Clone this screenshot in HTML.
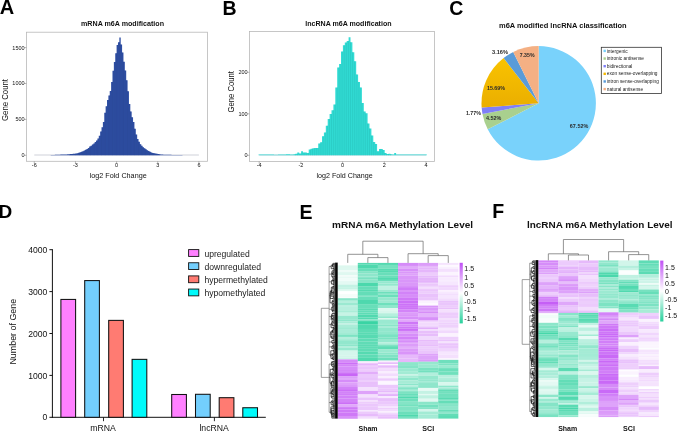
<!DOCTYPE html>
<html><head><meta charset="utf-8"><style>
html,body{margin:0;padding:0;background:#fff;width:677px;height:432px;overflow:hidden}
svg{display:block;font-family:"Liberation Sans", sans-serif;will-change:transform}
</style></head><body>
<svg width="677" height="432" viewBox="0 0 677 432">
<rect width="677" height="432" fill="#fff"/>
<text x="-0.30" y="14.00" font-size="20.00" font-weight="bold" text-anchor="start" fill="#000">A</text>
<text x="222.60" y="14.60" font-size="19.50" font-weight="bold" text-anchor="start" fill="#000">B</text>
<text x="449.20" y="14.80" font-size="19.50" font-weight="bold" text-anchor="start" fill="#000">C</text>
<text x="-1.40" y="218.30" font-size="19.00" font-weight="bold" text-anchor="start" fill="#000">D</text>
<text x="299.40" y="219.10" font-size="19.50" font-weight="bold" text-anchor="start" fill="#000">E</text>
<text x="492.20" y="217.80" font-size="19.50" font-weight="bold" text-anchor="start" fill="#000">F</text>
<line x1="34.28" y1="155.00" x2="198.92" y2="155.00" stroke="#b0b4c0" stroke-width="0.6"/>
<path d="M34.28 155.30 L34.28 155.30 L35.65 155.30 L35.65 155.30 L37.02 155.30 L37.02 155.30 L38.40 155.30 L38.40 155.30 L39.77 155.30 L39.77 155.30 L41.14 155.30 L41.14 155.30 L42.51 155.30 L42.51 155.30 L43.88 155.30 L43.88 155.30 L45.26 155.30 L45.26 155.30 L46.63 155.30 L46.63 155.30 L48.00 155.30 L48.00 155.30 L49.37 155.30 L49.37 155.30 L50.74 155.30 L50.74 154.97 L52.12 154.97 L52.12 154.94 L53.49 154.94 L53.49 154.90 L54.86 154.90 L54.86 154.85 L56.23 154.85 L56.23 154.79 L57.60 154.79 L57.60 154.73 L58.98 154.73 L58.98 154.67 L60.35 154.67 L60.35 154.62 L61.72 154.62 L61.72 154.58 L63.09 154.58 L63.09 154.55 L64.46 154.55 L64.46 154.48 L65.84 154.48 L65.84 154.43 L67.21 154.43 L67.21 154.35 L68.58 154.35 L68.58 154.25 L69.95 154.25 L69.95 154.11 L71.32 154.11 L71.32 153.99 L72.70 153.99 L72.70 153.84 L74.07 153.84 L74.07 153.67 L75.44 153.67 L75.44 153.50 L76.81 153.50 L76.81 153.17 L78.18 153.17 L78.18 152.83 L79.56 152.83 L79.56 152.34 L80.93 152.34 L80.93 151.84 L82.30 151.84 L82.30 151.17 L83.67 151.17 L83.67 150.51 L85.04 150.51 L85.04 149.87 L86.42 149.87 L86.42 148.99 L87.79 148.99 L87.79 147.95 L89.16 147.95 L89.16 146.57 L90.53 146.57 L90.53 145.68 L91.90 145.68 L91.90 144.52 L93.28 144.52 L93.28 143.41 L94.65 143.41 L94.65 141.94 L96.02 141.94 L96.02 140.38 L97.39 140.38 L97.39 138.61 L98.76 138.61 L98.76 135.71 L100.14 135.71 L100.14 131.44 L101.51 131.44 L101.51 127.34 L102.88 127.34 L102.88 121.92 L104.25 121.92 L104.25 112.84 L105.62 112.84 L105.62 106.30 L107.00 106.30 L107.00 100.07 L108.37 100.07 L108.37 95.50 L109.74 95.50 L109.74 91.03 L111.11 91.03 L111.11 81.96 L112.48 81.96 L112.48 70.76 L113.86 70.76 L113.86 61.94 L115.23 61.94 L115.23 53.30 L116.60 53.30 L116.60 44.94 L117.97 44.94 L117.97 42.28 L119.34 42.28 L119.34 37.55 L120.72 37.55 L120.72 44.55 L122.09 44.55 L122.09 52.54 L123.46 52.54 L123.46 61.83 L124.83 61.83 L124.83 70.40 L126.20 70.40 L126.20 80.29 L127.58 80.29 L127.58 91.32 L128.95 91.32 L128.95 103.99 L130.32 103.99 L130.32 111.38 L131.69 111.38 L131.69 117.33 L133.06 117.33 L133.06 122.03 L134.44 122.03 L134.44 128.70 L135.81 128.70 L135.81 134.62 L137.18 134.62 L137.18 139.04 L138.55 139.04 L138.55 141.63 L139.92 141.63 L139.92 144.15 L141.30 144.15 L141.30 145.81 L142.67 145.81 L142.67 147.24 L144.04 147.24 L144.04 148.26 L145.41 148.26 L145.41 149.24 L146.78 149.24 L146.78 150.26 L148.16 150.26 L148.16 151.06 L149.53 151.06 L149.53 151.86 L150.90 151.86 L150.90 152.47 L152.27 152.47 L152.27 152.92 L153.64 152.92 L153.64 153.32 L155.02 153.32 L155.02 153.62 L156.39 153.62 L156.39 153.87 L157.76 153.87 L157.76 154.08 L159.13 154.08 L159.13 154.28 L160.50 154.28 L160.50 154.44 L161.88 154.44 L161.88 154.55 L163.25 154.55 L163.25 154.63 L164.62 154.63 L164.62 154.67 L165.99 154.67 L165.99 154.72 L167.36 154.72 L167.36 154.77 L168.74 154.77 L168.74 154.81 L170.11 154.81 L170.11 154.84 L171.48 154.84 L171.48 154.88 L172.85 154.88 L172.85 154.91 L174.22 154.91 L174.22 154.94 L175.60 154.94 L175.60 154.95 L176.97 154.95 L176.97 154.96 L178.34 154.96 L178.34 154.98 L179.71 154.98 L179.71 154.99 L181.08 154.99 L181.08 155.00 L182.46 155.00 L182.46 155.30 L183.83 155.30 L183.83 155.30 L185.20 155.30 L185.20 155.30 L186.57 155.30 L186.57 155.30 L187.94 155.30 L187.94 155.30 L189.32 155.30 L189.32 155.30 L190.69 155.30 L190.69 155.30 L192.06 155.30 L192.06 155.30 L193.43 155.30 L193.43 155.30 L194.80 155.30 L194.80 155.30 L196.18 155.30 L196.18 155.30 L197.55 155.30 L197.55 155.30 L198.92 155.30 L198.92 155.30 L200.29 155.30 L200.29 155.30 Z" fill="#3050a6"/>
<line x1="69.95" y1="154.25" x2="69.95" y2="155.30" stroke="#26428c" stroke-width="0.45"/>
<line x1="71.32" y1="154.11" x2="71.32" y2="155.30" stroke="#26428c" stroke-width="0.45"/>
<line x1="72.70" y1="153.99" x2="72.70" y2="155.30" stroke="#26428c" stroke-width="0.45"/>
<line x1="74.07" y1="153.84" x2="74.07" y2="155.30" stroke="#26428c" stroke-width="0.45"/>
<line x1="75.44" y1="153.67" x2="75.44" y2="155.30" stroke="#26428c" stroke-width="0.45"/>
<line x1="76.81" y1="153.50" x2="76.81" y2="155.30" stroke="#26428c" stroke-width="0.45"/>
<line x1="78.18" y1="153.17" x2="78.18" y2="155.30" stroke="#26428c" stroke-width="0.45"/>
<line x1="79.56" y1="152.83" x2="79.56" y2="155.30" stroke="#26428c" stroke-width="0.45"/>
<line x1="80.93" y1="152.34" x2="80.93" y2="155.30" stroke="#26428c" stroke-width="0.45"/>
<line x1="82.30" y1="151.84" x2="82.30" y2="155.30" stroke="#26428c" stroke-width="0.45"/>
<line x1="83.67" y1="151.17" x2="83.67" y2="155.30" stroke="#26428c" stroke-width="0.45"/>
<line x1="85.04" y1="150.51" x2="85.04" y2="155.30" stroke="#26428c" stroke-width="0.45"/>
<line x1="86.42" y1="149.87" x2="86.42" y2="155.30" stroke="#26428c" stroke-width="0.45"/>
<line x1="87.79" y1="148.99" x2="87.79" y2="155.30" stroke="#26428c" stroke-width="0.45"/>
<line x1="89.16" y1="147.95" x2="89.16" y2="155.30" stroke="#26428c" stroke-width="0.45"/>
<line x1="90.53" y1="146.57" x2="90.53" y2="155.30" stroke="#26428c" stroke-width="0.45"/>
<line x1="91.90" y1="145.68" x2="91.90" y2="155.30" stroke="#26428c" stroke-width="0.45"/>
<line x1="93.28" y1="144.52" x2="93.28" y2="155.30" stroke="#26428c" stroke-width="0.45"/>
<line x1="94.65" y1="143.41" x2="94.65" y2="155.30" stroke="#26428c" stroke-width="0.45"/>
<line x1="96.02" y1="141.94" x2="96.02" y2="155.30" stroke="#26428c" stroke-width="0.45"/>
<line x1="97.39" y1="140.38" x2="97.39" y2="155.30" stroke="#26428c" stroke-width="0.45"/>
<line x1="98.76" y1="138.61" x2="98.76" y2="155.30" stroke="#26428c" stroke-width="0.45"/>
<line x1="100.14" y1="135.71" x2="100.14" y2="155.30" stroke="#26428c" stroke-width="0.45"/>
<line x1="101.51" y1="131.44" x2="101.51" y2="155.30" stroke="#26428c" stroke-width="0.45"/>
<line x1="102.88" y1="127.34" x2="102.88" y2="155.30" stroke="#26428c" stroke-width="0.45"/>
<line x1="104.25" y1="121.92" x2="104.25" y2="155.30" stroke="#26428c" stroke-width="0.45"/>
<line x1="105.62" y1="112.84" x2="105.62" y2="155.30" stroke="#26428c" stroke-width="0.45"/>
<line x1="107.00" y1="106.30" x2="107.00" y2="155.30" stroke="#26428c" stroke-width="0.45"/>
<line x1="108.37" y1="100.07" x2="108.37" y2="155.30" stroke="#26428c" stroke-width="0.45"/>
<line x1="109.74" y1="95.50" x2="109.74" y2="155.30" stroke="#26428c" stroke-width="0.45"/>
<line x1="111.11" y1="91.03" x2="111.11" y2="155.30" stroke="#26428c" stroke-width="0.45"/>
<line x1="112.48" y1="81.96" x2="112.48" y2="155.30" stroke="#26428c" stroke-width="0.45"/>
<line x1="113.86" y1="70.76" x2="113.86" y2="155.30" stroke="#26428c" stroke-width="0.45"/>
<line x1="115.23" y1="61.94" x2="115.23" y2="155.30" stroke="#26428c" stroke-width="0.45"/>
<line x1="116.60" y1="53.30" x2="116.60" y2="155.30" stroke="#26428c" stroke-width="0.45"/>
<line x1="117.97" y1="44.94" x2="117.97" y2="155.30" stroke="#26428c" stroke-width="0.45"/>
<line x1="119.34" y1="42.28" x2="119.34" y2="155.30" stroke="#26428c" stroke-width="0.45"/>
<line x1="120.72" y1="44.55" x2="120.72" y2="155.30" stroke="#26428c" stroke-width="0.45"/>
<line x1="122.09" y1="52.54" x2="122.09" y2="155.30" stroke="#26428c" stroke-width="0.45"/>
<line x1="123.46" y1="61.83" x2="123.46" y2="155.30" stroke="#26428c" stroke-width="0.45"/>
<line x1="124.83" y1="70.40" x2="124.83" y2="155.30" stroke="#26428c" stroke-width="0.45"/>
<line x1="126.20" y1="80.29" x2="126.20" y2="155.30" stroke="#26428c" stroke-width="0.45"/>
<line x1="127.58" y1="91.32" x2="127.58" y2="155.30" stroke="#26428c" stroke-width="0.45"/>
<line x1="128.95" y1="103.99" x2="128.95" y2="155.30" stroke="#26428c" stroke-width="0.45"/>
<line x1="130.32" y1="111.38" x2="130.32" y2="155.30" stroke="#26428c" stroke-width="0.45"/>
<line x1="131.69" y1="117.33" x2="131.69" y2="155.30" stroke="#26428c" stroke-width="0.45"/>
<line x1="133.06" y1="122.03" x2="133.06" y2="155.30" stroke="#26428c" stroke-width="0.45"/>
<line x1="134.44" y1="128.70" x2="134.44" y2="155.30" stroke="#26428c" stroke-width="0.45"/>
<line x1="135.81" y1="134.62" x2="135.81" y2="155.30" stroke="#26428c" stroke-width="0.45"/>
<line x1="137.18" y1="139.04" x2="137.18" y2="155.30" stroke="#26428c" stroke-width="0.45"/>
<line x1="138.55" y1="141.63" x2="138.55" y2="155.30" stroke="#26428c" stroke-width="0.45"/>
<line x1="139.92" y1="144.15" x2="139.92" y2="155.30" stroke="#26428c" stroke-width="0.45"/>
<line x1="141.30" y1="145.81" x2="141.30" y2="155.30" stroke="#26428c" stroke-width="0.45"/>
<line x1="142.67" y1="147.24" x2="142.67" y2="155.30" stroke="#26428c" stroke-width="0.45"/>
<line x1="144.04" y1="148.26" x2="144.04" y2="155.30" stroke="#26428c" stroke-width="0.45"/>
<line x1="145.41" y1="149.24" x2="145.41" y2="155.30" stroke="#26428c" stroke-width="0.45"/>
<line x1="146.78" y1="150.26" x2="146.78" y2="155.30" stroke="#26428c" stroke-width="0.45"/>
<line x1="148.16" y1="151.06" x2="148.16" y2="155.30" stroke="#26428c" stroke-width="0.45"/>
<line x1="149.53" y1="151.86" x2="149.53" y2="155.30" stroke="#26428c" stroke-width="0.45"/>
<line x1="150.90" y1="152.47" x2="150.90" y2="155.30" stroke="#26428c" stroke-width="0.45"/>
<line x1="152.27" y1="152.92" x2="152.27" y2="155.30" stroke="#26428c" stroke-width="0.45"/>
<line x1="153.64" y1="153.32" x2="153.64" y2="155.30" stroke="#26428c" stroke-width="0.45"/>
<line x1="155.02" y1="153.62" x2="155.02" y2="155.30" stroke="#26428c" stroke-width="0.45"/>
<line x1="156.39" y1="153.87" x2="156.39" y2="155.30" stroke="#26428c" stroke-width="0.45"/>
<line x1="157.76" y1="154.08" x2="157.76" y2="155.30" stroke="#26428c" stroke-width="0.45"/>
<line x1="159.13" y1="154.28" x2="159.13" y2="155.30" stroke="#26428c" stroke-width="0.45"/>
<rect x="26.40" y="32.20" width="181.10" height="129.10" fill="none" stroke="#b8b8b8" stroke-width="0.8"/>
<line x1="24.20" y1="155.30" x2="26.40" y2="155.30" stroke="#8a8a8a" stroke-width="0.6"/>
<text x="24.60" y="157.28" font-size="5.50" font-weight="normal" text-anchor="end" fill="#111">0</text>
<line x1="24.20" y1="119.40" x2="26.40" y2="119.40" stroke="#8a8a8a" stroke-width="0.6"/>
<text x="24.60" y="121.38" font-size="5.50" font-weight="normal" text-anchor="end" fill="#111">500</text>
<line x1="24.20" y1="83.50" x2="26.40" y2="83.50" stroke="#8a8a8a" stroke-width="0.6"/>
<text x="24.60" y="85.48" font-size="5.50" font-weight="normal" text-anchor="end" fill="#111">1000</text>
<line x1="24.20" y1="47.60" x2="26.40" y2="47.60" stroke="#8a8a8a" stroke-width="0.6"/>
<text x="24.60" y="49.58" font-size="5.50" font-weight="normal" text-anchor="end" fill="#111">1500</text>
<line x1="34.28" y1="161.30" x2="34.28" y2="163.50" stroke="#8a8a8a" stroke-width="0.6"/>
<text x="34.28" y="167.10" font-size="5.50" font-weight="normal" text-anchor="middle" fill="#111">-6</text>
<line x1="75.44" y1="161.30" x2="75.44" y2="163.50" stroke="#8a8a8a" stroke-width="0.6"/>
<text x="75.44" y="167.10" font-size="5.50" font-weight="normal" text-anchor="middle" fill="#111">-3</text>
<line x1="116.60" y1="161.30" x2="116.60" y2="163.50" stroke="#8a8a8a" stroke-width="0.6"/>
<text x="116.60" y="167.10" font-size="5.50" font-weight="normal" text-anchor="middle" fill="#111">0</text>
<line x1="157.76" y1="161.30" x2="157.76" y2="163.50" stroke="#8a8a8a" stroke-width="0.6"/>
<text x="157.76" y="167.10" font-size="5.50" font-weight="normal" text-anchor="middle" fill="#111">3</text>
<line x1="198.92" y1="161.30" x2="198.92" y2="163.50" stroke="#8a8a8a" stroke-width="0.6"/>
<text x="198.92" y="167.10" font-size="5.50" font-weight="normal" text-anchor="middle" fill="#111">6</text>
<text x="81.00" y="26.30" font-size="7.00" font-weight="bold" text-anchor="start" fill="#111" textLength="83.00" lengthAdjust="spacingAndGlyphs">mRNA m6A modification</text>
<text transform="translate(7.60 100.00) rotate(-90)" x="0" y="0" font-size="8.70" font-weight="normal" text-anchor="middle" fill="#111" textLength="42.00" lengthAdjust="spacingAndGlyphs">Gene Count</text>
<text x="118.20" y="177.80" font-size="7.20" font-weight="normal" text-anchor="middle" fill="#111" textLength="57.00" lengthAdjust="spacingAndGlyphs">log2 Fold Change</text>
<line x1="259.20" y1="155.00" x2="426.00" y2="155.00" stroke="#b0b4c0" stroke-width="0.6"/>
<path d="M258.50 155.30 L258.50 154.60 L262.00 154.60 L262.00 154.60 L266.00 154.60 L266.00 154.60 L270.00 154.60 L270.00 154.60 L274.00 154.60 L274.00 154.70 L278.00 154.70 L278.00 154.60 L282.00 154.60 L282.00 154.50 L286.00 154.50 L286.00 154.30 L290.00 154.30 L290.00 154.60 L291.60 154.60 L291.60 154.50 L293.50 154.50 L293.50 154.20 L295.40 154.20 L295.40 153.80 L297.30 153.80 L297.30 152.40 L299.20 152.40 L299.20 153.60 L301.10 153.60 L301.10 151.30 L303.00 151.30 L303.00 152.60 L304.90 152.60 L304.90 152.40 L306.80 152.40 L306.80 152.90 L308.70 152.90 L308.70 149.50 L310.60 149.50 L310.60 148.70 L312.50 148.70 L312.50 148.30 L314.40 148.30 L314.40 148.00 L316.30 148.00 L316.30 148.00 L318.20 148.00 L318.20 143.50 L320.10 143.50 L320.10 142.20 L322.00 142.20 L322.00 136.20 L323.90 136.20 L323.90 132.50 L325.80 132.50 L325.80 125.70 L327.70 125.70 L327.70 119.00 L329.60 119.00 L329.60 114.00 L331.50 114.00 L331.50 110.30 L333.40 110.30 L333.40 104.60 L335.30 104.60 L335.30 87.50 L337.20 87.50 L337.20 67.50 L339.10 67.50 L339.10 64.00 L341.00 64.00 L341.00 51.50 L342.90 51.50 L342.90 45.30 L344.80 45.30 L344.80 42.50 L346.70 42.50 L346.70 41.10 L348.60 41.10 L348.60 37.20 L350.50 37.20 L350.50 42.20 L352.40 42.20 L352.40 52.20 L354.30 52.20 L354.30 61.20 L356.20 61.20 L356.20 74.40 L358.10 74.40 L358.10 81.90 L360.00 81.90 L360.00 87.40 L361.90 87.40 L361.90 103.10 L363.80 103.10 L363.80 111.50 L365.70 111.50 L365.70 113.30 L367.60 113.30 L367.60 123.50 L369.50 123.50 L369.50 128.50 L371.40 128.50 L371.40 135.60 L373.30 135.60 L373.30 142.00 L375.20 142.00 L375.20 143.90 L377.10 143.90 L377.10 151.30 L379.00 151.30 L379.00 148.90 L380.90 148.90 L380.90 148.90 L382.80 148.90 L382.80 150.00 L384.70 150.00 L384.70 153.00 L386.60 153.00 L386.60 154.00 L388.50 154.00 L388.50 153.70 L390.40 153.70 L390.40 154.20 L392.30 154.20 L392.30 154.50 L394.20 154.50 L394.20 153.10 L396.10 153.10 L396.10 154.60 L398.00 154.60 L398.00 154.60 L400.00 154.60 L400.00 154.60 L402.40 154.60 L402.40 154.60 L405.00 154.60 L405.00 154.60 L409.00 154.60 L410.00 154.60 L414.00 154.60 L414.00 154.60 L418.00 154.60 L418.00 154.60 L422.00 154.60 L422.00 154.60 L425.00 154.60 L425.00 154.60 L426.90 154.60 L426.90 155.30 Z" fill="#32dcd5"/>
<line x1="295.40" y1="154.20" x2="295.40" y2="155.30" stroke="#24bdb5" stroke-width="0.45"/>
<line x1="297.30" y1="153.80" x2="297.30" y2="155.30" stroke="#24bdb5" stroke-width="0.45"/>
<line x1="299.20" y1="153.60" x2="299.20" y2="155.30" stroke="#24bdb5" stroke-width="0.45"/>
<line x1="301.10" y1="153.60" x2="301.10" y2="155.30" stroke="#24bdb5" stroke-width="0.45"/>
<line x1="303.00" y1="152.60" x2="303.00" y2="155.30" stroke="#24bdb5" stroke-width="0.45"/>
<line x1="304.90" y1="152.60" x2="304.90" y2="155.30" stroke="#24bdb5" stroke-width="0.45"/>
<line x1="306.80" y1="152.90" x2="306.80" y2="155.30" stroke="#24bdb5" stroke-width="0.45"/>
<line x1="308.70" y1="152.90" x2="308.70" y2="155.30" stroke="#24bdb5" stroke-width="0.45"/>
<line x1="310.60" y1="149.50" x2="310.60" y2="155.30" stroke="#24bdb5" stroke-width="0.45"/>
<line x1="312.50" y1="148.70" x2="312.50" y2="155.30" stroke="#24bdb5" stroke-width="0.45"/>
<line x1="314.40" y1="148.30" x2="314.40" y2="155.30" stroke="#24bdb5" stroke-width="0.45"/>
<line x1="316.30" y1="148.00" x2="316.30" y2="155.30" stroke="#24bdb5" stroke-width="0.45"/>
<line x1="318.20" y1="148.00" x2="318.20" y2="155.30" stroke="#24bdb5" stroke-width="0.45"/>
<line x1="320.10" y1="143.50" x2="320.10" y2="155.30" stroke="#24bdb5" stroke-width="0.45"/>
<line x1="322.00" y1="142.20" x2="322.00" y2="155.30" stroke="#24bdb5" stroke-width="0.45"/>
<line x1="323.90" y1="136.20" x2="323.90" y2="155.30" stroke="#24bdb5" stroke-width="0.45"/>
<line x1="325.80" y1="132.50" x2="325.80" y2="155.30" stroke="#24bdb5" stroke-width="0.45"/>
<line x1="327.70" y1="125.70" x2="327.70" y2="155.30" stroke="#24bdb5" stroke-width="0.45"/>
<line x1="329.60" y1="119.00" x2="329.60" y2="155.30" stroke="#24bdb5" stroke-width="0.45"/>
<line x1="331.50" y1="114.00" x2="331.50" y2="155.30" stroke="#24bdb5" stroke-width="0.45"/>
<line x1="333.40" y1="110.30" x2="333.40" y2="155.30" stroke="#24bdb5" stroke-width="0.45"/>
<line x1="335.30" y1="104.60" x2="335.30" y2="155.30" stroke="#24bdb5" stroke-width="0.45"/>
<line x1="337.20" y1="87.50" x2="337.20" y2="155.30" stroke="#24bdb5" stroke-width="0.45"/>
<line x1="339.10" y1="67.50" x2="339.10" y2="155.30" stroke="#24bdb5" stroke-width="0.45"/>
<line x1="341.00" y1="64.00" x2="341.00" y2="155.30" stroke="#24bdb5" stroke-width="0.45"/>
<line x1="342.90" y1="51.50" x2="342.90" y2="155.30" stroke="#24bdb5" stroke-width="0.45"/>
<line x1="344.80" y1="45.30" x2="344.80" y2="155.30" stroke="#24bdb5" stroke-width="0.45"/>
<line x1="346.70" y1="42.50" x2="346.70" y2="155.30" stroke="#24bdb5" stroke-width="0.45"/>
<line x1="348.60" y1="41.10" x2="348.60" y2="155.30" stroke="#24bdb5" stroke-width="0.45"/>
<line x1="350.50" y1="42.20" x2="350.50" y2="155.30" stroke="#24bdb5" stroke-width="0.45"/>
<line x1="352.40" y1="52.20" x2="352.40" y2="155.30" stroke="#24bdb5" stroke-width="0.45"/>
<line x1="354.30" y1="61.20" x2="354.30" y2="155.30" stroke="#24bdb5" stroke-width="0.45"/>
<line x1="356.20" y1="74.40" x2="356.20" y2="155.30" stroke="#24bdb5" stroke-width="0.45"/>
<line x1="358.10" y1="81.90" x2="358.10" y2="155.30" stroke="#24bdb5" stroke-width="0.45"/>
<line x1="360.00" y1="87.40" x2="360.00" y2="155.30" stroke="#24bdb5" stroke-width="0.45"/>
<line x1="361.90" y1="103.10" x2="361.90" y2="155.30" stroke="#24bdb5" stroke-width="0.45"/>
<line x1="363.80" y1="111.50" x2="363.80" y2="155.30" stroke="#24bdb5" stroke-width="0.45"/>
<line x1="365.70" y1="113.30" x2="365.70" y2="155.30" stroke="#24bdb5" stroke-width="0.45"/>
<line x1="367.60" y1="123.50" x2="367.60" y2="155.30" stroke="#24bdb5" stroke-width="0.45"/>
<line x1="369.50" y1="128.50" x2="369.50" y2="155.30" stroke="#24bdb5" stroke-width="0.45"/>
<line x1="371.40" y1="135.60" x2="371.40" y2="155.30" stroke="#24bdb5" stroke-width="0.45"/>
<line x1="373.30" y1="142.00" x2="373.30" y2="155.30" stroke="#24bdb5" stroke-width="0.45"/>
<line x1="375.20" y1="143.90" x2="375.20" y2="155.30" stroke="#24bdb5" stroke-width="0.45"/>
<line x1="377.10" y1="151.30" x2="377.10" y2="155.30" stroke="#24bdb5" stroke-width="0.45"/>
<line x1="379.00" y1="151.30" x2="379.00" y2="155.30" stroke="#24bdb5" stroke-width="0.45"/>
<line x1="380.90" y1="148.90" x2="380.90" y2="155.30" stroke="#24bdb5" stroke-width="0.45"/>
<line x1="382.80" y1="150.00" x2="382.80" y2="155.30" stroke="#24bdb5" stroke-width="0.45"/>
<line x1="384.70" y1="153.00" x2="384.70" y2="155.30" stroke="#24bdb5" stroke-width="0.45"/>
<line x1="386.60" y1="154.00" x2="386.60" y2="155.30" stroke="#24bdb5" stroke-width="0.45"/>
<line x1="388.50" y1="154.00" x2="388.50" y2="155.30" stroke="#24bdb5" stroke-width="0.45"/>
<line x1="390.40" y1="154.20" x2="390.40" y2="155.30" stroke="#24bdb5" stroke-width="0.45"/>
<rect x="249.40" y="31.50" width="185.20" height="130.00" fill="none" stroke="#b8b8b8" stroke-width="0.8"/>
<line x1="247.20" y1="155.30" x2="249.40" y2="155.30" stroke="#8a8a8a" stroke-width="0.6"/>
<text x="247.60" y="157.28" font-size="5.50" font-weight="normal" text-anchor="end" fill="#111">0</text>
<line x1="247.20" y1="113.80" x2="249.40" y2="113.80" stroke="#8a8a8a" stroke-width="0.6"/>
<text x="247.60" y="115.78" font-size="5.50" font-weight="normal" text-anchor="end" fill="#111">100</text>
<line x1="247.20" y1="72.30" x2="249.40" y2="72.30" stroke="#8a8a8a" stroke-width="0.6"/>
<text x="247.60" y="74.28" font-size="5.50" font-weight="normal" text-anchor="end" fill="#111">200</text>
<line x1="259.20" y1="161.50" x2="259.20" y2="163.70" stroke="#8a8a8a" stroke-width="0.6"/>
<text x="259.20" y="167.30" font-size="5.50" font-weight="normal" text-anchor="middle" fill="#111">-4</text>
<line x1="300.90" y1="161.50" x2="300.90" y2="163.70" stroke="#8a8a8a" stroke-width="0.6"/>
<text x="300.90" y="167.30" font-size="5.50" font-weight="normal" text-anchor="middle" fill="#111">-2</text>
<line x1="342.60" y1="161.50" x2="342.60" y2="163.70" stroke="#8a8a8a" stroke-width="0.6"/>
<text x="342.60" y="167.30" font-size="5.50" font-weight="normal" text-anchor="middle" fill="#111">0</text>
<line x1="384.30" y1="161.50" x2="384.30" y2="163.70" stroke="#8a8a8a" stroke-width="0.6"/>
<text x="384.30" y="167.30" font-size="5.50" font-weight="normal" text-anchor="middle" fill="#111">2</text>
<line x1="426.00" y1="161.50" x2="426.00" y2="163.70" stroke="#8a8a8a" stroke-width="0.6"/>
<text x="426.00" y="167.30" font-size="5.50" font-weight="normal" text-anchor="middle" fill="#111">4</text>
<text x="305.20" y="26.00" font-size="7.00" font-weight="bold" text-anchor="start" fill="#111" textLength="86.40" lengthAdjust="spacingAndGlyphs">lncRNA m6A modification</text>
<text transform="translate(233.80 91.80) rotate(-90)" x="0" y="0" font-size="8.70" font-weight="normal" text-anchor="middle" fill="#111" textLength="41.60" lengthAdjust="spacingAndGlyphs">Gene Count</text>
<text x="344.60" y="177.80" font-size="7.20" font-weight="normal" text-anchor="middle" fill="#111" textLength="56.20" lengthAdjust="spacingAndGlyphs">log2 Fold Change</text>
<defs><linearGradient id="gold" x1="0" y1="0" x2="0" y2="1"><stop offset="0" stop-color="#f9c300"/><stop offset="1" stop-color="#eaae00"/></linearGradient></defs>
<text x="499.00" y="27.80" font-size="7.50" font-weight="bold" text-anchor="start" fill="#111" textLength="127.70" lengthAdjust="spacingAndGlyphs">m6A modified lncRNA classification</text>
<path d="M538.70 103.30 L538.70 46.10 A57.20 57.20 0 1 1 487.71 129.23 Z" fill="#79d2fb"/>
<path d="M538.70 103.30 L487.71 129.23 A57.20 57.20 0 0 1 482.49 113.90 Z" fill="#a9d08e"/>
<path d="M538.70 103.30 L482.49 113.90 A57.20 57.20 0 0 1 481.66 107.60 Z" fill="#7f7ff7"/>
<path d="M538.70 103.30 L481.66 107.60 A57.20 57.20 0 0 1 503.62 58.12 Z" fill="url(#gold)"/>
<path d="M538.70 103.30 L503.62 58.12 A57.20 57.20 0 0 1 513.22 52.09 Z" fill="#5a9bd8"/>
<path d="M538.70 103.30 L513.22 52.09 A57.20 57.20 0 0 1 538.70 46.10 Z" fill="#f4b084"/>
<text x="569.80" y="128.00" font-size="6.00" font-weight="bold" text-anchor="start" fill="#2a2a2a" textLength="18.50" lengthAdjust="spacingAndGlyphs">67.52%</text>
<text x="486.00" y="120.00" font-size="6.00" font-weight="bold" text-anchor="start" fill="#2a2a2a" textLength="15.30" lengthAdjust="spacingAndGlyphs">4.52%</text>
<text x="465.90" y="114.90" font-size="6.00" font-weight="bold" text-anchor="start" fill="#2a2a2a" textLength="15.00" lengthAdjust="spacingAndGlyphs">1.77%</text>
<text x="487.00" y="89.90" font-size="6.00" font-weight="bold" text-anchor="start" fill="#2a2a2a" textLength="18.00" lengthAdjust="spacingAndGlyphs">15.69%</text>
<text x="492.00" y="53.60" font-size="6.00" font-weight="bold" text-anchor="start" fill="#2a2a2a" textLength="16.00" lengthAdjust="spacingAndGlyphs">3.16%</text>
<text x="519.80" y="57.00" font-size="6.00" font-weight="bold" text-anchor="start" fill="#2a2a2a" textLength="14.70" lengthAdjust="spacingAndGlyphs">7.35%</text>
<rect x="601.3" y="47.3" width="60.1" height="46.2" fill="#fff" stroke="#333" stroke-width="0.8"/>
<rect x="603.5" y="49.70" width="2.4" height="2.4" fill="#79d2fb"/>
<text x="606.80" y="52.50" font-size="4.80" font-weight="normal" text-anchor="start" fill="#222" textLength="20.80" lengthAdjust="spacingAndGlyphs">intergenic</text>
<rect x="603.5" y="57.34" width="2.4" height="2.4" fill="#a9d08e"/>
<text x="606.80" y="60.14" font-size="4.80" font-weight="normal" text-anchor="start" fill="#222" textLength="37.20" lengthAdjust="spacingAndGlyphs">intronic antisense</text>
<rect x="603.5" y="64.98" width="2.4" height="2.4" fill="#7f7ff7"/>
<text x="606.80" y="67.78" font-size="4.80" font-weight="normal" text-anchor="start" fill="#222" textLength="25.60" lengthAdjust="spacingAndGlyphs">bidirectional</text>
<rect x="603.5" y="72.62" width="2.4" height="2.4" fill="#f5b800"/>
<text x="606.80" y="75.42" font-size="4.80" font-weight="normal" text-anchor="start" fill="#222" textLength="50.70" lengthAdjust="spacingAndGlyphs">exon sense-overlapping</text>
<rect x="603.5" y="80.26" width="2.4" height="2.4" fill="#5a9bd8"/>
<text x="606.80" y="83.06" font-size="4.80" font-weight="normal" text-anchor="start" fill="#222" textLength="52.00" lengthAdjust="spacingAndGlyphs">intron sense-overlapping</text>
<rect x="603.5" y="87.90" width="2.4" height="2.4" fill="#f4b084"/>
<text x="606.80" y="90.70" font-size="4.80" font-weight="normal" text-anchor="start" fill="#222" textLength="36.30" lengthAdjust="spacingAndGlyphs">natural antisense</text>
<line x1="52.4" y1="249.2" x2="52.4" y2="417.8" stroke="#111" stroke-width="1"/>
<line x1="51.9" y1="417.3" x2="265.8" y2="417.3" stroke="#111" stroke-width="1"/>
<line x1="49.4" y1="417.30" x2="52.4" y2="417.30" stroke="#111" stroke-width="1"/>
<text x="47.30" y="420.40" font-size="8.60" font-weight="normal" text-anchor="end" fill="#111">0</text>
<line x1="49.4" y1="375.40" x2="52.4" y2="375.40" stroke="#111" stroke-width="1"/>
<text x="47.30" y="378.50" font-size="8.60" font-weight="normal" text-anchor="end" fill="#111">1000</text>
<line x1="49.4" y1="333.50" x2="52.4" y2="333.50" stroke="#111" stroke-width="1"/>
<text x="47.30" y="336.60" font-size="8.60" font-weight="normal" text-anchor="end" fill="#111">2000</text>
<line x1="49.4" y1="291.60" x2="52.4" y2="291.60" stroke="#111" stroke-width="1"/>
<text x="47.30" y="294.70" font-size="8.60" font-weight="normal" text-anchor="end" fill="#111">3000</text>
<line x1="49.4" y1="249.70" x2="52.4" y2="249.70" stroke="#111" stroke-width="1"/>
<text x="47.30" y="252.80" font-size="8.60" font-weight="normal" text-anchor="end" fill="#111">4000</text>
<line x1="103.50" y1="417.3" x2="103.50" y2="421.2" stroke="#111" stroke-width="0.9"/>
<line x1="214.40" y1="417.3" x2="214.40" y2="421.2" stroke="#111" stroke-width="0.9"/>
<text x="103.00" y="430.80" font-size="8.60" font-weight="normal" text-anchor="middle" fill="#111" textLength="25.60" lengthAdjust="spacingAndGlyphs">mRNA</text>
<text x="214.10" y="430.80" font-size="8.60" font-weight="normal" text-anchor="middle" fill="#111" textLength="29.40" lengthAdjust="spacingAndGlyphs">lncRNA</text>
<text transform="translate(15.60 331.70) rotate(-90)" x="0" y="0" font-size="8.90" font-weight="normal" text-anchor="middle" fill="#111" textLength="65.80" lengthAdjust="spacingAndGlyphs">Number of Gene</text>
<rect x="60.90" y="299.43" width="14.7" height="117.87" fill="#ff80ff" stroke="#111" stroke-width="1.05"/>
<rect x="84.70" y="280.58" width="14.7" height="136.72" fill="#73cffd" stroke="#111" stroke-width="1.05"/>
<rect x="108.70" y="320.38" width="14.7" height="96.92" fill="#ff7b72" stroke="#111" stroke-width="1.05"/>
<rect x="132.10" y="359.35" width="14.7" height="57.95" fill="#00fbfb" stroke="#111" stroke-width="1.05"/>
<rect x="171.70" y="394.50" width="14.7" height="22.80" fill="#ff80ff" stroke="#111" stroke-width="1.05"/>
<rect x="195.50" y="394.29" width="14.7" height="23.01" fill="#73cffd" stroke="#111" stroke-width="1.05"/>
<rect x="219.20" y="397.69" width="14.7" height="19.61" fill="#ff7b72" stroke="#111" stroke-width="1.05"/>
<rect x="242.80" y="407.74" width="14.7" height="9.56" fill="#00fbfb" stroke="#111" stroke-width="1.05"/>
<rect x="188.6" y="249.60" width="10.2" height="6.8" fill="#ff80ff" stroke="#111" stroke-width="0.9"/>
<text x="204.40" y="256.60" font-size="8.50" font-weight="normal" text-anchor="start" fill="#1a1a1a" textLength="45.30" lengthAdjust="spacingAndGlyphs">upregulated</text>
<rect x="188.6" y="262.75" width="10.2" height="6.8" fill="#73cffd" stroke="#111" stroke-width="0.9"/>
<text x="204.40" y="269.75" font-size="8.50" font-weight="normal" text-anchor="start" fill="#1a1a1a" textLength="56.60" lengthAdjust="spacingAndGlyphs">downregulated</text>
<rect x="188.6" y="275.90" width="10.2" height="6.8" fill="#ff7b72" stroke="#111" stroke-width="0.9"/>
<text x="204.40" y="282.90" font-size="8.50" font-weight="normal" text-anchor="start" fill="#1a1a1a" textLength="63.50" lengthAdjust="spacingAndGlyphs">hypermethylated</text>
<rect x="188.6" y="289.05" width="10.2" height="6.8" fill="#00fbfb" stroke="#111" stroke-width="0.9"/>
<text x="204.40" y="296.05" font-size="8.50" font-weight="normal" text-anchor="start" fill="#1a1a1a" textLength="61.00" lengthAdjust="spacingAndGlyphs">hypomethylated</text>
<text x="332.10" y="228.40" font-size="9.80" font-weight="bold" text-anchor="start" fill="#111" textLength="141.00" lengthAdjust="spacingAndGlyphs">mRNA m6A Methylation Level</text>
<rect x="337.70" y="262.90" width="20.15" height="2.56" fill="#ffffff"/>
<rect x="337.70" y="265.40" width="20.15" height="2.56" fill="#ddf8ef"/>
<rect x="337.70" y="267.90" width="20.15" height="2.56" fill="#dff8f0"/>
<rect x="337.70" y="270.40" width="20.15" height="1.76" fill="#eefbf7"/>
<rect x="337.70" y="272.10" width="20.15" height="3.06" fill="#dff8f0"/>
<rect x="337.70" y="275.10" width="20.15" height="1.76" fill="#f2fcf9"/>
<rect x="337.70" y="276.80" width="20.15" height="1.36" fill="#e9faf5"/>
<rect x="337.70" y="278.10" width="20.15" height="3.06" fill="#f1fcf9"/>
<rect x="337.70" y="281.10" width="20.15" height="3.56" fill="#e4f9f3"/>
<rect x="337.70" y="284.60" width="20.15" height="2.56" fill="#c3f2e4"/>
<rect x="337.70" y="287.10" width="20.15" height="2.56" fill="#c6f3e5"/>
<rect x="337.70" y="289.60" width="20.15" height="1.76" fill="#e1f9f1"/>
<rect x="337.70" y="291.30" width="20.15" height="3.06" fill="#feffff"/>
<rect x="337.70" y="294.30" width="20.15" height="1.36" fill="#f1fcf8"/>
<rect x="337.70" y="295.60" width="20.15" height="1.36" fill="#f3fcf9"/>
<rect x="337.70" y="296.90" width="20.15" height="1.36" fill="#f8fdfc"/>
<rect x="337.70" y="298.20" width="20.15" height="2.56" fill="#89e5c9"/>
<rect x="337.70" y="300.70" width="20.15" height="1.76" fill="#b5efdd"/>
<rect x="337.70" y="302.40" width="20.15" height="3.06" fill="#9be9d1"/>
<rect x="337.70" y="305.40" width="20.15" height="1.36" fill="#adedd9"/>
<rect x="337.70" y="306.70" width="20.15" height="3.56" fill="#b7efde"/>
<rect x="337.70" y="310.20" width="20.15" height="2.56" fill="#abedd8"/>
<rect x="337.70" y="312.70" width="20.15" height="3.06" fill="#c7f3e5"/>
<rect x="337.70" y="315.70" width="20.15" height="3.56" fill="#97e8cf"/>
<rect x="337.70" y="319.20" width="20.15" height="2.06" fill="#91e7cd"/>
<rect x="337.70" y="321.20" width="20.15" height="2.06" fill="#a9ecd7"/>
<rect x="337.70" y="323.20" width="20.15" height="1.36" fill="#bef1e1"/>
<rect x="337.70" y="324.50" width="20.15" height="2.56" fill="#aaecd8"/>
<rect x="337.70" y="327.00" width="20.15" height="1.36" fill="#a6ecd6"/>
<rect x="337.70" y="328.30" width="20.15" height="1.36" fill="#85e4c7"/>
<rect x="337.70" y="329.60" width="20.15" height="3.56" fill="#a9ecd8"/>
<rect x="337.70" y="333.10" width="20.15" height="1.36" fill="#99e9d0"/>
<rect x="337.70" y="334.40" width="20.15" height="2.56" fill="#7de3c3"/>
<rect x="337.70" y="336.90" width="20.15" height="2.56" fill="#b4eedc"/>
<rect x="337.70" y="339.40" width="20.15" height="1.36" fill="#8ae5c9"/>
<rect x="337.70" y="340.70" width="20.15" height="3.56" fill="#92e7cd"/>
<rect x="337.70" y="344.20" width="20.15" height="2.06" fill="#8ee6cb"/>
<rect x="337.70" y="346.20" width="20.15" height="1.36" fill="#aaedd8"/>
<rect x="337.70" y="347.50" width="20.15" height="2.56" fill="#99e9d0"/>
<rect x="337.70" y="350.00" width="20.15" height="1.76" fill="#c7f3e5"/>
<rect x="337.70" y="351.70" width="20.15" height="3.56" fill="#d5f6ec"/>
<rect x="337.70" y="355.20" width="20.15" height="2.56" fill="#d4f5eb"/>
<rect x="337.70" y="357.70" width="20.15" height="1.76" fill="#cbf4e7"/>
<rect x="337.70" y="359.40" width="20.15" height="3.06" fill="#d58bf8"/>
<rect x="337.70" y="362.40" width="20.15" height="1.76" fill="#cc70f7"/>
<rect x="337.70" y="364.10" width="20.15" height="2.56" fill="#d486f8"/>
<rect x="337.70" y="366.60" width="20.15" height="3.56" fill="#d68df9"/>
<rect x="337.70" y="370.10" width="20.15" height="1.76" fill="#d07df8"/>
<rect x="337.70" y="371.80" width="20.15" height="1.36" fill="#d488f8"/>
<rect x="337.70" y="373.10" width="20.15" height="3.06" fill="#c865f6"/>
<rect x="337.70" y="376.10" width="20.15" height="2.06" fill="#dc9ff9"/>
<rect x="337.70" y="378.10" width="20.15" height="1.76" fill="#dda2fa"/>
<rect x="337.70" y="379.80" width="20.15" height="2.56" fill="#d68df9"/>
<rect x="337.70" y="382.30" width="20.15" height="3.06" fill="#dea2fa"/>
<rect x="337.70" y="385.30" width="20.15" height="1.36" fill="#d07cf8"/>
<rect x="337.70" y="386.60" width="20.15" height="2.56" fill="#d282f8"/>
<rect x="337.70" y="389.10" width="20.15" height="2.06" fill="#cc70f7"/>
<rect x="337.70" y="391.10" width="20.15" height="2.06" fill="#d283f8"/>
<rect x="337.70" y="393.10" width="20.15" height="2.56" fill="#d17ff8"/>
<rect x="337.70" y="395.60" width="20.15" height="3.06" fill="#d282f8"/>
<rect x="337.70" y="398.60" width="20.15" height="3.56" fill="#d384f8"/>
<rect x="337.70" y="402.10" width="20.15" height="2.06" fill="#cc70f7"/>
<rect x="337.70" y="404.10" width="20.15" height="3.06" fill="#e0a9fa"/>
<rect x="337.70" y="407.10" width="20.15" height="2.56" fill="#cf7af7"/>
<rect x="337.70" y="409.60" width="20.15" height="3.06" fill="#cf7bf7"/>
<rect x="337.70" y="412.60" width="20.15" height="3.56" fill="#cf79f7"/>
<rect x="337.70" y="416.10" width="20.15" height="1.76" fill="#d488f8"/>
<rect x="337.70" y="417.80" width="20.15" height="0.86" fill="#cf7bf7"/>
<rect x="357.80" y="262.90" width="20.15" height="1.76" fill="#58dab2"/>
<rect x="357.80" y="264.60" width="20.15" height="3.56" fill="#4fd8ae"/>
<rect x="357.80" y="268.10" width="20.15" height="3.06" fill="#68deba"/>
<rect x="357.80" y="271.10" width="20.15" height="2.56" fill="#84e4c6"/>
<rect x="357.80" y="273.60" width="20.15" height="3.06" fill="#8ee6cb"/>
<rect x="357.80" y="276.60" width="20.15" height="1.36" fill="#8be6ca"/>
<rect x="357.80" y="277.90" width="20.15" height="1.36" fill="#7be2c2"/>
<rect x="357.80" y="279.20" width="20.15" height="3.56" fill="#88e5c8"/>
<rect x="357.80" y="282.70" width="20.15" height="3.56" fill="#4bd8ac"/>
<rect x="357.80" y="286.20" width="20.15" height="3.06" fill="#65ddb8"/>
<rect x="357.80" y="289.20" width="20.15" height="2.56" fill="#56dab1"/>
<rect x="357.80" y="291.70" width="20.15" height="3.56" fill="#64ddb8"/>
<rect x="357.80" y="295.20" width="20.15" height="1.36" fill="#68deba"/>
<rect x="357.80" y="296.50" width="20.15" height="3.56" fill="#68deba"/>
<rect x="357.80" y="300.00" width="20.15" height="3.06" fill="#4ed8ae"/>
<rect x="357.80" y="303.00" width="20.15" height="1.76" fill="#50d9ae"/>
<rect x="357.80" y="304.70" width="20.15" height="3.56" fill="#68deb9"/>
<rect x="357.80" y="308.20" width="20.15" height="2.56" fill="#5bdbb3"/>
<rect x="357.80" y="310.70" width="20.15" height="1.76" fill="#64ddb8"/>
<rect x="357.80" y="312.40" width="20.15" height="2.06" fill="#5edcb5"/>
<rect x="357.80" y="314.40" width="20.15" height="3.06" fill="#51d9af"/>
<rect x="357.80" y="317.40" width="20.15" height="2.06" fill="#55dab1"/>
<rect x="357.80" y="319.40" width="20.15" height="1.76" fill="#81e3c5"/>
<rect x="357.80" y="321.10" width="20.15" height="3.56" fill="#39d4a4"/>
<rect x="357.80" y="324.60" width="20.15" height="3.56" fill="#51d9af"/>
<rect x="357.80" y="328.10" width="20.15" height="1.76" fill="#43d6a8"/>
<rect x="357.80" y="329.80" width="20.15" height="3.06" fill="#5ddcb4"/>
<rect x="357.80" y="332.80" width="20.15" height="2.06" fill="#5adbb3"/>
<rect x="357.80" y="334.80" width="20.15" height="3.56" fill="#58dab2"/>
<rect x="357.80" y="338.30" width="20.15" height="3.06" fill="#5edcb5"/>
<rect x="357.80" y="341.30" width="20.15" height="3.56" fill="#60dcb6"/>
<rect x="357.80" y="344.80" width="20.15" height="2.06" fill="#5ddbb4"/>
<rect x="357.80" y="346.80" width="20.15" height="2.06" fill="#5edcb5"/>
<rect x="357.80" y="348.80" width="20.15" height="2.56" fill="#5fdcb5"/>
<rect x="357.80" y="351.30" width="20.15" height="3.06" fill="#56dab1"/>
<rect x="357.80" y="354.30" width="20.15" height="3.56" fill="#5edcb5"/>
<rect x="357.80" y="357.80" width="20.15" height="3.56" fill="#50d9ae"/>
<rect x="357.80" y="361.30" width="20.15" height="2.06" fill="#f8ecfe"/>
<rect x="357.80" y="363.30" width="20.15" height="2.06" fill="#e5b7fb"/>
<rect x="357.80" y="365.30" width="20.15" height="1.36" fill="#e8bffb"/>
<rect x="357.80" y="366.60" width="20.15" height="2.56" fill="#eac6fc"/>
<rect x="357.80" y="369.10" width="20.15" height="2.56" fill="#edccfc"/>
<rect x="357.80" y="371.60" width="20.15" height="3.06" fill="#e2adfa"/>
<rect x="357.80" y="374.60" width="20.15" height="2.56" fill="#ebc8fc"/>
<rect x="357.80" y="377.10" width="20.15" height="3.06" fill="#e9c3fc"/>
<rect x="357.80" y="380.10" width="20.15" height="1.36" fill="#eccafc"/>
<rect x="357.80" y="381.40" width="20.15" height="3.56" fill="#e8bffb"/>
<rect x="357.80" y="384.90" width="20.15" height="2.56" fill="#e8c0fb"/>
<rect x="357.80" y="387.40" width="20.15" height="3.56" fill="#f4e1fd"/>
<rect x="357.80" y="390.90" width="20.15" height="3.56" fill="#dea2fa"/>
<rect x="357.80" y="394.40" width="20.15" height="3.06" fill="#f4e0fd"/>
<rect x="357.80" y="397.40" width="20.15" height="3.06" fill="#eac5fc"/>
<rect x="357.80" y="400.40" width="20.15" height="1.36" fill="#f5e2fd"/>
<rect x="357.80" y="401.70" width="20.15" height="2.06" fill="#edcdfc"/>
<rect x="357.80" y="403.70" width="20.15" height="3.06" fill="#ebc7fc"/>
<rect x="357.80" y="406.70" width="20.15" height="3.56" fill="#ebc8fc"/>
<rect x="357.80" y="410.20" width="20.15" height="1.36" fill="#f6e6fe"/>
<rect x="357.80" y="411.50" width="20.15" height="2.56" fill="#eccafc"/>
<rect x="357.80" y="414.00" width="20.15" height="2.06" fill="#e7bbfb"/>
<rect x="357.80" y="416.00" width="20.15" height="1.76" fill="#f0d6fd"/>
<rect x="357.80" y="417.70" width="20.15" height="0.96" fill="#f3ddfd"/>
<rect x="377.90" y="262.90" width="20.15" height="2.06" fill="#53d9b0"/>
<rect x="377.90" y="264.90" width="20.15" height="3.56" fill="#75e1bf"/>
<rect x="377.90" y="268.40" width="20.15" height="1.76" fill="#58dbb2"/>
<rect x="377.90" y="270.10" width="20.15" height="2.06" fill="#56dab1"/>
<rect x="377.90" y="272.10" width="20.15" height="3.56" fill="#69deba"/>
<rect x="377.90" y="275.60" width="20.15" height="2.56" fill="#6bdfbb"/>
<rect x="377.90" y="278.10" width="20.15" height="1.76" fill="#44d6a9"/>
<rect x="377.90" y="279.80" width="20.15" height="1.76" fill="#69deba"/>
<rect x="377.90" y="281.50" width="20.15" height="2.06" fill="#96e8cf"/>
<rect x="377.90" y="283.50" width="20.15" height="1.76" fill="#94e8ce"/>
<rect x="377.90" y="285.20" width="20.15" height="1.36" fill="#96e8cf"/>
<rect x="377.90" y="286.50" width="20.15" height="3.56" fill="#c0f1e2"/>
<rect x="377.90" y="290.00" width="20.15" height="1.76" fill="#9ce9d1"/>
<rect x="377.90" y="291.70" width="20.15" height="1.36" fill="#6edfbc"/>
<rect x="377.90" y="293.00" width="20.15" height="1.76" fill="#87e5c8"/>
<rect x="377.90" y="294.70" width="20.15" height="2.56" fill="#6bdfbb"/>
<rect x="377.90" y="297.20" width="20.15" height="3.56" fill="#95e8ce"/>
<rect x="377.90" y="300.70" width="20.15" height="2.06" fill="#9ce9d1"/>
<rect x="377.90" y="302.70" width="20.15" height="3.06" fill="#6fe0bd"/>
<rect x="377.90" y="305.70" width="20.15" height="2.56" fill="#90e7cc"/>
<rect x="377.90" y="308.20" width="20.15" height="2.06" fill="#dcf7ef"/>
<rect x="377.90" y="310.20" width="20.15" height="3.06" fill="#d7f6ec"/>
<rect x="377.90" y="313.20" width="20.15" height="3.06" fill="#b5efdd"/>
<rect x="377.90" y="316.20" width="20.15" height="2.06" fill="#95e8ce"/>
<rect x="377.90" y="318.20" width="20.15" height="1.36" fill="#dbf7ee"/>
<rect x="377.90" y="319.50" width="20.15" height="3.56" fill="#9ae9d1"/>
<rect x="377.90" y="323.00" width="20.15" height="1.36" fill="#9dead2"/>
<rect x="377.90" y="324.30" width="20.15" height="2.06" fill="#8ae5c9"/>
<rect x="377.90" y="326.30" width="20.15" height="1.36" fill="#96e8cf"/>
<rect x="377.90" y="327.60" width="20.15" height="3.56" fill="#92e7cd"/>
<rect x="377.90" y="331.10" width="20.15" height="3.06" fill="#91e7cc"/>
<rect x="377.90" y="334.10" width="20.15" height="3.56" fill="#7ae2c2"/>
<rect x="377.90" y="337.60" width="20.15" height="1.36" fill="#77e1c0"/>
<rect x="377.90" y="338.90" width="20.15" height="3.56" fill="#97e8cf"/>
<rect x="377.90" y="342.40" width="20.15" height="2.06" fill="#b4efdc"/>
<rect x="377.90" y="344.40" width="20.15" height="1.76" fill="#80e3c4"/>
<rect x="377.90" y="346.10" width="20.15" height="3.06" fill="#61dcb6"/>
<rect x="377.90" y="349.10" width="20.15" height="3.56" fill="#9ae9d0"/>
<rect x="377.90" y="352.60" width="20.15" height="2.06" fill="#8de6ca"/>
<rect x="377.90" y="354.60" width="20.15" height="3.06" fill="#7fe3c4"/>
<rect x="377.90" y="357.60" width="20.15" height="3.06" fill="#6ddfbc"/>
<rect x="377.90" y="360.60" width="20.15" height="1.76" fill="#f9eefe"/>
<rect x="377.90" y="362.30" width="20.15" height="1.76" fill="#e7bdfb"/>
<rect x="377.90" y="364.00" width="20.15" height="1.36" fill="#fcf6fe"/>
<rect x="377.90" y="365.30" width="20.15" height="2.56" fill="#e7bcfb"/>
<rect x="377.90" y="367.80" width="20.15" height="1.76" fill="#f4dffd"/>
<rect x="377.90" y="369.50" width="20.15" height="1.36" fill="#eecffc"/>
<rect x="377.90" y="370.80" width="20.15" height="2.56" fill="#f9eefe"/>
<rect x="377.90" y="373.30" width="20.15" height="3.06" fill="#f2dcfd"/>
<rect x="377.90" y="376.30" width="20.15" height="2.06" fill="#f9effe"/>
<rect x="377.90" y="378.30" width="20.15" height="1.76" fill="#edccfc"/>
<rect x="377.90" y="380.00" width="20.15" height="1.36" fill="#f1d9fd"/>
<rect x="377.90" y="381.30" width="20.15" height="3.56" fill="#fcf7ff"/>
<rect x="377.90" y="384.80" width="20.15" height="3.56" fill="#ebc8fc"/>
<rect x="377.90" y="388.30" width="20.15" height="2.56" fill="#ebc8fc"/>
<rect x="377.90" y="390.80" width="20.15" height="1.36" fill="#e6bafb"/>
<rect x="377.90" y="392.10" width="20.15" height="2.06" fill="#f0d6fd"/>
<rect x="377.90" y="394.10" width="20.15" height="2.06" fill="#e3b2fb"/>
<rect x="377.90" y="396.10" width="20.15" height="2.06" fill="#f7e8fe"/>
<rect x="377.90" y="398.10" width="20.15" height="3.06" fill="#e8c0fb"/>
<rect x="377.90" y="401.10" width="20.15" height="3.06" fill="#ebc8fc"/>
<rect x="377.90" y="404.10" width="20.15" height="2.56" fill="#eed0fc"/>
<rect x="377.90" y="406.60" width="20.15" height="1.36" fill="#f7e9fe"/>
<rect x="377.90" y="407.90" width="20.15" height="1.76" fill="#eed0fc"/>
<rect x="377.90" y="409.60" width="20.15" height="1.36" fill="#f1d9fd"/>
<rect x="377.90" y="410.90" width="20.15" height="1.76" fill="#faf0fe"/>
<rect x="377.90" y="412.60" width="20.15" height="1.76" fill="#f1d9fd"/>
<rect x="377.90" y="414.30" width="20.15" height="2.56" fill="#eac4fc"/>
<rect x="377.90" y="416.80" width="20.15" height="1.86" fill="#e8bffb"/>
<rect x="398.00" y="262.90" width="20.15" height="3.06" fill="#d58af8"/>
<rect x="398.00" y="265.90" width="20.15" height="2.56" fill="#e0a9fa"/>
<rect x="398.00" y="268.40" width="20.15" height="3.06" fill="#d790f9"/>
<rect x="398.00" y="271.40" width="20.15" height="1.76" fill="#da98f9"/>
<rect x="398.00" y="273.10" width="20.15" height="2.56" fill="#dea2fa"/>
<rect x="398.00" y="275.60" width="20.15" height="3.56" fill="#da98f9"/>
<rect x="398.00" y="279.10" width="20.15" height="3.06" fill="#d996f9"/>
<rect x="398.00" y="282.10" width="20.15" height="3.06" fill="#da98f9"/>
<rect x="398.00" y="285.10" width="20.15" height="2.06" fill="#d790f9"/>
<rect x="398.00" y="287.10" width="20.15" height="3.06" fill="#d07df8"/>
<rect x="398.00" y="290.10" width="20.15" height="1.76" fill="#d68df8"/>
<rect x="398.00" y="291.80" width="20.15" height="3.06" fill="#d283f8"/>
<rect x="398.00" y="294.80" width="20.15" height="3.06" fill="#d68df8"/>
<rect x="398.00" y="297.80" width="20.15" height="2.56" fill="#cf79f7"/>
<rect x="398.00" y="300.30" width="20.15" height="3.06" fill="#cc72f7"/>
<rect x="398.00" y="303.30" width="20.15" height="2.56" fill="#cc72f7"/>
<rect x="398.00" y="305.80" width="20.15" height="1.36" fill="#ce76f7"/>
<rect x="398.00" y="307.10" width="20.15" height="2.56" fill="#cd74f7"/>
<rect x="398.00" y="309.60" width="20.15" height="3.06" fill="#d384f8"/>
<rect x="398.00" y="312.60" width="20.15" height="2.56" fill="#dc9cf9"/>
<rect x="398.00" y="315.10" width="20.15" height="1.36" fill="#d68cf8"/>
<rect x="398.00" y="316.40" width="20.15" height="3.06" fill="#d78ff9"/>
<rect x="398.00" y="319.40" width="20.15" height="2.56" fill="#e1aafa"/>
<rect x="398.00" y="321.90" width="20.15" height="2.56" fill="#ce77f7"/>
<rect x="398.00" y="324.40" width="20.15" height="2.06" fill="#d58af8"/>
<rect x="398.00" y="326.40" width="20.15" height="2.06" fill="#cf79f7"/>
<rect x="398.00" y="328.40" width="20.15" height="2.56" fill="#cb6ef7"/>
<rect x="398.00" y="330.90" width="20.15" height="2.56" fill="#dc9ff9"/>
<rect x="398.00" y="333.40" width="20.15" height="3.06" fill="#d68ef9"/>
<rect x="398.00" y="336.40" width="20.15" height="3.06" fill="#d281f8"/>
<rect x="398.00" y="339.40" width="20.15" height="1.36" fill="#d283f8"/>
<rect x="398.00" y="340.70" width="20.15" height="1.36" fill="#d68ef9"/>
<rect x="398.00" y="342.00" width="20.15" height="1.36" fill="#dea4fa"/>
<rect x="398.00" y="343.30" width="20.15" height="3.56" fill="#dc9df9"/>
<rect x="398.00" y="346.80" width="20.15" height="2.06" fill="#e2aefa"/>
<rect x="398.00" y="348.80" width="20.15" height="3.06" fill="#db9bf9"/>
<rect x="398.00" y="351.80" width="20.15" height="2.56" fill="#d994f9"/>
<rect x="398.00" y="354.30" width="20.15" height="1.36" fill="#da99f9"/>
<rect x="398.00" y="355.60" width="20.15" height="3.06" fill="#e6b8fb"/>
<rect x="398.00" y="358.60" width="20.15" height="3.56" fill="#e5b8fb"/>
<rect x="398.00" y="362.10" width="20.15" height="3.06" fill="#8de6ca"/>
<rect x="398.00" y="365.10" width="20.15" height="3.56" fill="#85e4c7"/>
<rect x="398.00" y="368.60" width="20.15" height="2.56" fill="#98e9d0"/>
<rect x="398.00" y="371.10" width="20.15" height="3.06" fill="#a2ebd4"/>
<rect x="398.00" y="374.10" width="20.15" height="1.76" fill="#c7f3e5"/>
<rect x="398.00" y="375.80" width="20.15" height="1.76" fill="#a7ecd6"/>
<rect x="398.00" y="377.50" width="20.15" height="3.06" fill="#8fe7cc"/>
<rect x="398.00" y="380.50" width="20.15" height="3.06" fill="#a7ecd6"/>
<rect x="398.00" y="383.50" width="20.15" height="1.76" fill="#8de6cb"/>
<rect x="398.00" y="385.20" width="20.15" height="2.06" fill="#b1eedb"/>
<rect x="398.00" y="387.20" width="20.15" height="1.76" fill="#80e3c5"/>
<rect x="398.00" y="388.90" width="20.15" height="1.76" fill="#9ce9d1"/>
<rect x="398.00" y="390.60" width="20.15" height="1.76" fill="#8ce6ca"/>
<rect x="398.00" y="392.30" width="20.15" height="1.36" fill="#56dab1"/>
<rect x="398.00" y="393.60" width="20.15" height="1.76" fill="#69deba"/>
<rect x="398.00" y="395.30" width="20.15" height="1.36" fill="#5bdbb4"/>
<rect x="398.00" y="396.60" width="20.15" height="2.06" fill="#52d9b0"/>
<rect x="398.00" y="398.60" width="20.15" height="2.56" fill="#6edfbc"/>
<rect x="398.00" y="401.10" width="20.15" height="3.06" fill="#84e4c6"/>
<rect x="398.00" y="404.10" width="20.15" height="2.56" fill="#75e1bf"/>
<rect x="398.00" y="406.60" width="20.15" height="3.56" fill="#7fe3c4"/>
<rect x="398.00" y="410.10" width="20.15" height="1.76" fill="#7de3c3"/>
<rect x="398.00" y="411.80" width="20.15" height="3.06" fill="#6bdfbb"/>
<rect x="398.00" y="414.80" width="20.15" height="2.06" fill="#50d9ae"/>
<rect x="398.00" y="416.80" width="20.15" height="1.36" fill="#77e1c0"/>
<rect x="398.00" y="418.10" width="20.15" height="0.56" fill="#60dcb6"/>
<rect x="418.10" y="262.90" width="20.15" height="3.06" fill="#dc9df9"/>
<rect x="418.10" y="265.90" width="20.15" height="1.36" fill="#e6b9fb"/>
<rect x="418.10" y="267.20" width="20.15" height="2.56" fill="#e5b6fb"/>
<rect x="418.10" y="269.70" width="20.15" height="3.06" fill="#e5b6fb"/>
<rect x="418.10" y="272.70" width="20.15" height="3.06" fill="#edccfc"/>
<rect x="418.10" y="275.70" width="20.15" height="1.76" fill="#e6bbfb"/>
<rect x="418.10" y="277.40" width="20.15" height="1.76" fill="#e4b5fb"/>
<rect x="418.10" y="279.10" width="20.15" height="1.76" fill="#e2b0fa"/>
<rect x="418.10" y="280.80" width="20.15" height="2.06" fill="#e4b3fb"/>
<rect x="418.10" y="282.80" width="20.15" height="1.36" fill="#efd3fd"/>
<rect x="418.10" y="284.10" width="20.15" height="1.76" fill="#e9c1fb"/>
<rect x="418.10" y="285.80" width="20.15" height="1.36" fill="#f0d5fd"/>
<rect x="418.10" y="287.10" width="20.15" height="2.06" fill="#f3dcfd"/>
<rect x="418.10" y="289.10" width="20.15" height="2.06" fill="#ebc6fc"/>
<rect x="418.10" y="291.10" width="20.15" height="2.56" fill="#edcdfc"/>
<rect x="418.10" y="293.60" width="20.15" height="3.56" fill="#e9c2fc"/>
<rect x="418.10" y="297.10" width="20.15" height="3.56" fill="#ebc7fc"/>
<rect x="418.10" y="300.60" width="20.15" height="2.56" fill="#faf2fe"/>
<rect x="418.10" y="303.10" width="20.15" height="2.56" fill="#fdf9ff"/>
<rect x="418.10" y="305.60" width="20.15" height="1.76" fill="#d997f9"/>
<rect x="418.10" y="307.30" width="20.15" height="3.06" fill="#da99f9"/>
<rect x="418.10" y="310.30" width="20.15" height="1.36" fill="#d892f9"/>
<rect x="418.10" y="311.60" width="20.15" height="2.06" fill="#d68df8"/>
<rect x="418.10" y="313.60" width="20.15" height="3.56" fill="#e3b2fb"/>
<rect x="418.10" y="317.10" width="20.15" height="3.56" fill="#d790f9"/>
<rect x="418.10" y="320.60" width="20.15" height="1.76" fill="#f0d4fd"/>
<rect x="418.10" y="322.30" width="20.15" height="3.06" fill="#f2dafd"/>
<rect x="418.10" y="325.30" width="20.15" height="2.06" fill="#efd4fd"/>
<rect x="418.10" y="327.30" width="20.15" height="2.06" fill="#e2affa"/>
<rect x="418.10" y="329.30" width="20.15" height="1.76" fill="#f2dcfd"/>
<rect x="418.10" y="331.00" width="20.15" height="2.56" fill="#e8bffb"/>
<rect x="418.10" y="333.50" width="20.15" height="3.06" fill="#e7bdfb"/>
<rect x="418.10" y="336.50" width="20.15" height="3.56" fill="#f1d9fd"/>
<rect x="418.10" y="340.00" width="20.15" height="1.76" fill="#e7bbfb"/>
<rect x="418.10" y="341.70" width="20.15" height="2.56" fill="#ebc7fc"/>
<rect x="418.10" y="344.20" width="20.15" height="2.06" fill="#e8befb"/>
<rect x="418.10" y="346.20" width="20.15" height="2.06" fill="#edcdfc"/>
<rect x="418.10" y="348.20" width="20.15" height="2.06" fill="#eccafc"/>
<rect x="418.10" y="350.20" width="20.15" height="3.56" fill="#eac5fc"/>
<rect x="418.10" y="353.70" width="20.15" height="2.06" fill="#dea3fa"/>
<rect x="418.10" y="355.70" width="20.15" height="3.56" fill="#dea4fa"/>
<rect x="418.10" y="359.20" width="20.15" height="2.56" fill="#db9bf9"/>
<rect x="418.10" y="361.70" width="20.15" height="3.06" fill="#95e8ce"/>
<rect x="418.10" y="364.70" width="20.15" height="3.06" fill="#99e9d0"/>
<rect x="418.10" y="367.70" width="20.15" height="2.56" fill="#79e2c1"/>
<rect x="418.10" y="370.20" width="20.15" height="2.56" fill="#73e0bf"/>
<rect x="418.10" y="372.70" width="20.15" height="3.06" fill="#b2eedc"/>
<rect x="418.10" y="375.70" width="20.15" height="3.56" fill="#95e8ce"/>
<rect x="418.10" y="379.20" width="20.15" height="1.76" fill="#90e7cc"/>
<rect x="418.10" y="380.90" width="20.15" height="1.36" fill="#a9ecd8"/>
<rect x="418.10" y="382.20" width="20.15" height="1.76" fill="#8ee6cb"/>
<rect x="418.10" y="383.90" width="20.15" height="2.06" fill="#8ee6cb"/>
<rect x="418.10" y="385.90" width="20.15" height="2.06" fill="#8de6cb"/>
<rect x="418.10" y="387.90" width="20.15" height="3.06" fill="#e8faf4"/>
<rect x="418.10" y="390.90" width="20.15" height="3.06" fill="#c4f2e4"/>
<rect x="418.10" y="393.90" width="20.15" height="1.36" fill="#e3f9f2"/>
<rect x="418.10" y="395.20" width="20.15" height="3.56" fill="#bff1e1"/>
<rect x="418.10" y="398.70" width="20.15" height="3.06" fill="#e1f8f1"/>
<rect x="418.10" y="401.70" width="20.15" height="3.06" fill="#8ae6c9"/>
<rect x="418.10" y="404.70" width="20.15" height="2.56" fill="#73e0bf"/>
<rect x="418.10" y="407.20" width="20.15" height="1.76" fill="#78e1c1"/>
<rect x="418.10" y="408.90" width="20.15" height="2.56" fill="#d3f5eb"/>
<rect x="418.10" y="411.40" width="20.15" height="3.06" fill="#a2ebd4"/>
<rect x="418.10" y="414.40" width="20.15" height="2.56" fill="#a3ebd5"/>
<rect x="418.10" y="416.90" width="20.15" height="1.76" fill="#a3ebd5"/>
<rect x="438.20" y="262.90" width="20.15" height="2.06" fill="#f5e4fd"/>
<rect x="438.20" y="264.90" width="20.15" height="2.06" fill="#fdf9ff"/>
<rect x="438.20" y="266.90" width="20.15" height="2.06" fill="#f9f0fe"/>
<rect x="438.20" y="268.90" width="20.15" height="3.06" fill="#f4e0fd"/>
<rect x="438.20" y="271.90" width="20.15" height="3.56" fill="#fbf4fe"/>
<rect x="438.20" y="275.40" width="20.15" height="2.06" fill="#f3ddfd"/>
<rect x="438.20" y="277.40" width="20.15" height="3.06" fill="#f8ebfe"/>
<rect x="438.20" y="280.40" width="20.15" height="1.36" fill="#f6e6fe"/>
<rect x="438.20" y="281.70" width="20.15" height="3.56" fill="#f6e7fe"/>
<rect x="438.20" y="285.20" width="20.15" height="2.56" fill="#eed0fc"/>
<rect x="438.20" y="287.70" width="20.15" height="2.56" fill="#f1d8fd"/>
<rect x="438.20" y="290.20" width="20.15" height="1.36" fill="#faf1fe"/>
<rect x="438.20" y="291.50" width="20.15" height="2.06" fill="#f7e8fe"/>
<rect x="438.20" y="293.50" width="20.15" height="1.36" fill="#f1d9fd"/>
<rect x="438.20" y="294.80" width="20.15" height="3.56" fill="#f6e6fe"/>
<rect x="438.20" y="298.30" width="20.15" height="2.56" fill="#f2dcfd"/>
<rect x="438.20" y="300.80" width="20.15" height="1.36" fill="#e9c3fc"/>
<rect x="438.20" y="302.10" width="20.15" height="3.06" fill="#eac6fc"/>
<rect x="438.20" y="305.10" width="20.15" height="2.56" fill="#edccfc"/>
<rect x="438.20" y="307.60" width="20.15" height="1.76" fill="#e9c1fb"/>
<rect x="438.20" y="309.30" width="20.15" height="3.06" fill="#f4e0fd"/>
<rect x="438.20" y="312.30" width="20.15" height="3.56" fill="#edccfc"/>
<rect x="438.20" y="315.80" width="20.15" height="2.56" fill="#edcefc"/>
<rect x="438.20" y="318.30" width="20.15" height="1.36" fill="#f2dbfd"/>
<rect x="438.20" y="319.60" width="20.15" height="3.06" fill="#f1d7fd"/>
<rect x="438.20" y="322.60" width="20.15" height="1.76" fill="#eed1fc"/>
<rect x="438.20" y="324.30" width="20.15" height="3.56" fill="#eed1fc"/>
<rect x="438.20" y="327.80" width="20.15" height="2.56" fill="#f6e7fe"/>
<rect x="438.20" y="330.30" width="20.15" height="3.06" fill="#f1d9fd"/>
<rect x="438.20" y="333.30" width="20.15" height="3.56" fill="#fbf3fe"/>
<rect x="438.20" y="336.80" width="20.15" height="3.06" fill="#eed0fc"/>
<rect x="438.20" y="339.80" width="20.15" height="1.76" fill="#eac5fc"/>
<rect x="438.20" y="341.50" width="20.15" height="1.76" fill="#f5e3fd"/>
<rect x="438.20" y="343.20" width="20.15" height="2.56" fill="#eac4fc"/>
<rect x="438.20" y="345.70" width="20.15" height="3.06" fill="#ebc7fc"/>
<rect x="438.20" y="348.70" width="20.15" height="3.06" fill="#f0d5fd"/>
<rect x="438.20" y="351.70" width="20.15" height="3.06" fill="#f6e6fe"/>
<rect x="438.20" y="354.70" width="20.15" height="3.56" fill="#f4e0fd"/>
<rect x="438.20" y="358.20" width="20.15" height="1.76" fill="#fbf3fe"/>
<rect x="438.20" y="359.90" width="20.15" height="3.56" fill="#6fdfbd"/>
<rect x="438.20" y="363.40" width="20.15" height="1.76" fill="#7ee3c4"/>
<rect x="438.20" y="365.10" width="20.15" height="3.06" fill="#99e9d0"/>
<rect x="438.20" y="368.10" width="20.15" height="3.56" fill="#6cdfbb"/>
<rect x="438.20" y="371.60" width="20.15" height="1.36" fill="#6fe0bd"/>
<rect x="438.20" y="372.90" width="20.15" height="2.06" fill="#6fe0bd"/>
<rect x="438.20" y="374.90" width="20.15" height="2.56" fill="#b7efde"/>
<rect x="438.20" y="377.40" width="20.15" height="1.76" fill="#b1eedb"/>
<rect x="438.20" y="379.10" width="20.15" height="3.06" fill="#a9ecd7"/>
<rect x="438.20" y="382.10" width="20.15" height="3.56" fill="#d8f7ed"/>
<rect x="438.20" y="385.60" width="20.15" height="1.76" fill="#8fe7cc"/>
<rect x="438.20" y="387.30" width="20.15" height="2.06" fill="#a5ebd6"/>
<rect x="438.20" y="389.30" width="20.15" height="2.56" fill="#65ddb8"/>
<rect x="438.20" y="391.80" width="20.15" height="2.06" fill="#73e0be"/>
<rect x="438.20" y="393.80" width="20.15" height="2.56" fill="#70e0bd"/>
<rect x="438.20" y="396.30" width="20.15" height="1.36" fill="#4ed8ae"/>
<rect x="438.20" y="397.60" width="20.15" height="1.36" fill="#51d9af"/>
<rect x="438.20" y="398.90" width="20.15" height="1.76" fill="#7ce2c3"/>
<rect x="438.20" y="400.60" width="20.15" height="2.56" fill="#65ddb8"/>
<rect x="438.20" y="403.10" width="20.15" height="1.76" fill="#78e1c1"/>
<rect x="438.20" y="404.80" width="20.15" height="2.06" fill="#85e4c7"/>
<rect x="438.20" y="406.80" width="20.15" height="3.06" fill="#8ee6cb"/>
<rect x="438.20" y="409.80" width="20.15" height="2.06" fill="#69deba"/>
<rect x="438.20" y="411.80" width="20.15" height="1.76" fill="#8fe6cb"/>
<rect x="438.20" y="413.50" width="20.15" height="2.56" fill="#63ddb7"/>
<rect x="438.20" y="416.00" width="20.15" height="2.56" fill="#5ddcb5"/>
<rect x="438.20" y="418.50" width="20.15" height="0.16" fill="#78e1c1"/>
<line x1="367.85" y1="262.90" x2="367.85" y2="257.60" stroke="#666" stroke-width="0.70"/>
<line x1="387.95" y1="262.90" x2="387.95" y2="257.60" stroke="#666" stroke-width="0.70"/>
<line x1="367.85" y1="257.60" x2="387.95" y2="257.60" stroke="#666" stroke-width="0.70"/>
<line x1="347.75" y1="262.90" x2="347.75" y2="254.30" stroke="#666" stroke-width="0.70"/>
<line x1="377.90" y1="257.60" x2="377.90" y2="254.30" stroke="#666" stroke-width="0.70"/>
<line x1="347.75" y1="254.30" x2="377.90" y2="254.30" stroke="#666" stroke-width="0.70"/>
<line x1="428.15" y1="262.90" x2="428.15" y2="255.60" stroke="#666" stroke-width="0.70"/>
<line x1="448.25" y1="262.90" x2="448.25" y2="255.60" stroke="#666" stroke-width="0.70"/>
<line x1="428.15" y1="255.60" x2="448.25" y2="255.60" stroke="#666" stroke-width="0.70"/>
<line x1="408.05" y1="262.90" x2="408.05" y2="253.70" stroke="#666" stroke-width="0.70"/>
<line x1="438.20" y1="255.60" x2="438.20" y2="253.70" stroke="#666" stroke-width="0.70"/>
<line x1="408.05" y1="253.70" x2="438.20" y2="253.70" stroke="#666" stroke-width="0.70"/>
<line x1="362.82" y1="254.30" x2="362.82" y2="241.20" stroke="#666" stroke-width="0.70"/>
<line x1="423.12" y1="253.70" x2="423.12" y2="241.20" stroke="#666" stroke-width="0.70"/>
<line x1="362.82" y1="241.20" x2="423.12" y2="241.20" stroke="#666" stroke-width="0.70"/>
<rect x="335.10" y="262.60" width="2.60" height="156.00" fill="#050505"/>
<line x1="321.30" y1="308.30" x2="321.30" y2="377.40" stroke="#777" stroke-width="0.70"/>
<line x1="321.30" y1="308.30" x2="328.50" y2="308.30" stroke="#777" stroke-width="0.70"/>
<line x1="321.30" y1="377.40" x2="328.50" y2="377.40" stroke="#777" stroke-width="0.70"/>
<line x1="333.86" y1="264.25" x2="333.86" y2="265.15" stroke="#141414" stroke-width="0.70"/>
<line x1="333.86" y1="264.25" x2="335.10" y2="264.25" stroke="#141414" stroke-width="0.70"/>
<line x1="333.86" y1="265.15" x2="335.10" y2="265.15" stroke="#141414" stroke-width="0.70"/>
<line x1="332.91" y1="263.35" x2="332.91" y2="264.70" stroke="#141414" stroke-width="0.70"/>
<line x1="332.91" y1="263.35" x2="335.10" y2="263.35" stroke="#141414" stroke-width="0.70"/>
<line x1="332.91" y1="264.70" x2="333.86" y2="264.70" stroke="#141414" stroke-width="0.70"/>
<line x1="332.71" y1="264.25" x2="332.71" y2="266.05" stroke="#141414" stroke-width="0.70"/>
<line x1="332.71" y1="264.25" x2="332.91" y2="264.25" stroke="#141414" stroke-width="0.70"/>
<line x1="332.71" y1="266.05" x2="335.10" y2="266.05" stroke="#141414" stroke-width="0.70"/>
<line x1="332.51" y1="264.70" x2="332.51" y2="266.95" stroke="#141414" stroke-width="0.70"/>
<line x1="332.51" y1="264.70" x2="332.71" y2="264.70" stroke="#141414" stroke-width="0.70"/>
<line x1="332.51" y1="266.95" x2="335.10" y2="266.95" stroke="#141414" stroke-width="0.70"/>
<line x1="333.95" y1="268.75" x2="333.95" y2="269.61" stroke="#141414" stroke-width="0.70"/>
<line x1="333.95" y1="268.75" x2="335.10" y2="268.75" stroke="#141414" stroke-width="0.70"/>
<line x1="333.95" y1="269.61" x2="335.10" y2="269.61" stroke="#141414" stroke-width="0.70"/>
<line x1="333.48" y1="267.85" x2="333.48" y2="269.16" stroke="#141414" stroke-width="0.70"/>
<line x1="333.48" y1="267.85" x2="335.10" y2="267.85" stroke="#141414" stroke-width="0.70"/>
<line x1="333.48" y1="269.16" x2="333.95" y2="269.16" stroke="#141414" stroke-width="0.70"/>
<line x1="331.19" y1="265.15" x2="331.19" y2="268.71" stroke="#141414" stroke-width="0.70"/>
<line x1="331.19" y1="265.15" x2="332.51" y2="265.15" stroke="#141414" stroke-width="0.70"/>
<line x1="331.19" y1="268.71" x2="333.48" y2="268.71" stroke="#141414" stroke-width="0.70"/>
<line x1="329.10" y1="266.46" x2="331.19" y2="266.46" stroke="#2a2a2a" stroke-width="0.55"/>
<line x1="333.17" y1="270.46" x2="333.17" y2="271.36" stroke="#141414" stroke-width="0.70"/>
<line x1="333.17" y1="270.46" x2="335.10" y2="270.46" stroke="#141414" stroke-width="0.70"/>
<line x1="333.17" y1="271.36" x2="335.10" y2="271.36" stroke="#141414" stroke-width="0.70"/>
<line x1="333.34" y1="272.26" x2="333.34" y2="273.16" stroke="#141414" stroke-width="0.70"/>
<line x1="333.34" y1="272.26" x2="335.10" y2="272.26" stroke="#141414" stroke-width="0.70"/>
<line x1="333.34" y1="273.16" x2="335.10" y2="273.16" stroke="#141414" stroke-width="0.70"/>
<line x1="332.94" y1="274.06" x2="332.94" y2="274.96" stroke="#141414" stroke-width="0.70"/>
<line x1="332.94" y1="274.06" x2="335.10" y2="274.06" stroke="#141414" stroke-width="0.70"/>
<line x1="332.94" y1="274.96" x2="335.10" y2="274.96" stroke="#141414" stroke-width="0.70"/>
<line x1="332.73" y1="272.71" x2="332.73" y2="274.51" stroke="#141414" stroke-width="0.70"/>
<line x1="332.73" y1="272.71" x2="333.34" y2="272.71" stroke="#141414" stroke-width="0.70"/>
<line x1="332.73" y1="274.51" x2="332.94" y2="274.51" stroke="#141414" stroke-width="0.70"/>
<line x1="331.99" y1="270.91" x2="331.99" y2="273.61" stroke="#141414" stroke-width="0.70"/>
<line x1="331.99" y1="270.91" x2="333.17" y2="270.91" stroke="#141414" stroke-width="0.70"/>
<line x1="331.99" y1="273.61" x2="332.73" y2="273.61" stroke="#141414" stroke-width="0.70"/>
<line x1="334.37" y1="275.86" x2="334.37" y2="276.76" stroke="#141414" stroke-width="0.70"/>
<line x1="334.37" y1="275.86" x2="335.10" y2="275.86" stroke="#141414" stroke-width="0.70"/>
<line x1="334.37" y1="276.76" x2="335.10" y2="276.76" stroke="#141414" stroke-width="0.70"/>
<line x1="332.57" y1="276.31" x2="332.57" y2="277.72" stroke="#141414" stroke-width="0.70"/>
<line x1="332.57" y1="276.31" x2="334.37" y2="276.31" stroke="#141414" stroke-width="0.70"/>
<line x1="332.57" y1="277.72" x2="335.10" y2="277.72" stroke="#141414" stroke-width="0.70"/>
<line x1="331.79" y1="272.71" x2="331.79" y2="276.82" stroke="#141414" stroke-width="0.70"/>
<line x1="331.79" y1="272.71" x2="331.99" y2="272.71" stroke="#141414" stroke-width="0.70"/>
<line x1="331.79" y1="276.82" x2="332.57" y2="276.82" stroke="#141414" stroke-width="0.70"/>
<line x1="329.10" y1="274.12" x2="331.79" y2="274.12" stroke="#2a2a2a" stroke-width="0.55"/>
<line x1="333.60" y1="279.57" x2="333.60" y2="280.47" stroke="#141414" stroke-width="0.70"/>
<line x1="333.60" y1="279.57" x2="335.10" y2="279.57" stroke="#141414" stroke-width="0.70"/>
<line x1="333.60" y1="280.47" x2="335.10" y2="280.47" stroke="#141414" stroke-width="0.70"/>
<line x1="333.40" y1="280.02" x2="333.40" y2="281.37" stroke="#141414" stroke-width="0.70"/>
<line x1="333.40" y1="280.02" x2="333.60" y2="280.02" stroke="#141414" stroke-width="0.70"/>
<line x1="333.40" y1="281.37" x2="335.10" y2="281.37" stroke="#141414" stroke-width="0.70"/>
<line x1="333.00" y1="280.47" x2="333.00" y2="282.27" stroke="#141414" stroke-width="0.70"/>
<line x1="333.00" y1="280.47" x2="333.40" y2="280.47" stroke="#141414" stroke-width="0.70"/>
<line x1="333.00" y1="282.27" x2="335.10" y2="282.27" stroke="#141414" stroke-width="0.70"/>
<line x1="332.80" y1="278.67" x2="332.80" y2="280.92" stroke="#141414" stroke-width="0.70"/>
<line x1="332.80" y1="278.67" x2="335.10" y2="278.67" stroke="#141414" stroke-width="0.70"/>
<line x1="332.80" y1="280.92" x2="333.00" y2="280.92" stroke="#141414" stroke-width="0.70"/>
<line x1="333.61" y1="284.07" x2="333.61" y2="284.99" stroke="#141414" stroke-width="0.70"/>
<line x1="333.61" y1="284.07" x2="335.10" y2="284.07" stroke="#141414" stroke-width="0.70"/>
<line x1="333.61" y1="284.99" x2="335.10" y2="284.99" stroke="#141414" stroke-width="0.70"/>
<line x1="333.18" y1="283.17" x2="333.18" y2="284.54" stroke="#141414" stroke-width="0.70"/>
<line x1="333.18" y1="283.17" x2="335.10" y2="283.17" stroke="#141414" stroke-width="0.70"/>
<line x1="333.18" y1="284.54" x2="333.61" y2="284.54" stroke="#141414" stroke-width="0.70"/>
<line x1="331.45" y1="280.47" x2="331.45" y2="284.09" stroke="#141414" stroke-width="0.70"/>
<line x1="331.45" y1="280.47" x2="332.80" y2="280.47" stroke="#141414" stroke-width="0.70"/>
<line x1="331.45" y1="284.09" x2="333.18" y2="284.09" stroke="#141414" stroke-width="0.70"/>
<line x1="329.10" y1="281.84" x2="331.45" y2="281.84" stroke="#2a2a2a" stroke-width="0.55"/>
<line x1="333.58" y1="285.91" x2="333.58" y2="286.81" stroke="#141414" stroke-width="0.70"/>
<line x1="333.58" y1="285.91" x2="335.10" y2="285.91" stroke="#141414" stroke-width="0.70"/>
<line x1="333.58" y1="286.81" x2="335.10" y2="286.81" stroke="#141414" stroke-width="0.70"/>
<line x1="333.19" y1="286.36" x2="333.19" y2="287.71" stroke="#141414" stroke-width="0.70"/>
<line x1="333.19" y1="286.36" x2="333.58" y2="286.36" stroke="#141414" stroke-width="0.70"/>
<line x1="333.19" y1="287.71" x2="335.10" y2="287.71" stroke="#141414" stroke-width="0.70"/>
<line x1="332.28" y1="286.81" x2="332.28" y2="288.61" stroke="#141414" stroke-width="0.70"/>
<line x1="332.28" y1="286.81" x2="333.19" y2="286.81" stroke="#141414" stroke-width="0.70"/>
<line x1="332.28" y1="288.61" x2="335.10" y2="288.61" stroke="#141414" stroke-width="0.70"/>
<line x1="334.28" y1="289.51" x2="334.28" y2="290.41" stroke="#141414" stroke-width="0.70"/>
<line x1="334.28" y1="289.51" x2="335.10" y2="289.51" stroke="#141414" stroke-width="0.70"/>
<line x1="334.28" y1="290.41" x2="335.10" y2="290.41" stroke="#141414" stroke-width="0.70"/>
<line x1="333.79" y1="292.21" x2="333.79" y2="293.11" stroke="#141414" stroke-width="0.70"/>
<line x1="333.79" y1="292.21" x2="335.10" y2="292.21" stroke="#141414" stroke-width="0.70"/>
<line x1="333.79" y1="293.11" x2="335.10" y2="293.11" stroke="#141414" stroke-width="0.70"/>
<line x1="333.16" y1="292.66" x2="333.16" y2="294.01" stroke="#141414" stroke-width="0.70"/>
<line x1="333.16" y1="292.66" x2="333.79" y2="292.66" stroke="#141414" stroke-width="0.70"/>
<line x1="333.16" y1="294.01" x2="335.10" y2="294.01" stroke="#141414" stroke-width="0.70"/>
<line x1="332.96" y1="291.31" x2="332.96" y2="293.11" stroke="#141414" stroke-width="0.70"/>
<line x1="332.96" y1="291.31" x2="335.10" y2="291.31" stroke="#141414" stroke-width="0.70"/>
<line x1="332.96" y1="293.11" x2="333.16" y2="293.11" stroke="#141414" stroke-width="0.70"/>
<line x1="331.96" y1="292.66" x2="331.96" y2="294.91" stroke="#141414" stroke-width="0.70"/>
<line x1="331.96" y1="292.66" x2="332.96" y2="292.66" stroke="#141414" stroke-width="0.70"/>
<line x1="331.96" y1="294.91" x2="335.10" y2="294.91" stroke="#141414" stroke-width="0.70"/>
<line x1="331.76" y1="289.96" x2="331.76" y2="293.11" stroke="#141414" stroke-width="0.70"/>
<line x1="331.76" y1="289.96" x2="334.28" y2="289.96" stroke="#141414" stroke-width="0.70"/>
<line x1="331.76" y1="293.11" x2="331.96" y2="293.11" stroke="#141414" stroke-width="0.70"/>
<line x1="331.31" y1="287.26" x2="331.31" y2="292.21" stroke="#141414" stroke-width="0.70"/>
<line x1="331.31" y1="287.26" x2="332.28" y2="287.26" stroke="#141414" stroke-width="0.70"/>
<line x1="331.31" y1="292.21" x2="331.76" y2="292.21" stroke="#141414" stroke-width="0.70"/>
<line x1="333.51" y1="295.81" x2="333.51" y2="296.71" stroke="#141414" stroke-width="0.70"/>
<line x1="333.51" y1="295.81" x2="335.10" y2="295.81" stroke="#141414" stroke-width="0.70"/>
<line x1="333.51" y1="296.71" x2="335.10" y2="296.71" stroke="#141414" stroke-width="0.70"/>
<line x1="331.10" y1="290.41" x2="331.10" y2="296.26" stroke="#141414" stroke-width="0.70"/>
<line x1="331.10" y1="290.41" x2="331.31" y2="290.41" stroke="#141414" stroke-width="0.70"/>
<line x1="331.10" y1="296.26" x2="333.51" y2="296.26" stroke="#141414" stroke-width="0.70"/>
<line x1="334.32" y1="298.51" x2="334.32" y2="299.41" stroke="#141414" stroke-width="0.70"/>
<line x1="334.32" y1="298.51" x2="335.10" y2="298.51" stroke="#141414" stroke-width="0.70"/>
<line x1="334.32" y1="299.41" x2="335.10" y2="299.41" stroke="#141414" stroke-width="0.70"/>
<line x1="333.01" y1="297.61" x2="333.01" y2="298.96" stroke="#141414" stroke-width="0.70"/>
<line x1="333.01" y1="297.61" x2="335.10" y2="297.61" stroke="#141414" stroke-width="0.70"/>
<line x1="333.01" y1="298.96" x2="334.32" y2="298.96" stroke="#141414" stroke-width="0.70"/>
<line x1="330.21" y1="291.31" x2="330.21" y2="298.51" stroke="#141414" stroke-width="0.70"/>
<line x1="330.21" y1="291.31" x2="331.10" y2="291.31" stroke="#141414" stroke-width="0.70"/>
<line x1="330.21" y1="298.51" x2="333.01" y2="298.51" stroke="#141414" stroke-width="0.70"/>
<line x1="333.30" y1="301.21" x2="333.30" y2="302.11" stroke="#141414" stroke-width="0.70"/>
<line x1="333.30" y1="301.21" x2="335.10" y2="301.21" stroke="#141414" stroke-width="0.70"/>
<line x1="333.30" y1="302.11" x2="335.10" y2="302.11" stroke="#141414" stroke-width="0.70"/>
<line x1="332.44" y1="300.31" x2="332.44" y2="301.66" stroke="#141414" stroke-width="0.70"/>
<line x1="332.44" y1="300.31" x2="335.10" y2="300.31" stroke="#141414" stroke-width="0.70"/>
<line x1="332.44" y1="301.66" x2="333.30" y2="301.66" stroke="#141414" stroke-width="0.70"/>
<line x1="334.18" y1="303.91" x2="334.18" y2="304.81" stroke="#141414" stroke-width="0.70"/>
<line x1="334.18" y1="303.91" x2="335.10" y2="303.91" stroke="#141414" stroke-width="0.70"/>
<line x1="334.18" y1="304.81" x2="335.10" y2="304.81" stroke="#141414" stroke-width="0.70"/>
<line x1="333.54" y1="303.01" x2="333.54" y2="304.36" stroke="#141414" stroke-width="0.70"/>
<line x1="333.54" y1="303.01" x2="335.10" y2="303.01" stroke="#141414" stroke-width="0.70"/>
<line x1="333.54" y1="304.36" x2="334.18" y2="304.36" stroke="#141414" stroke-width="0.70"/>
<line x1="332.38" y1="303.91" x2="332.38" y2="305.57" stroke="#141414" stroke-width="0.70"/>
<line x1="332.38" y1="303.91" x2="333.54" y2="303.91" stroke="#141414" stroke-width="0.70"/>
<line x1="332.38" y1="305.57" x2="335.10" y2="305.57" stroke="#141414" stroke-width="0.70"/>
<line x1="332.18" y1="301.21" x2="332.18" y2="304.22" stroke="#141414" stroke-width="0.70"/>
<line x1="332.18" y1="301.21" x2="332.44" y2="301.21" stroke="#141414" stroke-width="0.70"/>
<line x1="332.18" y1="304.22" x2="332.38" y2="304.22" stroke="#141414" stroke-width="0.70"/>
<line x1="330.01" y1="292.66" x2="330.01" y2="302.87" stroke="#141414" stroke-width="0.70"/>
<line x1="330.01" y1="292.66" x2="330.21" y2="292.66" stroke="#141414" stroke-width="0.70"/>
<line x1="330.01" y1="302.87" x2="332.18" y2="302.87" stroke="#141414" stroke-width="0.70"/>
<line x1="329.10" y1="295.67" x2="330.01" y2="295.67" stroke="#2a2a2a" stroke-width="0.55"/>
<line x1="332.94" y1="306.33" x2="332.94" y2="307.23" stroke="#141414" stroke-width="0.70"/>
<line x1="332.94" y1="306.33" x2="335.10" y2="306.33" stroke="#141414" stroke-width="0.70"/>
<line x1="332.94" y1="307.23" x2="335.10" y2="307.23" stroke="#141414" stroke-width="0.70"/>
<line x1="332.20" y1="306.78" x2="332.20" y2="308.13" stroke="#141414" stroke-width="0.70"/>
<line x1="332.20" y1="306.78" x2="332.94" y2="306.78" stroke="#141414" stroke-width="0.70"/>
<line x1="332.20" y1="308.13" x2="335.10" y2="308.13" stroke="#141414" stroke-width="0.70"/>
<line x1="333.79" y1="309.93" x2="333.79" y2="310.83" stroke="#141414" stroke-width="0.70"/>
<line x1="333.79" y1="309.93" x2="335.10" y2="309.93" stroke="#141414" stroke-width="0.70"/>
<line x1="333.79" y1="310.83" x2="335.10" y2="310.83" stroke="#141414" stroke-width="0.70"/>
<line x1="332.98" y1="309.03" x2="332.98" y2="310.38" stroke="#141414" stroke-width="0.70"/>
<line x1="332.98" y1="309.03" x2="335.10" y2="309.03" stroke="#141414" stroke-width="0.70"/>
<line x1="332.98" y1="310.38" x2="333.79" y2="310.38" stroke="#141414" stroke-width="0.70"/>
<line x1="332.47" y1="309.93" x2="332.47" y2="311.94" stroke="#141414" stroke-width="0.70"/>
<line x1="332.47" y1="309.93" x2="332.98" y2="309.93" stroke="#141414" stroke-width="0.70"/>
<line x1="332.47" y1="311.94" x2="335.10" y2="311.94" stroke="#141414" stroke-width="0.70"/>
<line x1="331.79" y1="307.23" x2="331.79" y2="310.59" stroke="#141414" stroke-width="0.70"/>
<line x1="331.79" y1="307.23" x2="332.20" y2="307.23" stroke="#141414" stroke-width="0.70"/>
<line x1="331.79" y1="310.59" x2="332.47" y2="310.59" stroke="#141414" stroke-width="0.70"/>
<line x1="329.10" y1="309.24" x2="331.79" y2="309.24" stroke="#2a2a2a" stroke-width="0.55"/>
<line x1="334.27" y1="313.05" x2="334.27" y2="313.95" stroke="#141414" stroke-width="0.70"/>
<line x1="334.27" y1="313.05" x2="335.10" y2="313.05" stroke="#141414" stroke-width="0.70"/>
<line x1="334.27" y1="313.95" x2="335.10" y2="313.95" stroke="#141414" stroke-width="0.70"/>
<line x1="333.86" y1="314.85" x2="333.86" y2="315.75" stroke="#141414" stroke-width="0.70"/>
<line x1="333.86" y1="314.85" x2="335.10" y2="314.85" stroke="#141414" stroke-width="0.70"/>
<line x1="333.86" y1="315.75" x2="335.10" y2="315.75" stroke="#141414" stroke-width="0.70"/>
<line x1="332.53" y1="315.30" x2="332.53" y2="316.65" stroke="#141414" stroke-width="0.70"/>
<line x1="332.53" y1="315.30" x2="333.86" y2="315.30" stroke="#141414" stroke-width="0.70"/>
<line x1="332.53" y1="316.65" x2="335.10" y2="316.65" stroke="#141414" stroke-width="0.70"/>
<line x1="332.06" y1="313.50" x2="332.06" y2="315.75" stroke="#141414" stroke-width="0.70"/>
<line x1="332.06" y1="313.50" x2="334.27" y2="313.50" stroke="#141414" stroke-width="0.70"/>
<line x1="332.06" y1="315.75" x2="332.53" y2="315.75" stroke="#141414" stroke-width="0.70"/>
<line x1="333.40" y1="317.55" x2="333.40" y2="318.45" stroke="#141414" stroke-width="0.70"/>
<line x1="333.40" y1="317.55" x2="335.10" y2="317.55" stroke="#141414" stroke-width="0.70"/>
<line x1="333.40" y1="318.45" x2="335.10" y2="318.45" stroke="#141414" stroke-width="0.70"/>
<line x1="332.54" y1="318.00" x2="332.54" y2="319.35" stroke="#141414" stroke-width="0.70"/>
<line x1="332.54" y1="318.00" x2="333.40" y2="318.00" stroke="#141414" stroke-width="0.70"/>
<line x1="332.54" y1="319.35" x2="335.10" y2="319.35" stroke="#141414" stroke-width="0.70"/>
<line x1="331.43" y1="314.85" x2="331.43" y2="318.45" stroke="#141414" stroke-width="0.70"/>
<line x1="331.43" y1="314.85" x2="332.06" y2="314.85" stroke="#141414" stroke-width="0.70"/>
<line x1="331.43" y1="318.45" x2="332.54" y2="318.45" stroke="#141414" stroke-width="0.70"/>
<line x1="331.23" y1="316.20" x2="331.23" y2="320.03" stroke="#141414" stroke-width="0.70"/>
<line x1="331.23" y1="316.20" x2="331.43" y2="316.20" stroke="#141414" stroke-width="0.70"/>
<line x1="331.23" y1="320.03" x2="335.10" y2="320.03" stroke="#141414" stroke-width="0.70"/>
<line x1="329.10" y1="316.43" x2="331.23" y2="316.43" stroke="#2a2a2a" stroke-width="0.55"/>
<line x1="333.96" y1="320.71" x2="333.96" y2="321.61" stroke="#141414" stroke-width="0.70"/>
<line x1="333.96" y1="320.71" x2="335.10" y2="320.71" stroke="#141414" stroke-width="0.70"/>
<line x1="333.96" y1="321.61" x2="335.10" y2="321.61" stroke="#141414" stroke-width="0.70"/>
<line x1="332.54" y1="321.16" x2="332.54" y2="322.51" stroke="#141414" stroke-width="0.70"/>
<line x1="332.54" y1="321.16" x2="333.96" y2="321.16" stroke="#141414" stroke-width="0.70"/>
<line x1="332.54" y1="322.51" x2="335.10" y2="322.51" stroke="#141414" stroke-width="0.70"/>
<line x1="334.38" y1="323.41" x2="334.38" y2="324.31" stroke="#141414" stroke-width="0.70"/>
<line x1="334.38" y1="323.41" x2="335.10" y2="323.41" stroke="#141414" stroke-width="0.70"/>
<line x1="334.38" y1="324.31" x2="335.10" y2="324.31" stroke="#141414" stroke-width="0.70"/>
<line x1="334.02" y1="325.21" x2="334.02" y2="326.11" stroke="#141414" stroke-width="0.70"/>
<line x1="334.02" y1="325.21" x2="335.10" y2="325.21" stroke="#141414" stroke-width="0.70"/>
<line x1="334.02" y1="326.11" x2="335.10" y2="326.11" stroke="#141414" stroke-width="0.70"/>
<line x1="332.23" y1="323.86" x2="332.23" y2="325.66" stroke="#141414" stroke-width="0.70"/>
<line x1="332.23" y1="323.86" x2="334.38" y2="323.86" stroke="#141414" stroke-width="0.70"/>
<line x1="332.23" y1="325.66" x2="334.02" y2="325.66" stroke="#141414" stroke-width="0.70"/>
<line x1="331.81" y1="321.61" x2="331.81" y2="324.76" stroke="#141414" stroke-width="0.70"/>
<line x1="331.81" y1="321.61" x2="332.54" y2="321.61" stroke="#141414" stroke-width="0.70"/>
<line x1="331.81" y1="324.76" x2="332.23" y2="324.76" stroke="#141414" stroke-width="0.70"/>
<line x1="333.43" y1="327.01" x2="333.43" y2="327.91" stroke="#141414" stroke-width="0.70"/>
<line x1="333.43" y1="327.01" x2="335.10" y2="327.01" stroke="#141414" stroke-width="0.70"/>
<line x1="333.43" y1="327.91" x2="335.10" y2="327.91" stroke="#141414" stroke-width="0.70"/>
<line x1="333.00" y1="327.46" x2="333.00" y2="328.60" stroke="#141414" stroke-width="0.70"/>
<line x1="333.00" y1="327.46" x2="333.43" y2="327.46" stroke="#141414" stroke-width="0.70"/>
<line x1="333.00" y1="328.60" x2="335.10" y2="328.60" stroke="#141414" stroke-width="0.70"/>
<line x1="331.07" y1="323.41" x2="331.07" y2="327.70" stroke="#141414" stroke-width="0.70"/>
<line x1="331.07" y1="323.41" x2="331.81" y2="323.41" stroke="#141414" stroke-width="0.70"/>
<line x1="331.07" y1="327.70" x2="333.00" y2="327.70" stroke="#141414" stroke-width="0.70"/>
<line x1="329.10" y1="324.55" x2="331.07" y2="324.55" stroke="#2a2a2a" stroke-width="0.55"/>
<line x1="333.62" y1="329.29" x2="333.62" y2="330.19" stroke="#141414" stroke-width="0.70"/>
<line x1="333.62" y1="329.29" x2="335.10" y2="329.29" stroke="#141414" stroke-width="0.70"/>
<line x1="333.62" y1="330.19" x2="335.10" y2="330.19" stroke="#141414" stroke-width="0.70"/>
<line x1="332.69" y1="329.74" x2="332.69" y2="331.09" stroke="#141414" stroke-width="0.70"/>
<line x1="332.69" y1="329.74" x2="333.62" y2="329.74" stroke="#141414" stroke-width="0.70"/>
<line x1="332.69" y1="331.09" x2="335.10" y2="331.09" stroke="#141414" stroke-width="0.70"/>
<line x1="332.49" y1="330.19" x2="332.49" y2="331.99" stroke="#141414" stroke-width="0.70"/>
<line x1="332.49" y1="330.19" x2="332.69" y2="330.19" stroke="#141414" stroke-width="0.70"/>
<line x1="332.49" y1="331.99" x2="335.10" y2="331.99" stroke="#141414" stroke-width="0.70"/>
<line x1="332.29" y1="330.64" x2="332.29" y2="332.89" stroke="#141414" stroke-width="0.70"/>
<line x1="332.29" y1="330.64" x2="332.49" y2="330.64" stroke="#141414" stroke-width="0.70"/>
<line x1="332.29" y1="332.89" x2="335.10" y2="332.89" stroke="#141414" stroke-width="0.70"/>
<line x1="334.15" y1="333.79" x2="334.15" y2="334.69" stroke="#141414" stroke-width="0.70"/>
<line x1="334.15" y1="333.79" x2="335.10" y2="333.79" stroke="#141414" stroke-width="0.70"/>
<line x1="334.15" y1="334.69" x2="335.10" y2="334.69" stroke="#141414" stroke-width="0.70"/>
<line x1="331.12" y1="331.09" x2="331.12" y2="334.24" stroke="#141414" stroke-width="0.70"/>
<line x1="331.12" y1="331.09" x2="332.29" y2="331.09" stroke="#141414" stroke-width="0.70"/>
<line x1="331.12" y1="334.24" x2="334.15" y2="334.24" stroke="#141414" stroke-width="0.70"/>
<line x1="333.36" y1="335.59" x2="333.36" y2="336.49" stroke="#141414" stroke-width="0.70"/>
<line x1="333.36" y1="335.59" x2="335.10" y2="335.59" stroke="#141414" stroke-width="0.70"/>
<line x1="333.36" y1="336.49" x2="335.10" y2="336.49" stroke="#141414" stroke-width="0.70"/>
<line x1="333.23" y1="338.29" x2="333.23" y2="339.22" stroke="#141414" stroke-width="0.70"/>
<line x1="333.23" y1="338.29" x2="335.10" y2="338.29" stroke="#141414" stroke-width="0.70"/>
<line x1="333.23" y1="339.22" x2="335.10" y2="339.22" stroke="#141414" stroke-width="0.70"/>
<line x1="332.60" y1="337.39" x2="332.60" y2="338.77" stroke="#141414" stroke-width="0.70"/>
<line x1="332.60" y1="337.39" x2="335.10" y2="337.39" stroke="#141414" stroke-width="0.70"/>
<line x1="332.60" y1="338.77" x2="333.23" y2="338.77" stroke="#141414" stroke-width="0.70"/>
<line x1="331.41" y1="336.04" x2="331.41" y2="338.32" stroke="#141414" stroke-width="0.70"/>
<line x1="331.41" y1="336.04" x2="333.36" y2="336.04" stroke="#141414" stroke-width="0.70"/>
<line x1="331.41" y1="338.32" x2="332.60" y2="338.32" stroke="#141414" stroke-width="0.70"/>
<line x1="330.78" y1="331.99" x2="330.78" y2="337.42" stroke="#141414" stroke-width="0.70"/>
<line x1="330.78" y1="331.99" x2="331.12" y2="331.99" stroke="#141414" stroke-width="0.70"/>
<line x1="330.78" y1="337.42" x2="331.41" y2="337.42" stroke="#141414" stroke-width="0.70"/>
<line x1="329.10" y1="334.27" x2="330.78" y2="334.27" stroke="#2a2a2a" stroke-width="0.55"/>
<line x1="333.46" y1="340.15" x2="333.46" y2="341.05" stroke="#141414" stroke-width="0.70"/>
<line x1="333.46" y1="340.15" x2="335.10" y2="340.15" stroke="#141414" stroke-width="0.70"/>
<line x1="333.46" y1="341.05" x2="335.10" y2="341.05" stroke="#141414" stroke-width="0.70"/>
<line x1="334.36" y1="341.95" x2="334.36" y2="342.85" stroke="#141414" stroke-width="0.70"/>
<line x1="334.36" y1="341.95" x2="335.10" y2="341.95" stroke="#141414" stroke-width="0.70"/>
<line x1="334.36" y1="342.85" x2="335.10" y2="342.85" stroke="#141414" stroke-width="0.70"/>
<line x1="332.74" y1="342.40" x2="332.74" y2="343.82" stroke="#141414" stroke-width="0.70"/>
<line x1="332.74" y1="342.40" x2="334.36" y2="342.40" stroke="#141414" stroke-width="0.70"/>
<line x1="332.74" y1="343.82" x2="335.10" y2="343.82" stroke="#141414" stroke-width="0.70"/>
<line x1="331.82" y1="340.60" x2="331.82" y2="342.92" stroke="#141414" stroke-width="0.70"/>
<line x1="331.82" y1="340.60" x2="333.46" y2="340.60" stroke="#141414" stroke-width="0.70"/>
<line x1="331.82" y1="342.92" x2="332.74" y2="342.92" stroke="#141414" stroke-width="0.70"/>
<line x1="329.10" y1="342.02" x2="331.82" y2="342.02" stroke="#2a2a2a" stroke-width="0.55"/>
<line x1="333.69" y1="345.69" x2="333.69" y2="346.59" stroke="#141414" stroke-width="0.70"/>
<line x1="333.69" y1="345.69" x2="335.10" y2="345.69" stroke="#141414" stroke-width="0.70"/>
<line x1="333.69" y1="346.59" x2="335.10" y2="346.59" stroke="#141414" stroke-width="0.70"/>
<line x1="333.07" y1="344.79" x2="333.07" y2="346.14" stroke="#141414" stroke-width="0.70"/>
<line x1="333.07" y1="344.79" x2="335.10" y2="344.79" stroke="#141414" stroke-width="0.70"/>
<line x1="333.07" y1="346.14" x2="333.69" y2="346.14" stroke="#141414" stroke-width="0.70"/>
<line x1="332.87" y1="345.69" x2="332.87" y2="347.49" stroke="#141414" stroke-width="0.70"/>
<line x1="332.87" y1="345.69" x2="333.07" y2="345.69" stroke="#141414" stroke-width="0.70"/>
<line x1="332.87" y1="347.49" x2="335.10" y2="347.49" stroke="#141414" stroke-width="0.70"/>
<line x1="334.32" y1="348.39" x2="334.32" y2="349.11" stroke="#141414" stroke-width="0.70"/>
<line x1="334.32" y1="348.39" x2="335.10" y2="348.39" stroke="#141414" stroke-width="0.70"/>
<line x1="334.32" y1="349.11" x2="335.10" y2="349.11" stroke="#141414" stroke-width="0.70"/>
<line x1="331.84" y1="346.14" x2="331.84" y2="348.66" stroke="#141414" stroke-width="0.70"/>
<line x1="331.84" y1="346.14" x2="332.87" y2="346.14" stroke="#141414" stroke-width="0.70"/>
<line x1="331.84" y1="348.66" x2="334.32" y2="348.66" stroke="#141414" stroke-width="0.70"/>
<line x1="329.10" y1="346.86" x2="331.84" y2="346.86" stroke="#2a2a2a" stroke-width="0.55"/>
<line x1="333.70" y1="350.73" x2="333.70" y2="351.63" stroke="#141414" stroke-width="0.70"/>
<line x1="333.70" y1="350.73" x2="335.10" y2="350.73" stroke="#141414" stroke-width="0.70"/>
<line x1="333.70" y1="351.63" x2="335.10" y2="351.63" stroke="#141414" stroke-width="0.70"/>
<line x1="333.41" y1="349.83" x2="333.41" y2="351.18" stroke="#141414" stroke-width="0.70"/>
<line x1="333.41" y1="349.83" x2="335.10" y2="349.83" stroke="#141414" stroke-width="0.70"/>
<line x1="333.41" y1="351.18" x2="333.70" y2="351.18" stroke="#141414" stroke-width="0.70"/>
<line x1="333.98" y1="352.53" x2="333.98" y2="353.43" stroke="#141414" stroke-width="0.70"/>
<line x1="333.98" y1="352.53" x2="335.10" y2="352.53" stroke="#141414" stroke-width="0.70"/>
<line x1="333.98" y1="353.43" x2="335.10" y2="353.43" stroke="#141414" stroke-width="0.70"/>
<line x1="334.23" y1="354.33" x2="334.23" y2="355.23" stroke="#141414" stroke-width="0.70"/>
<line x1="334.23" y1="354.33" x2="335.10" y2="354.33" stroke="#141414" stroke-width="0.70"/>
<line x1="334.23" y1="355.23" x2="335.10" y2="355.23" stroke="#141414" stroke-width="0.70"/>
<line x1="333.20" y1="352.98" x2="333.20" y2="354.78" stroke="#141414" stroke-width="0.70"/>
<line x1="333.20" y1="352.98" x2="333.98" y2="352.98" stroke="#141414" stroke-width="0.70"/>
<line x1="333.20" y1="354.78" x2="334.23" y2="354.78" stroke="#141414" stroke-width="0.70"/>
<line x1="332.46" y1="353.88" x2="332.46" y2="356.13" stroke="#141414" stroke-width="0.70"/>
<line x1="332.46" y1="353.88" x2="333.20" y2="353.88" stroke="#141414" stroke-width="0.70"/>
<line x1="332.46" y1="356.13" x2="335.10" y2="356.13" stroke="#141414" stroke-width="0.70"/>
<line x1="333.58" y1="358.83" x2="333.58" y2="359.94" stroke="#141414" stroke-width="0.70"/>
<line x1="333.58" y1="358.83" x2="335.10" y2="358.83" stroke="#141414" stroke-width="0.70"/>
<line x1="333.58" y1="359.94" x2="335.10" y2="359.94" stroke="#141414" stroke-width="0.70"/>
<line x1="332.84" y1="357.93" x2="332.84" y2="359.49" stroke="#141414" stroke-width="0.70"/>
<line x1="332.84" y1="357.93" x2="335.10" y2="357.93" stroke="#141414" stroke-width="0.70"/>
<line x1="332.84" y1="359.49" x2="333.58" y2="359.49" stroke="#141414" stroke-width="0.70"/>
<line x1="332.64" y1="357.03" x2="332.64" y2="359.04" stroke="#141414" stroke-width="0.70"/>
<line x1="332.64" y1="357.03" x2="335.10" y2="357.03" stroke="#141414" stroke-width="0.70"/>
<line x1="332.64" y1="359.04" x2="332.84" y2="359.04" stroke="#141414" stroke-width="0.70"/>
<line x1="331.02" y1="354.33" x2="331.02" y2="358.59" stroke="#141414" stroke-width="0.70"/>
<line x1="331.02" y1="354.33" x2="332.46" y2="354.33" stroke="#141414" stroke-width="0.70"/>
<line x1="331.02" y1="358.59" x2="332.64" y2="358.59" stroke="#141414" stroke-width="0.70"/>
<line x1="330.82" y1="350.73" x2="330.82" y2="356.34" stroke="#141414" stroke-width="0.70"/>
<line x1="330.82" y1="350.73" x2="333.41" y2="350.73" stroke="#141414" stroke-width="0.70"/>
<line x1="330.82" y1="356.34" x2="331.02" y2="356.34" stroke="#141414" stroke-width="0.70"/>
<line x1="329.10" y1="354.99" x2="330.82" y2="354.99" stroke="#2a2a2a" stroke-width="0.55"/>
<line x1="329.10" y1="266.46" x2="329.10" y2="354.99" stroke="#555" stroke-width="0.55"/>
<line x1="328.50" y1="308.30" x2="329.10" y2="308.30" stroke="#666" stroke-width="0.60"/>
<line x1="333.91" y1="361.05" x2="333.91" y2="361.95" stroke="#141414" stroke-width="0.70"/>
<line x1="333.91" y1="361.05" x2="335.10" y2="361.05" stroke="#141414" stroke-width="0.70"/>
<line x1="333.91" y1="361.95" x2="335.10" y2="361.95" stroke="#141414" stroke-width="0.70"/>
<line x1="332.32" y1="361.50" x2="332.32" y2="362.85" stroke="#141414" stroke-width="0.70"/>
<line x1="332.32" y1="361.50" x2="333.91" y2="361.50" stroke="#141414" stroke-width="0.70"/>
<line x1="332.32" y1="362.85" x2="335.10" y2="362.85" stroke="#141414" stroke-width="0.70"/>
<line x1="332.93" y1="363.75" x2="332.93" y2="364.65" stroke="#141414" stroke-width="0.70"/>
<line x1="332.93" y1="363.75" x2="335.10" y2="363.75" stroke="#141414" stroke-width="0.70"/>
<line x1="332.93" y1="364.65" x2="335.10" y2="364.65" stroke="#141414" stroke-width="0.70"/>
<line x1="333.82" y1="365.55" x2="333.82" y2="366.45" stroke="#141414" stroke-width="0.70"/>
<line x1="333.82" y1="365.55" x2="335.10" y2="365.55" stroke="#141414" stroke-width="0.70"/>
<line x1="333.82" y1="366.45" x2="335.10" y2="366.45" stroke="#141414" stroke-width="0.70"/>
<line x1="332.98" y1="366.00" x2="332.98" y2="367.20" stroke="#141414" stroke-width="0.70"/>
<line x1="332.98" y1="366.00" x2="333.82" y2="366.00" stroke="#141414" stroke-width="0.70"/>
<line x1="332.98" y1="367.20" x2="335.10" y2="367.20" stroke="#141414" stroke-width="0.70"/>
<line x1="331.97" y1="364.20" x2="331.97" y2="366.30" stroke="#141414" stroke-width="0.70"/>
<line x1="331.97" y1="364.20" x2="332.93" y2="364.20" stroke="#141414" stroke-width="0.70"/>
<line x1="331.97" y1="366.30" x2="332.98" y2="366.30" stroke="#141414" stroke-width="0.70"/>
<line x1="331.43" y1="361.95" x2="331.43" y2="365.40" stroke="#141414" stroke-width="0.70"/>
<line x1="331.43" y1="361.95" x2="332.32" y2="361.95" stroke="#141414" stroke-width="0.70"/>
<line x1="331.43" y1="365.40" x2="331.97" y2="365.40" stroke="#141414" stroke-width="0.70"/>
<line x1="329.10" y1="364.05" x2="331.43" y2="364.05" stroke="#2a2a2a" stroke-width="0.55"/>
<line x1="333.22" y1="369.75" x2="333.22" y2="370.65" stroke="#141414" stroke-width="0.70"/>
<line x1="333.22" y1="369.75" x2="335.10" y2="369.75" stroke="#141414" stroke-width="0.70"/>
<line x1="333.22" y1="370.65" x2="335.10" y2="370.65" stroke="#141414" stroke-width="0.70"/>
<line x1="333.02" y1="368.85" x2="333.02" y2="370.20" stroke="#141414" stroke-width="0.70"/>
<line x1="333.02" y1="368.85" x2="335.10" y2="368.85" stroke="#141414" stroke-width="0.70"/>
<line x1="333.02" y1="370.20" x2="333.22" y2="370.20" stroke="#141414" stroke-width="0.70"/>
<line x1="332.82" y1="367.95" x2="332.82" y2="369.75" stroke="#141414" stroke-width="0.70"/>
<line x1="332.82" y1="367.95" x2="335.10" y2="367.95" stroke="#141414" stroke-width="0.70"/>
<line x1="332.82" y1="369.75" x2="333.02" y2="369.75" stroke="#141414" stroke-width="0.70"/>
<line x1="334.34" y1="371.55" x2="334.34" y2="372.45" stroke="#141414" stroke-width="0.70"/>
<line x1="334.34" y1="371.55" x2="335.10" y2="371.55" stroke="#141414" stroke-width="0.70"/>
<line x1="334.34" y1="372.45" x2="335.10" y2="372.45" stroke="#141414" stroke-width="0.70"/>
<line x1="333.56" y1="373.35" x2="333.56" y2="374.25" stroke="#141414" stroke-width="0.70"/>
<line x1="333.56" y1="373.35" x2="335.10" y2="373.35" stroke="#141414" stroke-width="0.70"/>
<line x1="333.56" y1="374.25" x2="335.10" y2="374.25" stroke="#141414" stroke-width="0.70"/>
<line x1="333.69" y1="375.15" x2="333.69" y2="376.05" stroke="#141414" stroke-width="0.70"/>
<line x1="333.69" y1="375.15" x2="335.10" y2="375.15" stroke="#141414" stroke-width="0.70"/>
<line x1="333.69" y1="376.05" x2="335.10" y2="376.05" stroke="#141414" stroke-width="0.70"/>
<line x1="332.61" y1="373.80" x2="332.61" y2="375.60" stroke="#141414" stroke-width="0.70"/>
<line x1="332.61" y1="373.80" x2="333.56" y2="373.80" stroke="#141414" stroke-width="0.70"/>
<line x1="332.61" y1="375.60" x2="333.69" y2="375.60" stroke="#141414" stroke-width="0.70"/>
<line x1="331.96" y1="372.00" x2="331.96" y2="374.70" stroke="#141414" stroke-width="0.70"/>
<line x1="331.96" y1="372.00" x2="334.34" y2="372.00" stroke="#141414" stroke-width="0.70"/>
<line x1="331.96" y1="374.70" x2="332.61" y2="374.70" stroke="#141414" stroke-width="0.70"/>
<line x1="333.32" y1="376.95" x2="333.32" y2="377.85" stroke="#141414" stroke-width="0.70"/>
<line x1="333.32" y1="376.95" x2="335.10" y2="376.95" stroke="#141414" stroke-width="0.70"/>
<line x1="333.32" y1="377.85" x2="335.10" y2="377.85" stroke="#141414" stroke-width="0.70"/>
<line x1="332.96" y1="377.40" x2="332.96" y2="378.75" stroke="#141414" stroke-width="0.70"/>
<line x1="332.96" y1="377.40" x2="333.32" y2="377.40" stroke="#141414" stroke-width="0.70"/>
<line x1="332.96" y1="378.75" x2="335.10" y2="378.75" stroke="#141414" stroke-width="0.70"/>
<line x1="331.76" y1="373.80" x2="331.76" y2="377.85" stroke="#141414" stroke-width="0.70"/>
<line x1="331.76" y1="373.80" x2="331.96" y2="373.80" stroke="#141414" stroke-width="0.70"/>
<line x1="331.76" y1="377.85" x2="332.96" y2="377.85" stroke="#141414" stroke-width="0.70"/>
<line x1="330.21" y1="369.30" x2="330.21" y2="375.15" stroke="#141414" stroke-width="0.70"/>
<line x1="330.21" y1="369.30" x2="332.82" y2="369.30" stroke="#141414" stroke-width="0.70"/>
<line x1="330.21" y1="375.15" x2="331.76" y2="375.15" stroke="#141414" stroke-width="0.70"/>
<line x1="334.36" y1="380.55" x2="334.36" y2="381.45" stroke="#141414" stroke-width="0.70"/>
<line x1="334.36" y1="380.55" x2="335.10" y2="380.55" stroke="#141414" stroke-width="0.70"/>
<line x1="334.36" y1="381.45" x2="335.10" y2="381.45" stroke="#141414" stroke-width="0.70"/>
<line x1="333.19" y1="381.00" x2="333.19" y2="382.35" stroke="#141414" stroke-width="0.70"/>
<line x1="333.19" y1="381.00" x2="334.36" y2="381.00" stroke="#141414" stroke-width="0.70"/>
<line x1="333.19" y1="382.35" x2="335.10" y2="382.35" stroke="#141414" stroke-width="0.70"/>
<line x1="332.99" y1="381.45" x2="332.99" y2="383.25" stroke="#141414" stroke-width="0.70"/>
<line x1="332.99" y1="381.45" x2="333.19" y2="381.45" stroke="#141414" stroke-width="0.70"/>
<line x1="332.99" y1="383.25" x2="335.10" y2="383.25" stroke="#141414" stroke-width="0.70"/>
<line x1="332.79" y1="379.65" x2="332.79" y2="381.90" stroke="#141414" stroke-width="0.70"/>
<line x1="332.79" y1="379.65" x2="335.10" y2="379.65" stroke="#141414" stroke-width="0.70"/>
<line x1="332.79" y1="381.90" x2="332.99" y2="381.90" stroke="#141414" stroke-width="0.70"/>
<line x1="331.46" y1="381.45" x2="331.46" y2="384.15" stroke="#141414" stroke-width="0.70"/>
<line x1="331.46" y1="381.45" x2="332.79" y2="381.45" stroke="#141414" stroke-width="0.70"/>
<line x1="331.46" y1="384.15" x2="335.10" y2="384.15" stroke="#141414" stroke-width="0.70"/>
<line x1="333.38" y1="385.05" x2="333.38" y2="385.95" stroke="#141414" stroke-width="0.70"/>
<line x1="333.38" y1="385.05" x2="335.10" y2="385.05" stroke="#141414" stroke-width="0.70"/>
<line x1="333.38" y1="385.95" x2="335.10" y2="385.95" stroke="#141414" stroke-width="0.70"/>
<line x1="331.26" y1="381.90" x2="331.26" y2="385.50" stroke="#141414" stroke-width="0.70"/>
<line x1="331.26" y1="381.90" x2="331.46" y2="381.90" stroke="#141414" stroke-width="0.70"/>
<line x1="331.26" y1="385.50" x2="333.38" y2="385.50" stroke="#141414" stroke-width="0.70"/>
<line x1="331.06" y1="382.80" x2="331.06" y2="386.83" stroke="#141414" stroke-width="0.70"/>
<line x1="331.06" y1="382.80" x2="331.26" y2="382.80" stroke="#141414" stroke-width="0.70"/>
<line x1="331.06" y1="386.83" x2="335.10" y2="386.83" stroke="#141414" stroke-width="0.70"/>
<line x1="330.01" y1="373.35" x2="330.01" y2="383.23" stroke="#141414" stroke-width="0.70"/>
<line x1="330.01" y1="373.35" x2="330.21" y2="373.35" stroke="#141414" stroke-width="0.70"/>
<line x1="330.01" y1="383.23" x2="331.06" y2="383.23" stroke="#141414" stroke-width="0.70"/>
<line x1="329.10" y1="377.38" x2="330.01" y2="377.38" stroke="#2a2a2a" stroke-width="0.55"/>
<line x1="333.19" y1="388.61" x2="333.19" y2="389.51" stroke="#141414" stroke-width="0.70"/>
<line x1="333.19" y1="388.61" x2="335.10" y2="388.61" stroke="#141414" stroke-width="0.70"/>
<line x1="333.19" y1="389.51" x2="335.10" y2="389.51" stroke="#141414" stroke-width="0.70"/>
<line x1="333.43" y1="390.41" x2="333.43" y2="391.31" stroke="#141414" stroke-width="0.70"/>
<line x1="333.43" y1="390.41" x2="335.10" y2="390.41" stroke="#141414" stroke-width="0.70"/>
<line x1="333.43" y1="391.31" x2="335.10" y2="391.31" stroke="#141414" stroke-width="0.70"/>
<line x1="332.73" y1="390.86" x2="332.73" y2="392.21" stroke="#141414" stroke-width="0.70"/>
<line x1="332.73" y1="390.86" x2="333.43" y2="390.86" stroke="#141414" stroke-width="0.70"/>
<line x1="332.73" y1="392.21" x2="335.10" y2="392.21" stroke="#141414" stroke-width="0.70"/>
<line x1="332.53" y1="389.06" x2="332.53" y2="391.31" stroke="#141414" stroke-width="0.70"/>
<line x1="332.53" y1="389.06" x2="333.19" y2="389.06" stroke="#141414" stroke-width="0.70"/>
<line x1="332.53" y1="391.31" x2="332.73" y2="391.31" stroke="#141414" stroke-width="0.70"/>
<line x1="333.38" y1="394.01" x2="333.38" y2="394.91" stroke="#141414" stroke-width="0.70"/>
<line x1="333.38" y1="394.01" x2="335.10" y2="394.01" stroke="#141414" stroke-width="0.70"/>
<line x1="333.38" y1="394.91" x2="335.10" y2="394.91" stroke="#141414" stroke-width="0.70"/>
<line x1="332.44" y1="393.11" x2="332.44" y2="394.46" stroke="#141414" stroke-width="0.70"/>
<line x1="332.44" y1="393.11" x2="335.10" y2="393.11" stroke="#141414" stroke-width="0.70"/>
<line x1="332.44" y1="394.46" x2="333.38" y2="394.46" stroke="#141414" stroke-width="0.70"/>
<line x1="331.84" y1="390.41" x2="331.84" y2="394.01" stroke="#141414" stroke-width="0.70"/>
<line x1="331.84" y1="390.41" x2="332.53" y2="390.41" stroke="#141414" stroke-width="0.70"/>
<line x1="331.84" y1="394.01" x2="332.44" y2="394.01" stroke="#141414" stroke-width="0.70"/>
<line x1="333.26" y1="395.81" x2="333.26" y2="396.71" stroke="#141414" stroke-width="0.70"/>
<line x1="333.26" y1="395.81" x2="335.10" y2="395.81" stroke="#141414" stroke-width="0.70"/>
<line x1="333.26" y1="396.71" x2="335.10" y2="396.71" stroke="#141414" stroke-width="0.70"/>
<line x1="334.40" y1="397.61" x2="334.40" y2="398.60" stroke="#141414" stroke-width="0.70"/>
<line x1="334.40" y1="397.61" x2="335.10" y2="397.61" stroke="#141414" stroke-width="0.70"/>
<line x1="334.40" y1="398.60" x2="335.10" y2="398.60" stroke="#141414" stroke-width="0.70"/>
<line x1="331.85" y1="396.26" x2="331.85" y2="398.15" stroke="#141414" stroke-width="0.70"/>
<line x1="331.85" y1="396.26" x2="333.26" y2="396.26" stroke="#141414" stroke-width="0.70"/>
<line x1="331.85" y1="398.15" x2="334.40" y2="398.15" stroke="#141414" stroke-width="0.70"/>
<line x1="331.16" y1="391.76" x2="331.16" y2="397.25" stroke="#141414" stroke-width="0.70"/>
<line x1="331.16" y1="391.76" x2="331.84" y2="391.76" stroke="#141414" stroke-width="0.70"/>
<line x1="331.16" y1="397.25" x2="331.85" y2="397.25" stroke="#141414" stroke-width="0.70"/>
<line x1="330.96" y1="387.71" x2="330.96" y2="393.65" stroke="#141414" stroke-width="0.70"/>
<line x1="330.96" y1="387.71" x2="335.10" y2="387.71" stroke="#141414" stroke-width="0.70"/>
<line x1="330.96" y1="393.65" x2="331.16" y2="393.65" stroke="#141414" stroke-width="0.70"/>
<line x1="329.10" y1="393.20" x2="330.96" y2="393.20" stroke="#2a2a2a" stroke-width="0.55"/>
<line x1="334.15" y1="399.59" x2="334.15" y2="400.49" stroke="#141414" stroke-width="0.70"/>
<line x1="334.15" y1="399.59" x2="335.10" y2="399.59" stroke="#141414" stroke-width="0.70"/>
<line x1="334.15" y1="400.49" x2="335.10" y2="400.49" stroke="#141414" stroke-width="0.70"/>
<line x1="333.59" y1="401.39" x2="333.59" y2="402.29" stroke="#141414" stroke-width="0.70"/>
<line x1="333.59" y1="401.39" x2="335.10" y2="401.39" stroke="#141414" stroke-width="0.70"/>
<line x1="333.59" y1="402.29" x2="335.10" y2="402.29" stroke="#141414" stroke-width="0.70"/>
<line x1="332.37" y1="401.84" x2="332.37" y2="403.19" stroke="#141414" stroke-width="0.70"/>
<line x1="332.37" y1="401.84" x2="333.59" y2="401.84" stroke="#141414" stroke-width="0.70"/>
<line x1="332.37" y1="403.19" x2="335.10" y2="403.19" stroke="#141414" stroke-width="0.70"/>
<line x1="332.11" y1="400.04" x2="332.11" y2="402.29" stroke="#141414" stroke-width="0.70"/>
<line x1="332.11" y1="400.04" x2="334.15" y2="400.04" stroke="#141414" stroke-width="0.70"/>
<line x1="332.11" y1="402.29" x2="332.37" y2="402.29" stroke="#141414" stroke-width="0.70"/>
<line x1="333.30" y1="404.99" x2="333.30" y2="405.70" stroke="#141414" stroke-width="0.70"/>
<line x1="333.30" y1="404.99" x2="335.10" y2="404.99" stroke="#141414" stroke-width="0.70"/>
<line x1="333.30" y1="405.70" x2="335.10" y2="405.70" stroke="#141414" stroke-width="0.70"/>
<line x1="332.89" y1="404.09" x2="332.89" y2="405.25" stroke="#141414" stroke-width="0.70"/>
<line x1="332.89" y1="404.09" x2="335.10" y2="404.09" stroke="#141414" stroke-width="0.70"/>
<line x1="332.89" y1="405.25" x2="333.30" y2="405.25" stroke="#141414" stroke-width="0.70"/>
<line x1="331.13" y1="401.39" x2="331.13" y2="404.80" stroke="#141414" stroke-width="0.70"/>
<line x1="331.13" y1="401.39" x2="332.11" y2="401.39" stroke="#141414" stroke-width="0.70"/>
<line x1="331.13" y1="404.80" x2="332.89" y2="404.80" stroke="#141414" stroke-width="0.70"/>
<line x1="329.10" y1="402.55" x2="331.13" y2="402.55" stroke="#2a2a2a" stroke-width="0.55"/>
<line x1="332.99" y1="406.41" x2="332.99" y2="407.31" stroke="#141414" stroke-width="0.70"/>
<line x1="332.99" y1="406.41" x2="335.10" y2="406.41" stroke="#141414" stroke-width="0.70"/>
<line x1="332.99" y1="407.31" x2="335.10" y2="407.31" stroke="#141414" stroke-width="0.70"/>
<line x1="333.79" y1="408.21" x2="333.79" y2="409.11" stroke="#141414" stroke-width="0.70"/>
<line x1="333.79" y1="408.21" x2="335.10" y2="408.21" stroke="#141414" stroke-width="0.70"/>
<line x1="333.79" y1="409.11" x2="335.10" y2="409.11" stroke="#141414" stroke-width="0.70"/>
<line x1="333.48" y1="410.01" x2="333.48" y2="410.91" stroke="#141414" stroke-width="0.70"/>
<line x1="333.48" y1="410.01" x2="335.10" y2="410.01" stroke="#141414" stroke-width="0.70"/>
<line x1="333.48" y1="410.91" x2="335.10" y2="410.91" stroke="#141414" stroke-width="0.70"/>
<line x1="333.80" y1="413.61" x2="333.80" y2="414.51" stroke="#141414" stroke-width="0.70"/>
<line x1="333.80" y1="413.61" x2="335.10" y2="413.61" stroke="#141414" stroke-width="0.70"/>
<line x1="333.80" y1="414.51" x2="335.10" y2="414.51" stroke="#141414" stroke-width="0.70"/>
<line x1="333.60" y1="412.71" x2="333.60" y2="414.06" stroke="#141414" stroke-width="0.70"/>
<line x1="333.60" y1="412.71" x2="335.10" y2="412.71" stroke="#141414" stroke-width="0.70"/>
<line x1="333.60" y1="414.06" x2="333.80" y2="414.06" stroke="#141414" stroke-width="0.70"/>
<line x1="332.92" y1="413.61" x2="332.92" y2="415.41" stroke="#141414" stroke-width="0.70"/>
<line x1="332.92" y1="413.61" x2="333.60" y2="413.61" stroke="#141414" stroke-width="0.70"/>
<line x1="332.92" y1="415.41" x2="335.10" y2="415.41" stroke="#141414" stroke-width="0.70"/>
<line x1="332.23" y1="411.81" x2="332.23" y2="414.06" stroke="#141414" stroke-width="0.70"/>
<line x1="332.23" y1="411.81" x2="335.10" y2="411.81" stroke="#141414" stroke-width="0.70"/>
<line x1="332.23" y1="414.06" x2="332.92" y2="414.06" stroke="#141414" stroke-width="0.70"/>
<line x1="333.28" y1="416.31" x2="333.28" y2="417.21" stroke="#141414" stroke-width="0.70"/>
<line x1="333.28" y1="416.31" x2="335.10" y2="416.31" stroke="#141414" stroke-width="0.70"/>
<line x1="333.28" y1="417.21" x2="335.10" y2="417.21" stroke="#141414" stroke-width="0.70"/>
<line x1="332.03" y1="413.61" x2="332.03" y2="416.76" stroke="#141414" stroke-width="0.70"/>
<line x1="332.03" y1="413.61" x2="332.23" y2="413.61" stroke="#141414" stroke-width="0.70"/>
<line x1="332.03" y1="416.76" x2="333.28" y2="416.76" stroke="#141414" stroke-width="0.70"/>
<line x1="331.83" y1="414.51" x2="331.83" y2="418.13" stroke="#141414" stroke-width="0.70"/>
<line x1="331.83" y1="414.51" x2="332.03" y2="414.51" stroke="#141414" stroke-width="0.70"/>
<line x1="331.83" y1="418.13" x2="335.10" y2="418.13" stroke="#141414" stroke-width="0.70"/>
<line x1="331.43" y1="410.46" x2="331.43" y2="414.98" stroke="#141414" stroke-width="0.70"/>
<line x1="331.43" y1="410.46" x2="333.48" y2="410.46" stroke="#141414" stroke-width="0.70"/>
<line x1="331.43" y1="414.98" x2="331.83" y2="414.98" stroke="#141414" stroke-width="0.70"/>
<line x1="331.10" y1="408.66" x2="331.10" y2="414.08" stroke="#141414" stroke-width="0.70"/>
<line x1="331.10" y1="408.66" x2="333.79" y2="408.66" stroke="#141414" stroke-width="0.70"/>
<line x1="331.10" y1="414.08" x2="331.43" y2="414.08" stroke="#141414" stroke-width="0.70"/>
<line x1="330.90" y1="406.86" x2="330.90" y2="413.18" stroke="#141414" stroke-width="0.70"/>
<line x1="330.90" y1="406.86" x2="332.99" y2="406.86" stroke="#141414" stroke-width="0.70"/>
<line x1="330.90" y1="413.18" x2="331.10" y2="413.18" stroke="#141414" stroke-width="0.70"/>
<line x1="329.10" y1="412.28" x2="330.90" y2="412.28" stroke="#2a2a2a" stroke-width="0.55"/>
<line x1="329.10" y1="364.05" x2="329.10" y2="412.28" stroke="#555" stroke-width="0.55"/>
<line x1="328.50" y1="377.40" x2="329.10" y2="377.40" stroke="#666" stroke-width="0.60"/>
<text x="368.00" y="431.00" font-size="7.00" font-weight="bold" text-anchor="middle" fill="#111" textLength="19.00" lengthAdjust="spacingAndGlyphs">Sham</text>
<text x="428.30" y="431.00" font-size="7.00" font-weight="bold" text-anchor="middle" fill="#111" textLength="11.90" lengthAdjust="spacingAndGlyphs">SCI</text>
<defs><linearGradient id="g459" x1="0" y1="0" x2="0" y2="1"><stop offset="0" stop-color="#c050f5"/><stop offset="0.5" stop-color="#ffffff"/><stop offset="1" stop-color="#28d09c"/></linearGradient></defs>
<rect x="459.60" y="262.80" width="3.2" height="60.60" fill="url(#g459)"/>
<text x="464.30" y="270.90" font-size="7.00" font-weight="normal" text-anchor="start" fill="#111">1.5</text>
<text x="464.30" y="279.70" font-size="7.00" font-weight="normal" text-anchor="start" fill="#111">1</text>
<text x="464.30" y="288.00" font-size="7.00" font-weight="normal" text-anchor="start" fill="#111">0.5</text>
<text x="464.30" y="295.80" font-size="7.00" font-weight="normal" text-anchor="start" fill="#111">0</text>
<text x="464.30" y="303.80" font-size="7.00" font-weight="normal" text-anchor="start" fill="#111">-0.5</text>
<text x="464.30" y="312.10" font-size="7.00" font-weight="normal" text-anchor="start" fill="#111">-1</text>
<text x="464.30" y="320.60" font-size="7.00" font-weight="normal" text-anchor="start" fill="#111">-1.5</text>
<text x="527.00" y="228.40" font-size="9.80" font-weight="bold" text-anchor="start" fill="#111" textLength="145.60" lengthAdjust="spacingAndGlyphs">lncRNA m6A Methylation Level</text>
<rect x="538.30" y="260.40" width="20.13" height="2.06" fill="#d486f8"/>
<rect x="538.30" y="262.40" width="20.13" height="3.06" fill="#d68df9"/>
<rect x="538.30" y="265.40" width="20.13" height="2.06" fill="#da97f9"/>
<rect x="538.30" y="267.40" width="20.13" height="1.76" fill="#d384f8"/>
<rect x="538.30" y="269.10" width="20.13" height="3.56" fill="#e0a9fa"/>
<rect x="538.30" y="272.60" width="20.13" height="1.76" fill="#dda1fa"/>
<rect x="538.30" y="274.30" width="20.13" height="3.06" fill="#ebc8fc"/>
<rect x="538.30" y="277.30" width="20.13" height="1.36" fill="#eac4fc"/>
<rect x="538.30" y="278.60" width="20.13" height="3.56" fill="#ebc8fc"/>
<rect x="538.30" y="282.10" width="20.13" height="3.56" fill="#dda2fa"/>
<rect x="538.30" y="285.60" width="20.13" height="3.56" fill="#e4b4fb"/>
<rect x="538.30" y="289.10" width="20.13" height="1.76" fill="#da99f9"/>
<rect x="538.30" y="290.80" width="20.13" height="1.36" fill="#e3b0fb"/>
<rect x="538.30" y="292.10" width="20.13" height="3.06" fill="#edcefc"/>
<rect x="538.30" y="295.10" width="20.13" height="1.76" fill="#e6bafb"/>
<rect x="538.30" y="296.80" width="20.13" height="2.06" fill="#d281f8"/>
<rect x="538.30" y="298.80" width="20.13" height="3.06" fill="#d385f8"/>
<rect x="538.30" y="301.80" width="20.13" height="3.06" fill="#c55ff6"/>
<rect x="538.30" y="304.80" width="20.13" height="1.36" fill="#d07cf7"/>
<rect x="538.30" y="306.10" width="20.13" height="2.56" fill="#d386f8"/>
<rect x="538.30" y="308.60" width="20.13" height="3.06" fill="#cf7af7"/>
<rect x="538.30" y="311.60" width="20.13" height="1.76" fill="#e3b0fa"/>
<rect x="538.30" y="313.30" width="20.13" height="1.76" fill="#f9fefc"/>
<rect x="538.30" y="315.00" width="20.13" height="3.56" fill="#f0fcf8"/>
<rect x="538.30" y="318.50" width="20.13" height="3.06" fill="#f8fdfc"/>
<rect x="538.30" y="321.50" width="20.13" height="1.36" fill="#fafefd"/>
<rect x="538.30" y="322.80" width="20.13" height="2.56" fill="#8ce6ca"/>
<rect x="538.30" y="325.30" width="20.13" height="3.06" fill="#7ee3c3"/>
<rect x="538.30" y="328.30" width="20.13" height="2.06" fill="#82e4c6"/>
<rect x="538.30" y="330.30" width="20.13" height="2.06" fill="#65ddb8"/>
<rect x="538.30" y="332.30" width="20.13" height="2.06" fill="#47d7aa"/>
<rect x="538.30" y="334.30" width="20.13" height="2.56" fill="#6bdfbb"/>
<rect x="538.30" y="336.80" width="20.13" height="3.06" fill="#7ce2c3"/>
<rect x="538.30" y="339.80" width="20.13" height="3.06" fill="#b6efdd"/>
<rect x="538.30" y="342.80" width="20.13" height="1.36" fill="#9ce9d1"/>
<rect x="538.30" y="344.10" width="20.13" height="1.76" fill="#7ce2c3"/>
<rect x="538.30" y="345.80" width="20.13" height="2.06" fill="#74e1bf"/>
<rect x="538.30" y="347.80" width="20.13" height="3.06" fill="#99e9d0"/>
<rect x="538.30" y="350.80" width="20.13" height="1.36" fill="#b6efdd"/>
<rect x="538.30" y="352.10" width="20.13" height="1.36" fill="#a3ebd5"/>
<rect x="538.30" y="353.40" width="20.13" height="1.36" fill="#98e8cf"/>
<rect x="538.30" y="354.70" width="20.13" height="1.76" fill="#96e8cf"/>
<rect x="538.30" y="356.40" width="20.13" height="1.76" fill="#8fe7cb"/>
<rect x="538.30" y="358.10" width="20.13" height="3.56" fill="#6cdfbb"/>
<rect x="538.30" y="361.60" width="20.13" height="1.36" fill="#5adbb3"/>
<rect x="538.30" y="362.90" width="20.13" height="3.56" fill="#8fe7cb"/>
<rect x="538.30" y="366.40" width="20.13" height="1.36" fill="#7be2c2"/>
<rect x="538.30" y="367.70" width="20.13" height="2.56" fill="#d7f6ec"/>
<rect x="538.30" y="370.20" width="20.13" height="2.56" fill="#a4ebd5"/>
<rect x="538.30" y="372.70" width="20.13" height="2.56" fill="#a9ecd8"/>
<rect x="538.30" y="375.20" width="20.13" height="3.06" fill="#b3eedc"/>
<rect x="538.30" y="378.20" width="20.13" height="2.06" fill="#d6f6ec"/>
<rect x="538.30" y="380.20" width="20.13" height="1.76" fill="#ebfbf6"/>
<rect x="538.30" y="381.90" width="20.13" height="3.56" fill="#e4f9f3"/>
<rect x="538.30" y="385.40" width="20.13" height="1.76" fill="#cff5e9"/>
<rect x="538.30" y="387.10" width="20.13" height="1.76" fill="#c2f2e3"/>
<rect x="538.30" y="388.80" width="20.13" height="2.06" fill="#e0f8f1"/>
<rect x="538.30" y="390.80" width="20.13" height="1.36" fill="#def8f0"/>
<rect x="538.30" y="392.10" width="20.13" height="2.56" fill="#daf7ee"/>
<rect x="538.30" y="394.60" width="20.13" height="2.56" fill="#8de6ca"/>
<rect x="538.30" y="397.10" width="20.13" height="1.76" fill="#cef4e8"/>
<rect x="538.30" y="398.80" width="20.13" height="2.56" fill="#99e9d0"/>
<rect x="538.30" y="401.30" width="20.13" height="1.36" fill="#a0ead3"/>
<rect x="538.30" y="402.60" width="20.13" height="3.56" fill="#85e4c7"/>
<rect x="538.30" y="406.10" width="20.13" height="3.56" fill="#92e7cd"/>
<rect x="538.30" y="409.60" width="20.13" height="2.56" fill="#a0ead3"/>
<rect x="538.30" y="412.10" width="20.13" height="2.06" fill="#94e8ce"/>
<rect x="538.30" y="414.10" width="20.13" height="2.96" fill="#7ae2c2"/>
<rect x="558.38" y="260.40" width="20.13" height="1.36" fill="#e9c1fb"/>
<rect x="558.38" y="261.70" width="20.13" height="3.56" fill="#eccbfc"/>
<rect x="558.38" y="265.20" width="20.13" height="1.76" fill="#edcefc"/>
<rect x="558.38" y="266.90" width="20.13" height="2.56" fill="#e4b4fb"/>
<rect x="558.38" y="269.40" width="20.13" height="1.76" fill="#e6bafb"/>
<rect x="558.38" y="271.10" width="20.13" height="2.06" fill="#e3b2fb"/>
<rect x="558.38" y="273.10" width="20.13" height="3.06" fill="#ebc7fc"/>
<rect x="558.38" y="276.10" width="20.13" height="3.06" fill="#dda1fa"/>
<rect x="558.38" y="279.10" width="20.13" height="2.56" fill="#d791f9"/>
<rect x="558.38" y="281.60" width="20.13" height="2.06" fill="#e7befb"/>
<rect x="558.38" y="283.60" width="20.13" height="1.36" fill="#dc9df9"/>
<rect x="558.38" y="284.90" width="20.13" height="1.76" fill="#db9af9"/>
<rect x="558.38" y="286.60" width="20.13" height="3.56" fill="#d996f9"/>
<rect x="558.38" y="290.10" width="20.13" height="3.56" fill="#dda2fa"/>
<rect x="558.38" y="293.60" width="20.13" height="1.36" fill="#ebc9fc"/>
<rect x="558.38" y="294.90" width="20.13" height="2.56" fill="#e9c2fc"/>
<rect x="558.38" y="297.40" width="20.13" height="1.36" fill="#f2dbfd"/>
<rect x="558.38" y="298.70" width="20.13" height="3.06" fill="#eccbfc"/>
<rect x="558.38" y="301.70" width="20.13" height="3.56" fill="#dfa7fa"/>
<rect x="558.38" y="305.20" width="20.13" height="1.76" fill="#e8c0fb"/>
<rect x="558.38" y="306.90" width="20.13" height="3.06" fill="#eccafc"/>
<rect x="558.38" y="309.90" width="20.13" height="1.36" fill="#e9c1fb"/>
<rect x="558.38" y="311.20" width="20.13" height="1.76" fill="#e0aafa"/>
<rect x="558.38" y="312.90" width="20.13" height="2.56" fill="#87e5c8"/>
<rect x="558.38" y="315.40" width="20.13" height="2.56" fill="#a5ebd6"/>
<rect x="558.38" y="317.90" width="20.13" height="3.06" fill="#85e4c7"/>
<rect x="558.38" y="320.90" width="20.13" height="2.56" fill="#9ce9d2"/>
<rect x="558.38" y="323.40" width="20.13" height="2.06" fill="#9dead2"/>
<rect x="558.38" y="325.40" width="20.13" height="2.06" fill="#80e3c5"/>
<rect x="558.38" y="327.40" width="20.13" height="1.76" fill="#c0f1e2"/>
<rect x="558.38" y="329.10" width="20.13" height="2.56" fill="#baf0df"/>
<rect x="558.38" y="331.60" width="20.13" height="3.56" fill="#96e8cf"/>
<rect x="558.38" y="335.10" width="20.13" height="2.56" fill="#8be6c9"/>
<rect x="558.38" y="337.60" width="20.13" height="3.06" fill="#56dab1"/>
<rect x="558.38" y="340.60" width="20.13" height="2.06" fill="#80e3c5"/>
<rect x="558.38" y="342.60" width="20.13" height="2.06" fill="#72e0be"/>
<rect x="558.38" y="344.60" width="20.13" height="1.76" fill="#7de3c3"/>
<rect x="558.38" y="346.30" width="20.13" height="2.56" fill="#89e5c8"/>
<rect x="558.38" y="348.80" width="20.13" height="1.36" fill="#82e4c5"/>
<rect x="558.38" y="350.10" width="20.13" height="1.36" fill="#b2eedb"/>
<rect x="558.38" y="351.40" width="20.13" height="1.36" fill="#86e5c7"/>
<rect x="558.38" y="352.70" width="20.13" height="1.76" fill="#b8f0de"/>
<rect x="558.38" y="354.40" width="20.13" height="3.06" fill="#84e4c6"/>
<rect x="558.38" y="357.40" width="20.13" height="1.36" fill="#83e4c6"/>
<rect x="558.38" y="358.70" width="20.13" height="2.06" fill="#92e7cd"/>
<rect x="558.38" y="360.70" width="20.13" height="3.06" fill="#a7ecd6"/>
<rect x="558.38" y="363.70" width="20.13" height="1.36" fill="#95e8ce"/>
<rect x="558.38" y="365.00" width="20.13" height="3.06" fill="#a3ebd5"/>
<rect x="558.38" y="368.00" width="20.13" height="3.56" fill="#5bdbb3"/>
<rect x="558.38" y="371.50" width="20.13" height="3.06" fill="#bff1e2"/>
<rect x="558.38" y="374.50" width="20.13" height="3.56" fill="#80e3c5"/>
<rect x="558.38" y="378.00" width="20.13" height="1.36" fill="#7ce2c3"/>
<rect x="558.38" y="379.30" width="20.13" height="3.56" fill="#63ddb7"/>
<rect x="558.38" y="382.80" width="20.13" height="3.06" fill="#65ddb8"/>
<rect x="558.38" y="385.80" width="20.13" height="3.56" fill="#74e1bf"/>
<rect x="558.38" y="389.30" width="20.13" height="2.56" fill="#78e2c1"/>
<rect x="558.38" y="391.80" width="20.13" height="3.56" fill="#58dbb2"/>
<rect x="558.38" y="395.30" width="20.13" height="1.36" fill="#81e3c5"/>
<rect x="558.38" y="396.60" width="20.13" height="1.36" fill="#4ed8ad"/>
<rect x="558.38" y="397.90" width="20.13" height="2.06" fill="#53d9b0"/>
<rect x="558.38" y="399.90" width="20.13" height="1.36" fill="#96e8cf"/>
<rect x="558.38" y="401.20" width="20.13" height="1.76" fill="#97e8cf"/>
<rect x="558.38" y="402.90" width="20.13" height="1.76" fill="#c8f3e6"/>
<rect x="558.38" y="404.60" width="20.13" height="3.06" fill="#5adbb3"/>
<rect x="558.38" y="407.60" width="20.13" height="1.76" fill="#4ad7ac"/>
<rect x="558.38" y="409.30" width="20.13" height="2.56" fill="#5cdbb4"/>
<rect x="558.38" y="411.80" width="20.13" height="3.56" fill="#70e0bd"/>
<rect x="558.38" y="415.30" width="20.13" height="1.76" fill="#95e8ce"/>
<rect x="578.46" y="260.40" width="20.13" height="3.06" fill="#e6b9fb"/>
<rect x="578.46" y="263.40" width="20.13" height="3.56" fill="#eccafc"/>
<rect x="578.46" y="266.90" width="20.13" height="3.56" fill="#e6bbfb"/>
<rect x="578.46" y="270.40" width="20.13" height="2.06" fill="#e6bafb"/>
<rect x="578.46" y="272.40" width="20.13" height="1.36" fill="#efd2fc"/>
<rect x="578.46" y="273.70" width="20.13" height="1.76" fill="#eac4fc"/>
<rect x="578.46" y="275.40" width="20.13" height="3.56" fill="#f4e0fd"/>
<rect x="578.46" y="278.90" width="20.13" height="2.56" fill="#f1d8fd"/>
<rect x="578.46" y="281.40" width="20.13" height="2.56" fill="#eccafc"/>
<rect x="578.46" y="283.90" width="20.13" height="2.56" fill="#efd2fc"/>
<rect x="578.46" y="286.40" width="20.13" height="2.56" fill="#edcdfc"/>
<rect x="578.46" y="288.90" width="20.13" height="2.56" fill="#e2aefa"/>
<rect x="578.46" y="291.40" width="20.13" height="2.06" fill="#dda1fa"/>
<rect x="578.46" y="293.40" width="20.13" height="3.56" fill="#e7befb"/>
<rect x="578.46" y="296.90" width="20.13" height="2.06" fill="#efd3fc"/>
<rect x="578.46" y="298.90" width="20.13" height="2.06" fill="#ebc7fc"/>
<rect x="578.46" y="300.90" width="20.13" height="3.06" fill="#edcdfc"/>
<rect x="578.46" y="303.90" width="20.13" height="3.06" fill="#eccafc"/>
<rect x="578.46" y="306.90" width="20.13" height="3.56" fill="#f3ddfd"/>
<rect x="578.46" y="310.40" width="20.13" height="2.56" fill="#e9c2fb"/>
<rect x="578.46" y="312.90" width="20.13" height="1.76" fill="#59dbb3"/>
<rect x="578.46" y="314.60" width="20.13" height="1.36" fill="#54dab0"/>
<rect x="578.46" y="315.90" width="20.13" height="2.56" fill="#69deba"/>
<rect x="578.46" y="318.40" width="20.13" height="2.56" fill="#55dab1"/>
<rect x="578.46" y="320.90" width="20.13" height="2.06" fill="#65ddb8"/>
<rect x="578.46" y="322.90" width="20.13" height="2.56" fill="#c2f2e3"/>
<rect x="578.46" y="325.40" width="20.13" height="2.06" fill="#e7faf4"/>
<rect x="578.46" y="327.40" width="20.13" height="3.56" fill="#baf0df"/>
<rect x="578.46" y="330.90" width="20.13" height="3.56" fill="#dbf7ef"/>
<rect x="578.46" y="334.40" width="20.13" height="1.76" fill="#a4ebd5"/>
<rect x="578.46" y="336.10" width="20.13" height="3.06" fill="#e8faf5"/>
<rect x="578.46" y="339.10" width="20.13" height="3.06" fill="#bcf0e0"/>
<rect x="578.46" y="342.10" width="20.13" height="2.56" fill="#b4efdc"/>
<rect x="578.46" y="344.60" width="20.13" height="1.36" fill="#9dead2"/>
<rect x="578.46" y="345.90" width="20.13" height="2.56" fill="#93e7cd"/>
<rect x="578.46" y="348.40" width="20.13" height="3.56" fill="#a3ebd4"/>
<rect x="578.46" y="351.90" width="20.13" height="2.06" fill="#a4ebd5"/>
<rect x="578.46" y="353.90" width="20.13" height="3.06" fill="#a3ebd5"/>
<rect x="578.46" y="356.90" width="20.13" height="3.06" fill="#a9ecd8"/>
<rect x="578.46" y="359.90" width="20.13" height="2.06" fill="#d2f5ea"/>
<rect x="578.46" y="361.90" width="20.13" height="2.06" fill="#aeedda"/>
<rect x="578.46" y="363.90" width="20.13" height="2.56" fill="#c4f2e4"/>
<rect x="578.46" y="366.40" width="20.13" height="3.06" fill="#ccf4e8"/>
<rect x="578.46" y="369.40" width="20.13" height="2.06" fill="#a5ebd5"/>
<rect x="578.46" y="371.40" width="20.13" height="3.56" fill="#dbf7ee"/>
<rect x="578.46" y="374.90" width="20.13" height="3.06" fill="#b6efdd"/>
<rect x="578.46" y="377.90" width="20.13" height="3.06" fill="#c5f2e5"/>
<rect x="578.46" y="380.90" width="20.13" height="1.76" fill="#c7f3e5"/>
<rect x="578.46" y="382.60" width="20.13" height="3.56" fill="#caf3e7"/>
<rect x="578.46" y="386.10" width="20.13" height="2.06" fill="#98e8cf"/>
<rect x="578.46" y="388.10" width="20.13" height="2.06" fill="#cbf4e7"/>
<rect x="578.46" y="390.10" width="20.13" height="1.36" fill="#c6f2e5"/>
<rect x="578.46" y="391.40" width="20.13" height="1.36" fill="#aeedda"/>
<rect x="578.46" y="392.70" width="20.13" height="2.56" fill="#a7ecd6"/>
<rect x="578.46" y="395.20" width="20.13" height="3.56" fill="#d6f6ec"/>
<rect x="578.46" y="398.70" width="20.13" height="3.06" fill="#cbf4e7"/>
<rect x="578.46" y="401.70" width="20.13" height="3.06" fill="#b1eedb"/>
<rect x="578.46" y="404.70" width="20.13" height="1.36" fill="#d4f6eb"/>
<rect x="578.46" y="406.00" width="20.13" height="1.76" fill="#dff8f0"/>
<rect x="578.46" y="407.70" width="20.13" height="3.56" fill="#bbf0e0"/>
<rect x="578.46" y="411.20" width="20.13" height="1.36" fill="#e4f9f2"/>
<rect x="578.46" y="412.50" width="20.13" height="1.76" fill="#e2f9f2"/>
<rect x="578.46" y="414.20" width="20.13" height="2.56" fill="#f8fdfc"/>
<rect x="578.46" y="416.70" width="20.13" height="0.36" fill="#eefbf7"/>
<rect x="598.54" y="260.40" width="20.13" height="2.06" fill="#91e7cc"/>
<rect x="598.54" y="262.40" width="20.13" height="2.56" fill="#91e7cc"/>
<rect x="598.54" y="264.90" width="20.13" height="1.36" fill="#7be2c2"/>
<rect x="598.54" y="266.20" width="20.13" height="1.36" fill="#87e5c8"/>
<rect x="598.54" y="267.50" width="20.13" height="3.56" fill="#9be9d1"/>
<rect x="598.54" y="271.00" width="20.13" height="1.36" fill="#92e7cd"/>
<rect x="598.54" y="272.30" width="20.13" height="2.06" fill="#50d9ae"/>
<rect x="598.54" y="274.30" width="20.13" height="3.06" fill="#4ad8ac"/>
<rect x="598.54" y="277.30" width="20.13" height="2.56" fill="#96e8cf"/>
<rect x="598.54" y="279.80" width="20.13" height="2.56" fill="#82e4c5"/>
<rect x="598.54" y="282.30" width="20.13" height="2.06" fill="#7ae2c2"/>
<rect x="598.54" y="284.30" width="20.13" height="1.36" fill="#9dead2"/>
<rect x="598.54" y="285.60" width="20.13" height="1.76" fill="#89e5c9"/>
<rect x="598.54" y="287.30" width="20.13" height="1.36" fill="#a1ead4"/>
<rect x="598.54" y="288.60" width="20.13" height="1.76" fill="#93e7cd"/>
<rect x="598.54" y="290.30" width="20.13" height="3.56" fill="#9dead2"/>
<rect x="598.54" y="293.80" width="20.13" height="1.36" fill="#92e7cd"/>
<rect x="598.54" y="295.10" width="20.13" height="3.06" fill="#94e8ce"/>
<rect x="598.54" y="298.10" width="20.13" height="1.76" fill="#a9ecd7"/>
<rect x="598.54" y="299.80" width="20.13" height="3.06" fill="#8ce6ca"/>
<rect x="598.54" y="302.80" width="20.13" height="3.56" fill="#7de3c3"/>
<rect x="598.54" y="306.30" width="20.13" height="1.76" fill="#89e5c9"/>
<rect x="598.54" y="308.00" width="20.13" height="1.36" fill="#cef4e8"/>
<rect x="598.54" y="309.30" width="20.13" height="3.06" fill="#e3f9f2"/>
<rect x="598.54" y="312.30" width="20.13" height="3.56" fill="#d384f8"/>
<rect x="598.54" y="315.80" width="20.13" height="1.76" fill="#db9cf9"/>
<rect x="598.54" y="317.50" width="20.13" height="1.36" fill="#d894f9"/>
<rect x="598.54" y="318.80" width="20.13" height="1.76" fill="#d58bf8"/>
<rect x="598.54" y="320.50" width="20.13" height="3.56" fill="#dfa7fa"/>
<rect x="598.54" y="324.00" width="20.13" height="1.36" fill="#cf79f7"/>
<rect x="598.54" y="325.30" width="20.13" height="3.56" fill="#cf79f7"/>
<rect x="598.54" y="328.80" width="20.13" height="2.56" fill="#cb6ff7"/>
<rect x="598.54" y="331.30" width="20.13" height="2.56" fill="#ce76f7"/>
<rect x="598.54" y="333.80" width="20.13" height="1.76" fill="#ca6cf7"/>
<rect x="598.54" y="335.50" width="20.13" height="2.06" fill="#ca6cf7"/>
<rect x="598.54" y="337.50" width="20.13" height="1.36" fill="#ce76f7"/>
<rect x="598.54" y="338.80" width="20.13" height="1.76" fill="#cf79f7"/>
<rect x="598.54" y="340.50" width="20.13" height="3.06" fill="#d17ff8"/>
<rect x="598.54" y="343.50" width="20.13" height="2.06" fill="#d384f8"/>
<rect x="598.54" y="345.50" width="20.13" height="2.56" fill="#d386f8"/>
<rect x="598.54" y="348.00" width="20.13" height="1.36" fill="#cb6ef7"/>
<rect x="598.54" y="349.30" width="20.13" height="2.06" fill="#c867f6"/>
<rect x="598.54" y="351.30" width="20.13" height="3.56" fill="#cd75f7"/>
<rect x="598.54" y="354.80" width="20.13" height="3.56" fill="#c96af6"/>
<rect x="598.54" y="358.30" width="20.13" height="2.06" fill="#d17ef8"/>
<rect x="598.54" y="360.30" width="20.13" height="2.56" fill="#c968f6"/>
<rect x="598.54" y="362.80" width="20.13" height="1.36" fill="#d385f8"/>
<rect x="598.54" y="364.10" width="20.13" height="2.56" fill="#cc70f7"/>
<rect x="598.54" y="366.60" width="20.13" height="3.56" fill="#cf7af7"/>
<rect x="598.54" y="370.10" width="20.13" height="3.56" fill="#d17ff8"/>
<rect x="598.54" y="373.60" width="20.13" height="1.36" fill="#c865f6"/>
<rect x="598.54" y="374.90" width="20.13" height="2.06" fill="#ce76f7"/>
<rect x="598.54" y="376.90" width="20.13" height="3.56" fill="#ca6df7"/>
<rect x="598.54" y="380.40" width="20.13" height="3.56" fill="#c969f6"/>
<rect x="598.54" y="383.90" width="20.13" height="3.56" fill="#d58bf8"/>
<rect x="598.54" y="387.40" width="20.13" height="2.56" fill="#d58bf8"/>
<rect x="598.54" y="389.90" width="20.13" height="3.56" fill="#c96af7"/>
<rect x="598.54" y="393.40" width="20.13" height="2.56" fill="#d07ef8"/>
<rect x="598.54" y="395.90" width="20.13" height="2.06" fill="#d78ff9"/>
<rect x="598.54" y="397.90" width="20.13" height="3.06" fill="#d78ff9"/>
<rect x="598.54" y="400.90" width="20.13" height="3.06" fill="#dda1fa"/>
<rect x="598.54" y="403.90" width="20.13" height="3.06" fill="#dea3fa"/>
<rect x="598.54" y="406.90" width="20.13" height="3.56" fill="#d58bf8"/>
<rect x="598.54" y="410.40" width="20.13" height="3.56" fill="#db9af9"/>
<rect x="598.54" y="413.90" width="20.13" height="1.76" fill="#dda0fa"/>
<rect x="598.54" y="415.60" width="20.13" height="1.46" fill="#dc9df9"/>
<rect x="618.62" y="260.40" width="20.13" height="3.56" fill="#d1f5ea"/>
<rect x="618.62" y="263.90" width="20.13" height="2.06" fill="#d1f5ea"/>
<rect x="618.62" y="265.90" width="20.13" height="2.06" fill="#b3eedc"/>
<rect x="618.62" y="267.90" width="20.13" height="2.56" fill="#c7f3e5"/>
<rect x="618.62" y="270.40" width="20.13" height="2.06" fill="#fcfefd"/>
<rect x="618.62" y="272.40" width="20.13" height="2.56" fill="#fbfefd"/>
<rect x="618.62" y="274.90" width="20.13" height="3.56" fill="#c0f1e2"/>
<rect x="618.62" y="278.40" width="20.13" height="1.76" fill="#baf0df"/>
<rect x="618.62" y="280.10" width="20.13" height="1.36" fill="#75e1c0"/>
<rect x="618.62" y="281.40" width="20.13" height="2.06" fill="#64ddb8"/>
<rect x="618.62" y="283.40" width="20.13" height="2.56" fill="#77e1c0"/>
<rect x="618.62" y="285.90" width="20.13" height="3.06" fill="#50d9af"/>
<rect x="618.62" y="288.90" width="20.13" height="1.36" fill="#68deba"/>
<rect x="618.62" y="290.20" width="20.13" height="2.06" fill="#51d9af"/>
<rect x="618.62" y="292.20" width="20.13" height="2.06" fill="#9ce9d1"/>
<rect x="618.62" y="294.20" width="20.13" height="1.76" fill="#8de6ca"/>
<rect x="618.62" y="295.90" width="20.13" height="3.56" fill="#9be9d1"/>
<rect x="618.62" y="299.40" width="20.13" height="1.76" fill="#a5ebd5"/>
<rect x="618.62" y="301.10" width="20.13" height="2.56" fill="#8de6ca"/>
<rect x="618.62" y="303.60" width="20.13" height="3.56" fill="#59dbb3"/>
<rect x="618.62" y="307.10" width="20.13" height="2.56" fill="#67deb9"/>
<rect x="618.62" y="309.60" width="20.13" height="3.06" fill="#81e3c5"/>
<rect x="618.62" y="312.60" width="20.13" height="2.56" fill="#edcdfc"/>
<rect x="618.62" y="315.10" width="20.13" height="2.56" fill="#f0d4fd"/>
<rect x="618.62" y="317.60" width="20.13" height="2.06" fill="#f6e5fd"/>
<rect x="618.62" y="319.60" width="20.13" height="1.36" fill="#f3ddfd"/>
<rect x="618.62" y="320.90" width="20.13" height="1.36" fill="#eccafc"/>
<rect x="618.62" y="322.20" width="20.13" height="2.56" fill="#eccafc"/>
<rect x="618.62" y="324.70" width="20.13" height="2.06" fill="#ebc7fc"/>
<rect x="618.62" y="326.70" width="20.13" height="1.36" fill="#f2dbfd"/>
<rect x="618.62" y="328.00" width="20.13" height="3.56" fill="#f1d8fd"/>
<rect x="618.62" y="331.50" width="20.13" height="3.56" fill="#ebc7fc"/>
<rect x="618.62" y="335.00" width="20.13" height="2.56" fill="#dda0fa"/>
<rect x="618.62" y="337.50" width="20.13" height="1.76" fill="#f8ecfe"/>
<rect x="618.62" y="339.20" width="20.13" height="3.06" fill="#edcefc"/>
<rect x="618.62" y="342.20" width="20.13" height="3.56" fill="#faf0fe"/>
<rect x="618.62" y="345.70" width="20.13" height="3.06" fill="#efd4fd"/>
<rect x="618.62" y="348.70" width="20.13" height="3.56" fill="#e8bffb"/>
<rect x="618.62" y="352.20" width="20.13" height="1.76" fill="#efd4fd"/>
<rect x="618.62" y="353.90" width="20.13" height="2.56" fill="#f8edfe"/>
<rect x="618.62" y="356.40" width="20.13" height="3.06" fill="#f4e2fd"/>
<rect x="618.62" y="359.40" width="20.13" height="1.76" fill="#e9c3fc"/>
<rect x="618.62" y="361.10" width="20.13" height="2.56" fill="#e9c2fc"/>
<rect x="618.62" y="363.60" width="20.13" height="3.56" fill="#eecffc"/>
<rect x="618.62" y="367.10" width="20.13" height="2.56" fill="#edcdfc"/>
<rect x="618.62" y="369.60" width="20.13" height="1.76" fill="#fefdff"/>
<rect x="618.62" y="371.30" width="20.13" height="3.56" fill="#fbf4fe"/>
<rect x="618.62" y="374.80" width="20.13" height="2.06" fill="#fefffe"/>
<rect x="618.62" y="376.80" width="20.13" height="3.06" fill="#f9eefe"/>
<rect x="618.62" y="379.80" width="20.13" height="2.56" fill="#f7e9fe"/>
<rect x="618.62" y="382.30" width="20.13" height="3.06" fill="#eecffc"/>
<rect x="618.62" y="385.30" width="20.13" height="2.06" fill="#eed1fc"/>
<rect x="618.62" y="387.30" width="20.13" height="2.06" fill="#f4e1fd"/>
<rect x="618.62" y="389.30" width="20.13" height="3.06" fill="#eecffc"/>
<rect x="618.62" y="392.30" width="20.13" height="2.56" fill="#f1d9fd"/>
<rect x="618.62" y="394.80" width="20.13" height="3.56" fill="#dea4fa"/>
<rect x="618.62" y="398.30" width="20.13" height="1.76" fill="#d58af8"/>
<rect x="618.62" y="400.00" width="20.13" height="2.56" fill="#e4b4fb"/>
<rect x="618.62" y="402.50" width="20.13" height="1.36" fill="#d790f9"/>
<rect x="618.62" y="403.80" width="20.13" height="1.76" fill="#e2adfa"/>
<rect x="618.62" y="405.50" width="20.13" height="2.06" fill="#eac5fc"/>
<rect x="618.62" y="407.50" width="20.13" height="1.76" fill="#efd4fd"/>
<rect x="618.62" y="409.20" width="20.13" height="1.36" fill="#efd3fc"/>
<rect x="618.62" y="410.50" width="20.13" height="1.76" fill="#f0d4fd"/>
<rect x="618.62" y="412.20" width="20.13" height="2.56" fill="#e9c3fc"/>
<rect x="618.62" y="414.70" width="20.13" height="1.76" fill="#eac6fc"/>
<rect x="618.62" y="416.40" width="20.13" height="0.66" fill="#ebc7fc"/>
<rect x="638.70" y="260.40" width="20.13" height="3.06" fill="#5fdcb5"/>
<rect x="638.70" y="263.40" width="20.13" height="1.76" fill="#64ddb8"/>
<rect x="638.70" y="265.10" width="20.13" height="1.76" fill="#63ddb7"/>
<rect x="638.70" y="266.80" width="20.13" height="2.06" fill="#74e1bf"/>
<rect x="638.70" y="268.80" width="20.13" height="3.06" fill="#66deb9"/>
<rect x="638.70" y="271.80" width="20.13" height="2.56" fill="#5bdbb4"/>
<rect x="638.70" y="274.30" width="20.13" height="3.56" fill="#b1eedb"/>
<rect x="638.70" y="277.80" width="20.13" height="1.36" fill="#d2f5ea"/>
<rect x="638.70" y="279.10" width="20.13" height="1.36" fill="#bff1e2"/>
<rect x="638.70" y="280.40" width="20.13" height="1.76" fill="#cef4e9"/>
<rect x="638.70" y="282.10" width="20.13" height="1.36" fill="#c8f3e6"/>
<rect x="638.70" y="283.40" width="20.13" height="1.36" fill="#f4fdfa"/>
<rect x="638.70" y="284.70" width="20.13" height="1.36" fill="#c8f3e5"/>
<rect x="638.70" y="286.00" width="20.13" height="3.56" fill="#d5f6ec"/>
<rect x="638.70" y="289.50" width="20.13" height="2.56" fill="#77e1c0"/>
<rect x="638.70" y="292.00" width="20.13" height="2.56" fill="#67deb9"/>
<rect x="638.70" y="294.50" width="20.13" height="1.36" fill="#87e5c8"/>
<rect x="638.70" y="295.80" width="20.13" height="1.36" fill="#7ee3c4"/>
<rect x="638.70" y="297.10" width="20.13" height="2.06" fill="#85e4c7"/>
<rect x="638.70" y="299.10" width="20.13" height="3.06" fill="#92e7cd"/>
<rect x="638.70" y="302.10" width="20.13" height="1.36" fill="#76e1c0"/>
<rect x="638.70" y="303.40" width="20.13" height="3.06" fill="#7ce2c3"/>
<rect x="638.70" y="306.40" width="20.13" height="3.06" fill="#92e7cd"/>
<rect x="638.70" y="309.40" width="20.13" height="3.56" fill="#a7ecd6"/>
<rect x="638.70" y="312.90" width="20.13" height="3.06" fill="#eed1fc"/>
<rect x="638.70" y="315.90" width="20.13" height="3.06" fill="#e9c3fc"/>
<rect x="638.70" y="318.90" width="20.13" height="3.06" fill="#faf2fe"/>
<rect x="638.70" y="321.90" width="20.13" height="1.76" fill="#f3ddfd"/>
<rect x="638.70" y="323.60" width="20.13" height="2.06" fill="#f0d6fd"/>
<rect x="638.70" y="325.60" width="20.13" height="3.56" fill="#edccfc"/>
<rect x="638.70" y="329.10" width="20.13" height="3.56" fill="#f7e9fe"/>
<rect x="638.70" y="332.60" width="20.13" height="3.06" fill="#f0d6fd"/>
<rect x="638.70" y="335.60" width="20.13" height="1.76" fill="#f5e3fd"/>
<rect x="638.70" y="337.30" width="20.13" height="2.56" fill="#f0d4fd"/>
<rect x="638.70" y="339.80" width="20.13" height="1.36" fill="#f1d8fd"/>
<rect x="638.70" y="341.10" width="20.13" height="1.36" fill="#f6e7fe"/>
<rect x="638.70" y="342.40" width="20.13" height="3.06" fill="#fbf5fe"/>
<rect x="638.70" y="345.40" width="20.13" height="2.56" fill="#fbf5fe"/>
<rect x="638.70" y="347.90" width="20.13" height="1.76" fill="#fcfefe"/>
<rect x="638.70" y="349.60" width="20.13" height="3.06" fill="#f5e4fd"/>
<rect x="638.70" y="352.60" width="20.13" height="1.76" fill="#f6e7fe"/>
<rect x="638.70" y="354.30" width="20.13" height="1.76" fill="#faf2fe"/>
<rect x="638.70" y="356.00" width="20.13" height="1.36" fill="#f8ebfe"/>
<rect x="638.70" y="357.30" width="20.13" height="2.56" fill="#faf0fe"/>
<rect x="638.70" y="359.80" width="20.13" height="2.06" fill="#f3defd"/>
<rect x="638.70" y="361.80" width="20.13" height="1.36" fill="#f4e1fd"/>
<rect x="638.70" y="363.10" width="20.13" height="1.76" fill="#f1d8fd"/>
<rect x="638.70" y="364.80" width="20.13" height="1.36" fill="#faf0fe"/>
<rect x="638.70" y="366.10" width="20.13" height="3.06" fill="#e7bcfb"/>
<rect x="638.70" y="369.10" width="20.13" height="3.56" fill="#f9edfe"/>
<rect x="638.70" y="372.60" width="20.13" height="3.06" fill="#edcdfc"/>
<rect x="638.70" y="375.60" width="20.13" height="2.06" fill="#efd3fc"/>
<rect x="638.70" y="377.60" width="20.13" height="1.76" fill="#f4dffd"/>
<rect x="638.70" y="379.30" width="20.13" height="1.76" fill="#f2dafd"/>
<rect x="638.70" y="381.00" width="20.13" height="2.06" fill="#f5e5fd"/>
<rect x="638.70" y="383.00" width="20.13" height="3.56" fill="#f5e3fd"/>
<rect x="638.70" y="386.50" width="20.13" height="2.56" fill="#ffffff"/>
<rect x="638.70" y="389.00" width="20.13" height="1.76" fill="#f1d9fd"/>
<rect x="638.70" y="390.70" width="20.13" height="1.36" fill="#f8ebfe"/>
<rect x="638.70" y="392.00" width="20.13" height="1.76" fill="#eed0fc"/>
<rect x="638.70" y="393.70" width="20.13" height="3.06" fill="#f4e0fd"/>
<rect x="638.70" y="396.70" width="20.13" height="1.76" fill="#eecffc"/>
<rect x="638.70" y="398.40" width="20.13" height="1.36" fill="#f2dbfd"/>
<rect x="638.70" y="399.70" width="20.13" height="3.06" fill="#ebc9fc"/>
<rect x="638.70" y="402.70" width="20.13" height="2.56" fill="#f6e5fe"/>
<rect x="638.70" y="405.20" width="20.13" height="1.76" fill="#efd2fc"/>
<rect x="638.70" y="406.90" width="20.13" height="3.06" fill="#e6bbfb"/>
<rect x="638.70" y="409.90" width="20.13" height="2.56" fill="#f0d5fd"/>
<rect x="638.70" y="412.40" width="20.13" height="1.36" fill="#f6e6fe"/>
<rect x="638.70" y="413.70" width="20.13" height="2.56" fill="#f6e5fe"/>
<rect x="638.70" y="416.20" width="20.13" height="0.86" fill="#e9c1fb"/>
<line x1="568.42" y1="260.40" x2="568.42" y2="255.00" stroke="#666" stroke-width="0.70"/>
<line x1="588.50" y1="260.40" x2="588.50" y2="255.00" stroke="#666" stroke-width="0.70"/>
<line x1="568.42" y1="255.00" x2="588.50" y2="255.00" stroke="#666" stroke-width="0.70"/>
<line x1="548.34" y1="260.40" x2="548.34" y2="253.80" stroke="#666" stroke-width="0.70"/>
<line x1="578.46" y1="255.00" x2="578.46" y2="253.80" stroke="#666" stroke-width="0.70"/>
<line x1="548.34" y1="253.80" x2="578.46" y2="253.80" stroke="#666" stroke-width="0.70"/>
<line x1="628.66" y1="260.40" x2="628.66" y2="254.60" stroke="#666" stroke-width="0.70"/>
<line x1="648.74" y1="260.40" x2="648.74" y2="254.60" stroke="#666" stroke-width="0.70"/>
<line x1="628.66" y1="254.60" x2="648.74" y2="254.60" stroke="#666" stroke-width="0.70"/>
<line x1="608.58" y1="260.40" x2="608.58" y2="251.70" stroke="#666" stroke-width="0.70"/>
<line x1="638.70" y1="254.60" x2="638.70" y2="251.70" stroke="#666" stroke-width="0.70"/>
<line x1="608.58" y1="251.70" x2="638.70" y2="251.70" stroke="#666" stroke-width="0.70"/>
<line x1="563.40" y1="253.80" x2="563.40" y2="239.50" stroke="#666" stroke-width="0.70"/>
<line x1="623.64" y1="251.70" x2="623.64" y2="239.50" stroke="#666" stroke-width="0.70"/>
<line x1="563.40" y1="239.50" x2="623.64" y2="239.50" stroke="#666" stroke-width="0.70"/>
<rect x="535.70" y="260.10" width="2.60" height="156.90" fill="#050505"/>
<line x1="522.20" y1="279.60" x2="522.20" y2="344.30" stroke="#777" stroke-width="0.70"/>
<line x1="522.20" y1="279.60" x2="529.10" y2="279.60" stroke="#777" stroke-width="0.70"/>
<line x1="522.20" y1="344.30" x2="529.10" y2="344.30" stroke="#777" stroke-width="0.70"/>
<line x1="533.71" y1="261.75" x2="533.71" y2="262.65" stroke="#141414" stroke-width="0.70"/>
<line x1="533.71" y1="261.75" x2="535.70" y2="261.75" stroke="#141414" stroke-width="0.70"/>
<line x1="533.71" y1="262.65" x2="535.70" y2="262.65" stroke="#141414" stroke-width="0.70"/>
<line x1="532.83" y1="260.85" x2="532.83" y2="262.20" stroke="#141414" stroke-width="0.70"/>
<line x1="532.83" y1="260.85" x2="535.70" y2="260.85" stroke="#141414" stroke-width="0.70"/>
<line x1="532.83" y1="262.20" x2="533.71" y2="262.20" stroke="#141414" stroke-width="0.70"/>
<line x1="534.54" y1="264.45" x2="534.54" y2="265.46" stroke="#141414" stroke-width="0.70"/>
<line x1="534.54" y1="264.45" x2="535.70" y2="264.45" stroke="#141414" stroke-width="0.70"/>
<line x1="534.54" y1="265.46" x2="535.70" y2="265.46" stroke="#141414" stroke-width="0.70"/>
<line x1="534.08" y1="263.55" x2="534.08" y2="265.01" stroke="#141414" stroke-width="0.70"/>
<line x1="534.08" y1="263.55" x2="535.70" y2="263.55" stroke="#141414" stroke-width="0.70"/>
<line x1="534.08" y1="265.01" x2="534.54" y2="265.01" stroke="#141414" stroke-width="0.70"/>
<line x1="532.23" y1="261.75" x2="532.23" y2="264.56" stroke="#141414" stroke-width="0.70"/>
<line x1="532.23" y1="261.75" x2="532.83" y2="261.75" stroke="#141414" stroke-width="0.70"/>
<line x1="532.23" y1="264.56" x2="534.08" y2="264.56" stroke="#141414" stroke-width="0.70"/>
<line x1="529.70" y1="263.21" x2="532.23" y2="263.21" stroke="#2a2a2a" stroke-width="0.55"/>
<line x1="534.41" y1="268.27" x2="534.41" y2="269.17" stroke="#141414" stroke-width="0.70"/>
<line x1="534.41" y1="268.27" x2="535.70" y2="268.27" stroke="#141414" stroke-width="0.70"/>
<line x1="534.41" y1="269.17" x2="535.70" y2="269.17" stroke="#141414" stroke-width="0.70"/>
<line x1="534.21" y1="267.37" x2="534.21" y2="268.72" stroke="#141414" stroke-width="0.70"/>
<line x1="534.21" y1="267.37" x2="535.70" y2="267.37" stroke="#141414" stroke-width="0.70"/>
<line x1="534.21" y1="268.72" x2="534.41" y2="268.72" stroke="#141414" stroke-width="0.70"/>
<line x1="532.98" y1="266.47" x2="532.98" y2="268.27" stroke="#141414" stroke-width="0.70"/>
<line x1="532.98" y1="266.47" x2="535.70" y2="266.47" stroke="#141414" stroke-width="0.70"/>
<line x1="532.98" y1="268.27" x2="534.21" y2="268.27" stroke="#141414" stroke-width="0.70"/>
<line x1="533.82" y1="270.97" x2="533.82" y2="271.87" stroke="#141414" stroke-width="0.70"/>
<line x1="533.82" y1="270.97" x2="535.70" y2="270.97" stroke="#141414" stroke-width="0.70"/>
<line x1="533.82" y1="271.87" x2="535.70" y2="271.87" stroke="#141414" stroke-width="0.70"/>
<line x1="533.62" y1="270.07" x2="533.62" y2="271.42" stroke="#141414" stroke-width="0.70"/>
<line x1="533.62" y1="270.07" x2="535.70" y2="270.07" stroke="#141414" stroke-width="0.70"/>
<line x1="533.62" y1="271.42" x2="533.82" y2="271.42" stroke="#141414" stroke-width="0.70"/>
<line x1="534.21" y1="272.77" x2="534.21" y2="273.67" stroke="#141414" stroke-width="0.70"/>
<line x1="534.21" y1="272.77" x2="535.70" y2="272.77" stroke="#141414" stroke-width="0.70"/>
<line x1="534.21" y1="273.67" x2="535.70" y2="273.67" stroke="#141414" stroke-width="0.70"/>
<line x1="533.93" y1="273.22" x2="533.93" y2="274.57" stroke="#141414" stroke-width="0.70"/>
<line x1="533.93" y1="273.22" x2="534.21" y2="273.22" stroke="#141414" stroke-width="0.70"/>
<line x1="533.93" y1="274.57" x2="535.70" y2="274.57" stroke="#141414" stroke-width="0.70"/>
<line x1="532.63" y1="270.97" x2="532.63" y2="273.67" stroke="#141414" stroke-width="0.70"/>
<line x1="532.63" y1="270.97" x2="533.62" y2="270.97" stroke="#141414" stroke-width="0.70"/>
<line x1="532.63" y1="273.67" x2="533.93" y2="273.67" stroke="#141414" stroke-width="0.70"/>
<line x1="531.26" y1="267.82" x2="531.26" y2="272.32" stroke="#141414" stroke-width="0.70"/>
<line x1="531.26" y1="267.82" x2="532.98" y2="267.82" stroke="#141414" stroke-width="0.70"/>
<line x1="531.26" y1="272.32" x2="532.63" y2="272.32" stroke="#141414" stroke-width="0.70"/>
<line x1="534.37" y1="276.37" x2="534.37" y2="277.27" stroke="#141414" stroke-width="0.70"/>
<line x1="534.37" y1="276.37" x2="535.70" y2="276.37" stroke="#141414" stroke-width="0.70"/>
<line x1="534.37" y1="277.27" x2="535.70" y2="277.27" stroke="#141414" stroke-width="0.70"/>
<line x1="532.83" y1="275.47" x2="532.83" y2="276.82" stroke="#141414" stroke-width="0.70"/>
<line x1="532.83" y1="275.47" x2="535.70" y2="275.47" stroke="#141414" stroke-width="0.70"/>
<line x1="532.83" y1="276.82" x2="534.37" y2="276.82" stroke="#141414" stroke-width="0.70"/>
<line x1="534.94" y1="278.17" x2="534.94" y2="279.07" stroke="#141414" stroke-width="0.70"/>
<line x1="534.94" y1="278.17" x2="535.70" y2="278.17" stroke="#141414" stroke-width="0.70"/>
<line x1="534.94" y1="279.07" x2="535.70" y2="279.07" stroke="#141414" stroke-width="0.70"/>
<line x1="533.69" y1="279.97" x2="533.69" y2="280.87" stroke="#141414" stroke-width="0.70"/>
<line x1="533.69" y1="279.97" x2="535.70" y2="279.97" stroke="#141414" stroke-width="0.70"/>
<line x1="533.69" y1="280.87" x2="535.70" y2="280.87" stroke="#141414" stroke-width="0.70"/>
<line x1="533.39" y1="280.42" x2="533.39" y2="281.88" stroke="#141414" stroke-width="0.70"/>
<line x1="533.39" y1="280.42" x2="533.69" y2="280.42" stroke="#141414" stroke-width="0.70"/>
<line x1="533.39" y1="281.88" x2="535.70" y2="281.88" stroke="#141414" stroke-width="0.70"/>
<line x1="533.19" y1="278.62" x2="533.19" y2="280.98" stroke="#141414" stroke-width="0.70"/>
<line x1="533.19" y1="278.62" x2="534.94" y2="278.62" stroke="#141414" stroke-width="0.70"/>
<line x1="533.19" y1="280.98" x2="533.39" y2="280.98" stroke="#141414" stroke-width="0.70"/>
<line x1="531.51" y1="276.37" x2="531.51" y2="280.08" stroke="#141414" stroke-width="0.70"/>
<line x1="531.51" y1="276.37" x2="532.83" y2="276.37" stroke="#141414" stroke-width="0.70"/>
<line x1="531.51" y1="280.08" x2="533.19" y2="280.08" stroke="#141414" stroke-width="0.70"/>
<line x1="530.93" y1="270.52" x2="530.93" y2="278.73" stroke="#141414" stroke-width="0.70"/>
<line x1="530.93" y1="270.52" x2="531.26" y2="270.52" stroke="#141414" stroke-width="0.70"/>
<line x1="530.93" y1="278.73" x2="531.51" y2="278.73" stroke="#141414" stroke-width="0.70"/>
<line x1="529.70" y1="274.23" x2="530.93" y2="274.23" stroke="#2a2a2a" stroke-width="0.55"/>
<line x1="533.74" y1="282.90" x2="533.74" y2="283.80" stroke="#141414" stroke-width="0.70"/>
<line x1="533.74" y1="282.90" x2="535.70" y2="282.90" stroke="#141414" stroke-width="0.70"/>
<line x1="533.74" y1="283.80" x2="535.70" y2="283.80" stroke="#141414" stroke-width="0.70"/>
<line x1="534.91" y1="284.70" x2="534.91" y2="285.60" stroke="#141414" stroke-width="0.70"/>
<line x1="534.91" y1="284.70" x2="535.70" y2="284.70" stroke="#141414" stroke-width="0.70"/>
<line x1="534.91" y1="285.60" x2="535.70" y2="285.60" stroke="#141414" stroke-width="0.70"/>
<line x1="533.59" y1="285.15" x2="533.59" y2="286.50" stroke="#141414" stroke-width="0.70"/>
<line x1="533.59" y1="285.15" x2="534.91" y2="285.15" stroke="#141414" stroke-width="0.70"/>
<line x1="533.59" y1="286.50" x2="535.70" y2="286.50" stroke="#141414" stroke-width="0.70"/>
<line x1="532.54" y1="283.35" x2="532.54" y2="285.60" stroke="#141414" stroke-width="0.70"/>
<line x1="532.54" y1="283.35" x2="533.74" y2="283.35" stroke="#141414" stroke-width="0.70"/>
<line x1="532.54" y1="285.60" x2="533.59" y2="285.60" stroke="#141414" stroke-width="0.70"/>
<line x1="533.77" y1="287.40" x2="533.77" y2="288.30" stroke="#141414" stroke-width="0.70"/>
<line x1="533.77" y1="287.40" x2="535.70" y2="287.40" stroke="#141414" stroke-width="0.70"/>
<line x1="533.77" y1="288.30" x2="535.70" y2="288.30" stroke="#141414" stroke-width="0.70"/>
<line x1="533.33" y1="287.85" x2="533.33" y2="289.06" stroke="#141414" stroke-width="0.70"/>
<line x1="533.33" y1="287.85" x2="533.77" y2="287.85" stroke="#141414" stroke-width="0.70"/>
<line x1="533.33" y1="289.06" x2="535.70" y2="289.06" stroke="#141414" stroke-width="0.70"/>
<line x1="531.56" y1="284.70" x2="531.56" y2="288.16" stroke="#141414" stroke-width="0.70"/>
<line x1="531.56" y1="284.70" x2="532.54" y2="284.70" stroke="#141414" stroke-width="0.70"/>
<line x1="531.56" y1="288.16" x2="533.33" y2="288.16" stroke="#141414" stroke-width="0.70"/>
<line x1="529.70" y1="285.91" x2="531.56" y2="285.91" stroke="#2a2a2a" stroke-width="0.55"/>
<line x1="534.75" y1="290.71" x2="534.75" y2="291.61" stroke="#141414" stroke-width="0.70"/>
<line x1="534.75" y1="290.71" x2="535.70" y2="290.71" stroke="#141414" stroke-width="0.70"/>
<line x1="534.75" y1="291.61" x2="535.70" y2="291.61" stroke="#141414" stroke-width="0.70"/>
<line x1="534.26" y1="289.81" x2="534.26" y2="291.16" stroke="#141414" stroke-width="0.70"/>
<line x1="534.26" y1="289.81" x2="535.70" y2="289.81" stroke="#141414" stroke-width="0.70"/>
<line x1="534.26" y1="291.16" x2="534.75" y2="291.16" stroke="#141414" stroke-width="0.70"/>
<line x1="534.91" y1="292.51" x2="534.91" y2="293.26" stroke="#141414" stroke-width="0.70"/>
<line x1="534.91" y1="292.51" x2="535.70" y2="292.51" stroke="#141414" stroke-width="0.70"/>
<line x1="534.91" y1="293.26" x2="535.70" y2="293.26" stroke="#141414" stroke-width="0.70"/>
<line x1="532.83" y1="290.71" x2="532.83" y2="292.81" stroke="#141414" stroke-width="0.70"/>
<line x1="532.83" y1="290.71" x2="534.26" y2="290.71" stroke="#141414" stroke-width="0.70"/>
<line x1="532.83" y1="292.81" x2="534.91" y2="292.81" stroke="#141414" stroke-width="0.70"/>
<line x1="529.70" y1="291.46" x2="532.83" y2="291.46" stroke="#2a2a2a" stroke-width="0.55"/>
<line x1="534.41" y1="294.00" x2="534.41" y2="294.90" stroke="#141414" stroke-width="0.70"/>
<line x1="534.41" y1="294.00" x2="535.70" y2="294.00" stroke="#141414" stroke-width="0.70"/>
<line x1="534.41" y1="294.90" x2="535.70" y2="294.90" stroke="#141414" stroke-width="0.70"/>
<line x1="534.18" y1="295.80" x2="534.18" y2="296.70" stroke="#141414" stroke-width="0.70"/>
<line x1="534.18" y1="295.80" x2="535.70" y2="295.80" stroke="#141414" stroke-width="0.70"/>
<line x1="534.18" y1="296.70" x2="535.70" y2="296.70" stroke="#141414" stroke-width="0.70"/>
<line x1="533.88" y1="297.60" x2="533.88" y2="298.40" stroke="#141414" stroke-width="0.70"/>
<line x1="533.88" y1="297.60" x2="535.70" y2="297.60" stroke="#141414" stroke-width="0.70"/>
<line x1="533.88" y1="298.40" x2="535.70" y2="298.40" stroke="#141414" stroke-width="0.70"/>
<line x1="533.68" y1="296.25" x2="533.68" y2="297.95" stroke="#141414" stroke-width="0.70"/>
<line x1="533.68" y1="296.25" x2="534.18" y2="296.25" stroke="#141414" stroke-width="0.70"/>
<line x1="533.68" y1="297.95" x2="533.88" y2="297.95" stroke="#141414" stroke-width="0.70"/>
<line x1="532.90" y1="294.45" x2="532.90" y2="297.05" stroke="#141414" stroke-width="0.70"/>
<line x1="532.90" y1="294.45" x2="534.41" y2="294.45" stroke="#141414" stroke-width="0.70"/>
<line x1="532.90" y1="297.05" x2="533.68" y2="297.05" stroke="#141414" stroke-width="0.70"/>
<line x1="529.70" y1="296.15" x2="532.90" y2="296.15" stroke="#2a2a2a" stroke-width="0.55"/>
<line x1="534.74" y1="300.10" x2="534.74" y2="301.00" stroke="#141414" stroke-width="0.70"/>
<line x1="534.74" y1="300.10" x2="535.70" y2="300.10" stroke="#141414" stroke-width="0.70"/>
<line x1="534.74" y1="301.00" x2="535.70" y2="301.00" stroke="#141414" stroke-width="0.70"/>
<line x1="533.46" y1="299.20" x2="533.46" y2="300.55" stroke="#141414" stroke-width="0.70"/>
<line x1="533.46" y1="299.20" x2="535.70" y2="299.20" stroke="#141414" stroke-width="0.70"/>
<line x1="533.46" y1="300.55" x2="534.74" y2="300.55" stroke="#141414" stroke-width="0.70"/>
<line x1="533.26" y1="300.10" x2="533.26" y2="301.90" stroke="#141414" stroke-width="0.70"/>
<line x1="533.26" y1="300.10" x2="533.46" y2="300.10" stroke="#141414" stroke-width="0.70"/>
<line x1="533.26" y1="301.90" x2="535.70" y2="301.90" stroke="#141414" stroke-width="0.70"/>
<line x1="534.12" y1="302.80" x2="534.12" y2="303.70" stroke="#141414" stroke-width="0.70"/>
<line x1="534.12" y1="302.80" x2="535.70" y2="302.80" stroke="#141414" stroke-width="0.70"/>
<line x1="534.12" y1="303.70" x2="535.70" y2="303.70" stroke="#141414" stroke-width="0.70"/>
<line x1="534.49" y1="305.50" x2="534.49" y2="306.42" stroke="#141414" stroke-width="0.70"/>
<line x1="534.49" y1="305.50" x2="535.70" y2="305.50" stroke="#141414" stroke-width="0.70"/>
<line x1="534.49" y1="306.42" x2="535.70" y2="306.42" stroke="#141414" stroke-width="0.70"/>
<line x1="534.29" y1="304.60" x2="534.29" y2="305.97" stroke="#141414" stroke-width="0.70"/>
<line x1="534.29" y1="304.60" x2="535.70" y2="304.60" stroke="#141414" stroke-width="0.70"/>
<line x1="534.29" y1="305.97" x2="534.49" y2="305.97" stroke="#141414" stroke-width="0.70"/>
<line x1="533.06" y1="303.25" x2="533.06" y2="305.52" stroke="#141414" stroke-width="0.70"/>
<line x1="533.06" y1="303.25" x2="534.12" y2="303.25" stroke="#141414" stroke-width="0.70"/>
<line x1="533.06" y1="305.52" x2="534.29" y2="305.52" stroke="#141414" stroke-width="0.70"/>
<line x1="531.98" y1="300.55" x2="531.98" y2="304.62" stroke="#141414" stroke-width="0.70"/>
<line x1="531.98" y1="300.55" x2="533.26" y2="300.55" stroke="#141414" stroke-width="0.70"/>
<line x1="531.98" y1="304.62" x2="533.06" y2="304.62" stroke="#141414" stroke-width="0.70"/>
<line x1="529.70" y1="302.82" x2="531.98" y2="302.82" stroke="#2a2a2a" stroke-width="0.55"/>
<line x1="533.65" y1="308.24" x2="533.65" y2="309.14" stroke="#141414" stroke-width="0.70"/>
<line x1="533.65" y1="308.24" x2="535.70" y2="308.24" stroke="#141414" stroke-width="0.70"/>
<line x1="533.65" y1="309.14" x2="535.70" y2="309.14" stroke="#141414" stroke-width="0.70"/>
<line x1="533.28" y1="307.34" x2="533.28" y2="308.69" stroke="#141414" stroke-width="0.70"/>
<line x1="533.28" y1="307.34" x2="535.70" y2="307.34" stroke="#141414" stroke-width="0.70"/>
<line x1="533.28" y1="308.69" x2="533.65" y2="308.69" stroke="#141414" stroke-width="0.70"/>
<line x1="533.69" y1="310.04" x2="533.69" y2="310.94" stroke="#141414" stroke-width="0.70"/>
<line x1="533.69" y1="310.04" x2="535.70" y2="310.04" stroke="#141414" stroke-width="0.70"/>
<line x1="533.69" y1="310.94" x2="535.70" y2="310.94" stroke="#141414" stroke-width="0.70"/>
<line x1="532.64" y1="308.24" x2="532.64" y2="310.49" stroke="#141414" stroke-width="0.70"/>
<line x1="532.64" y1="308.24" x2="533.28" y2="308.24" stroke="#141414" stroke-width="0.70"/>
<line x1="532.64" y1="310.49" x2="533.69" y2="310.49" stroke="#141414" stroke-width="0.70"/>
<line x1="534.84" y1="312.74" x2="534.84" y2="313.44" stroke="#141414" stroke-width="0.70"/>
<line x1="534.84" y1="312.74" x2="535.70" y2="312.74" stroke="#141414" stroke-width="0.70"/>
<line x1="534.84" y1="313.44" x2="535.70" y2="313.44" stroke="#141414" stroke-width="0.70"/>
<line x1="533.71" y1="311.84" x2="533.71" y2="312.99" stroke="#141414" stroke-width="0.70"/>
<line x1="533.71" y1="311.84" x2="535.70" y2="311.84" stroke="#141414" stroke-width="0.70"/>
<line x1="533.71" y1="312.99" x2="534.84" y2="312.99" stroke="#141414" stroke-width="0.70"/>
<line x1="531.17" y1="309.14" x2="531.17" y2="312.54" stroke="#141414" stroke-width="0.70"/>
<line x1="531.17" y1="309.14" x2="532.64" y2="309.14" stroke="#141414" stroke-width="0.70"/>
<line x1="531.17" y1="312.54" x2="533.71" y2="312.54" stroke="#141414" stroke-width="0.70"/>
<line x1="529.70" y1="310.29" x2="531.17" y2="310.29" stroke="#2a2a2a" stroke-width="0.55"/>
<line x1="529.70" y1="263.21" x2="529.70" y2="310.29" stroke="#555" stroke-width="0.55"/>
<line x1="529.10" y1="279.60" x2="529.70" y2="279.60" stroke="#666" stroke-width="0.60"/>
<line x1="533.96" y1="315.05" x2="533.96" y2="315.95" stroke="#141414" stroke-width="0.70"/>
<line x1="533.96" y1="315.05" x2="535.70" y2="315.05" stroke="#141414" stroke-width="0.70"/>
<line x1="533.96" y1="315.95" x2="535.70" y2="315.95" stroke="#141414" stroke-width="0.70"/>
<line x1="533.86" y1="316.85" x2="533.86" y2="317.66" stroke="#141414" stroke-width="0.70"/>
<line x1="533.86" y1="316.85" x2="535.70" y2="316.85" stroke="#141414" stroke-width="0.70"/>
<line x1="533.86" y1="317.66" x2="535.70" y2="317.66" stroke="#141414" stroke-width="0.70"/>
<line x1="532.84" y1="315.50" x2="532.84" y2="317.21" stroke="#141414" stroke-width="0.70"/>
<line x1="532.84" y1="315.50" x2="533.96" y2="315.50" stroke="#141414" stroke-width="0.70"/>
<line x1="532.84" y1="317.21" x2="533.86" y2="317.21" stroke="#141414" stroke-width="0.70"/>
<line x1="532.64" y1="314.15" x2="532.64" y2="316.31" stroke="#141414" stroke-width="0.70"/>
<line x1="532.64" y1="314.15" x2="535.70" y2="314.15" stroke="#141414" stroke-width="0.70"/>
<line x1="532.64" y1="316.31" x2="532.84" y2="316.31" stroke="#141414" stroke-width="0.70"/>
<line x1="529.70" y1="315.86" x2="532.64" y2="315.86" stroke="#2a2a2a" stroke-width="0.55"/>
<line x1="534.67" y1="320.26" x2="534.67" y2="321.16" stroke="#141414" stroke-width="0.70"/>
<line x1="534.67" y1="320.26" x2="535.70" y2="320.26" stroke="#141414" stroke-width="0.70"/>
<line x1="534.67" y1="321.16" x2="535.70" y2="321.16" stroke="#141414" stroke-width="0.70"/>
<line x1="532.94" y1="319.36" x2="532.94" y2="320.71" stroke="#141414" stroke-width="0.70"/>
<line x1="532.94" y1="319.36" x2="535.70" y2="319.36" stroke="#141414" stroke-width="0.70"/>
<line x1="532.94" y1="320.71" x2="534.67" y2="320.71" stroke="#141414" stroke-width="0.70"/>
<line x1="534.08" y1="322.06" x2="534.08" y2="322.96" stroke="#141414" stroke-width="0.70"/>
<line x1="534.08" y1="322.06" x2="535.70" y2="322.06" stroke="#141414" stroke-width="0.70"/>
<line x1="534.08" y1="322.96" x2="535.70" y2="322.96" stroke="#141414" stroke-width="0.70"/>
<line x1="533.54" y1="322.51" x2="533.54" y2="323.81" stroke="#141414" stroke-width="0.70"/>
<line x1="533.54" y1="322.51" x2="534.08" y2="322.51" stroke="#141414" stroke-width="0.70"/>
<line x1="533.54" y1="323.81" x2="535.70" y2="323.81" stroke="#141414" stroke-width="0.70"/>
<line x1="532.07" y1="320.26" x2="532.07" y2="322.91" stroke="#141414" stroke-width="0.70"/>
<line x1="532.07" y1="320.26" x2="532.94" y2="320.26" stroke="#141414" stroke-width="0.70"/>
<line x1="532.07" y1="322.91" x2="533.54" y2="322.91" stroke="#141414" stroke-width="0.70"/>
<line x1="531.87" y1="318.46" x2="531.87" y2="321.56" stroke="#141414" stroke-width="0.70"/>
<line x1="531.87" y1="318.46" x2="535.70" y2="318.46" stroke="#141414" stroke-width="0.70"/>
<line x1="531.87" y1="321.56" x2="532.07" y2="321.56" stroke="#141414" stroke-width="0.70"/>
<line x1="529.70" y1="321.11" x2="531.87" y2="321.11" stroke="#2a2a2a" stroke-width="0.55"/>
<line x1="533.80" y1="325.56" x2="533.80" y2="326.46" stroke="#141414" stroke-width="0.70"/>
<line x1="533.80" y1="325.56" x2="535.70" y2="325.56" stroke="#141414" stroke-width="0.70"/>
<line x1="533.80" y1="326.46" x2="535.70" y2="326.46" stroke="#141414" stroke-width="0.70"/>
<line x1="534.26" y1="327.36" x2="534.26" y2="328.27" stroke="#141414" stroke-width="0.70"/>
<line x1="534.26" y1="327.36" x2="535.70" y2="327.36" stroke="#141414" stroke-width="0.70"/>
<line x1="534.26" y1="328.27" x2="535.70" y2="328.27" stroke="#141414" stroke-width="0.70"/>
<line x1="533.44" y1="326.01" x2="533.44" y2="327.82" stroke="#141414" stroke-width="0.70"/>
<line x1="533.44" y1="326.01" x2="533.80" y2="326.01" stroke="#141414" stroke-width="0.70"/>
<line x1="533.44" y1="327.82" x2="534.26" y2="327.82" stroke="#141414" stroke-width="0.70"/>
<line x1="532.28" y1="324.66" x2="532.28" y2="326.92" stroke="#141414" stroke-width="0.70"/>
<line x1="532.28" y1="324.66" x2="535.70" y2="324.66" stroke="#141414" stroke-width="0.70"/>
<line x1="532.28" y1="326.92" x2="533.44" y2="326.92" stroke="#141414" stroke-width="0.70"/>
<line x1="529.70" y1="326.47" x2="532.28" y2="326.47" stroke="#2a2a2a" stroke-width="0.55"/>
<line x1="534.09" y1="329.18" x2="534.09" y2="330.08" stroke="#141414" stroke-width="0.70"/>
<line x1="534.09" y1="329.18" x2="535.70" y2="329.18" stroke="#141414" stroke-width="0.70"/>
<line x1="534.09" y1="330.08" x2="535.70" y2="330.08" stroke="#141414" stroke-width="0.70"/>
<line x1="534.88" y1="330.98" x2="534.88" y2="331.88" stroke="#141414" stroke-width="0.70"/>
<line x1="534.88" y1="330.98" x2="535.70" y2="330.98" stroke="#141414" stroke-width="0.70"/>
<line x1="534.88" y1="331.88" x2="535.70" y2="331.88" stroke="#141414" stroke-width="0.70"/>
<line x1="533.77" y1="331.43" x2="533.77" y2="332.78" stroke="#141414" stroke-width="0.70"/>
<line x1="533.77" y1="331.43" x2="534.88" y2="331.43" stroke="#141414" stroke-width="0.70"/>
<line x1="533.77" y1="332.78" x2="535.70" y2="332.78" stroke="#141414" stroke-width="0.70"/>
<line x1="534.29" y1="333.68" x2="534.29" y2="334.58" stroke="#141414" stroke-width="0.70"/>
<line x1="534.29" y1="333.68" x2="535.70" y2="333.68" stroke="#141414" stroke-width="0.70"/>
<line x1="534.29" y1="334.58" x2="535.70" y2="334.58" stroke="#141414" stroke-width="0.70"/>
<line x1="532.32" y1="331.88" x2="532.32" y2="334.13" stroke="#141414" stroke-width="0.70"/>
<line x1="532.32" y1="331.88" x2="533.77" y2="331.88" stroke="#141414" stroke-width="0.70"/>
<line x1="532.32" y1="334.13" x2="534.29" y2="334.13" stroke="#141414" stroke-width="0.70"/>
<line x1="532.12" y1="329.63" x2="532.12" y2="332.78" stroke="#141414" stroke-width="0.70"/>
<line x1="532.12" y1="329.63" x2="534.09" y2="329.63" stroke="#141414" stroke-width="0.70"/>
<line x1="532.12" y1="332.78" x2="532.32" y2="332.78" stroke="#141414" stroke-width="0.70"/>
<line x1="534.08" y1="335.48" x2="534.08" y2="336.38" stroke="#141414" stroke-width="0.70"/>
<line x1="534.08" y1="335.48" x2="535.70" y2="335.48" stroke="#141414" stroke-width="0.70"/>
<line x1="534.08" y1="336.38" x2="535.70" y2="336.38" stroke="#141414" stroke-width="0.70"/>
<line x1="533.57" y1="335.93" x2="533.57" y2="337.15" stroke="#141414" stroke-width="0.70"/>
<line x1="533.57" y1="335.93" x2="534.08" y2="335.93" stroke="#141414" stroke-width="0.70"/>
<line x1="533.57" y1="337.15" x2="535.70" y2="337.15" stroke="#141414" stroke-width="0.70"/>
<line x1="530.73" y1="331.88" x2="530.73" y2="336.25" stroke="#141414" stroke-width="0.70"/>
<line x1="530.73" y1="331.88" x2="532.12" y2="331.88" stroke="#141414" stroke-width="0.70"/>
<line x1="530.73" y1="336.25" x2="533.57" y2="336.25" stroke="#141414" stroke-width="0.70"/>
<line x1="529.70" y1="333.10" x2="530.73" y2="333.10" stroke="#2a2a2a" stroke-width="0.55"/>
<line x1="534.82" y1="337.92" x2="534.82" y2="338.82" stroke="#141414" stroke-width="0.70"/>
<line x1="534.82" y1="337.92" x2="535.70" y2="337.92" stroke="#141414" stroke-width="0.70"/>
<line x1="534.82" y1="338.82" x2="535.70" y2="338.82" stroke="#141414" stroke-width="0.70"/>
<line x1="533.33" y1="338.37" x2="533.33" y2="339.72" stroke="#141414" stroke-width="0.70"/>
<line x1="533.33" y1="338.37" x2="534.82" y2="338.37" stroke="#141414" stroke-width="0.70"/>
<line x1="533.33" y1="339.72" x2="535.70" y2="339.72" stroke="#141414" stroke-width="0.70"/>
<line x1="533.67" y1="340.62" x2="533.67" y2="341.52" stroke="#141414" stroke-width="0.70"/>
<line x1="533.67" y1="340.62" x2="535.70" y2="340.62" stroke="#141414" stroke-width="0.70"/>
<line x1="533.67" y1="341.52" x2="535.70" y2="341.52" stroke="#141414" stroke-width="0.70"/>
<line x1="534.31" y1="343.32" x2="534.31" y2="344.22" stroke="#141414" stroke-width="0.70"/>
<line x1="534.31" y1="343.32" x2="535.70" y2="343.32" stroke="#141414" stroke-width="0.70"/>
<line x1="534.31" y1="344.22" x2="535.70" y2="344.22" stroke="#141414" stroke-width="0.70"/>
<line x1="533.05" y1="343.77" x2="533.05" y2="345.26" stroke="#141414" stroke-width="0.70"/>
<line x1="533.05" y1="343.77" x2="534.31" y2="343.77" stroke="#141414" stroke-width="0.70"/>
<line x1="533.05" y1="345.26" x2="535.70" y2="345.26" stroke="#141414" stroke-width="0.70"/>
<line x1="532.85" y1="342.42" x2="532.85" y2="344.36" stroke="#141414" stroke-width="0.70"/>
<line x1="532.85" y1="342.42" x2="535.70" y2="342.42" stroke="#141414" stroke-width="0.70"/>
<line x1="532.85" y1="344.36" x2="533.05" y2="344.36" stroke="#141414" stroke-width="0.70"/>
<line x1="532.03" y1="341.07" x2="532.03" y2="343.91" stroke="#141414" stroke-width="0.70"/>
<line x1="532.03" y1="341.07" x2="533.67" y2="341.07" stroke="#141414" stroke-width="0.70"/>
<line x1="532.03" y1="343.91" x2="532.85" y2="343.91" stroke="#141414" stroke-width="0.70"/>
<line x1="531.03" y1="338.82" x2="531.03" y2="343.01" stroke="#141414" stroke-width="0.70"/>
<line x1="531.03" y1="338.82" x2="533.33" y2="338.82" stroke="#141414" stroke-width="0.70"/>
<line x1="531.03" y1="343.01" x2="532.03" y2="343.01" stroke="#141414" stroke-width="0.70"/>
<line x1="529.70" y1="341.66" x2="531.03" y2="341.66" stroke="#2a2a2a" stroke-width="0.55"/>
<line x1="534.02" y1="347.19" x2="534.02" y2="348.09" stroke="#141414" stroke-width="0.70"/>
<line x1="534.02" y1="347.19" x2="535.70" y2="347.19" stroke="#141414" stroke-width="0.70"/>
<line x1="534.02" y1="348.09" x2="535.70" y2="348.09" stroke="#141414" stroke-width="0.70"/>
<line x1="534.11" y1="348.99" x2="534.11" y2="349.89" stroke="#141414" stroke-width="0.70"/>
<line x1="534.11" y1="348.99" x2="535.70" y2="348.99" stroke="#141414" stroke-width="0.70"/>
<line x1="534.11" y1="349.89" x2="535.70" y2="349.89" stroke="#141414" stroke-width="0.70"/>
<line x1="532.91" y1="347.64" x2="532.91" y2="349.44" stroke="#141414" stroke-width="0.70"/>
<line x1="532.91" y1="347.64" x2="534.02" y2="347.64" stroke="#141414" stroke-width="0.70"/>
<line x1="532.91" y1="349.44" x2="534.11" y2="349.44" stroke="#141414" stroke-width="0.70"/>
<line x1="531.92" y1="346.29" x2="531.92" y2="348.54" stroke="#141414" stroke-width="0.70"/>
<line x1="531.92" y1="346.29" x2="535.70" y2="346.29" stroke="#141414" stroke-width="0.70"/>
<line x1="531.92" y1="348.54" x2="532.91" y2="348.54" stroke="#141414" stroke-width="0.70"/>
<line x1="534.85" y1="351.69" x2="534.85" y2="352.59" stroke="#141414" stroke-width="0.70"/>
<line x1="534.85" y1="351.69" x2="535.70" y2="351.69" stroke="#141414" stroke-width="0.70"/>
<line x1="534.85" y1="352.59" x2="535.70" y2="352.59" stroke="#141414" stroke-width="0.70"/>
<line x1="533.18" y1="352.14" x2="533.18" y2="353.49" stroke="#141414" stroke-width="0.70"/>
<line x1="533.18" y1="352.14" x2="534.85" y2="352.14" stroke="#141414" stroke-width="0.70"/>
<line x1="533.18" y1="353.49" x2="535.70" y2="353.49" stroke="#141414" stroke-width="0.70"/>
<line x1="532.98" y1="350.79" x2="532.98" y2="352.59" stroke="#141414" stroke-width="0.70"/>
<line x1="532.98" y1="350.79" x2="535.70" y2="350.79" stroke="#141414" stroke-width="0.70"/>
<line x1="532.98" y1="352.59" x2="533.18" y2="352.59" stroke="#141414" stroke-width="0.70"/>
<line x1="534.51" y1="354.39" x2="534.51" y2="355.29" stroke="#141414" stroke-width="0.70"/>
<line x1="534.51" y1="354.39" x2="535.70" y2="354.39" stroke="#141414" stroke-width="0.70"/>
<line x1="534.51" y1="355.29" x2="535.70" y2="355.29" stroke="#141414" stroke-width="0.70"/>
<line x1="533.55" y1="354.84" x2="533.55" y2="356.19" stroke="#141414" stroke-width="0.70"/>
<line x1="533.55" y1="354.84" x2="534.51" y2="354.84" stroke="#141414" stroke-width="0.70"/>
<line x1="533.55" y1="356.19" x2="535.70" y2="356.19" stroke="#141414" stroke-width="0.70"/>
<line x1="534.77" y1="358.89" x2="534.77" y2="359.79" stroke="#141414" stroke-width="0.70"/>
<line x1="534.77" y1="358.89" x2="535.70" y2="358.89" stroke="#141414" stroke-width="0.70"/>
<line x1="534.77" y1="359.79" x2="535.70" y2="359.79" stroke="#141414" stroke-width="0.70"/>
<line x1="533.22" y1="357.99" x2="533.22" y2="359.34" stroke="#141414" stroke-width="0.70"/>
<line x1="533.22" y1="357.99" x2="535.70" y2="357.99" stroke="#141414" stroke-width="0.70"/>
<line x1="533.22" y1="359.34" x2="534.77" y2="359.34" stroke="#141414" stroke-width="0.70"/>
<line x1="533.02" y1="358.89" x2="533.02" y2="360.69" stroke="#141414" stroke-width="0.70"/>
<line x1="533.02" y1="358.89" x2="533.22" y2="358.89" stroke="#141414" stroke-width="0.70"/>
<line x1="533.02" y1="360.69" x2="535.70" y2="360.69" stroke="#141414" stroke-width="0.70"/>
<line x1="532.77" y1="359.34" x2="532.77" y2="361.59" stroke="#141414" stroke-width="0.70"/>
<line x1="532.77" y1="359.34" x2="533.02" y2="359.34" stroke="#141414" stroke-width="0.70"/>
<line x1="532.77" y1="361.59" x2="535.70" y2="361.59" stroke="#141414" stroke-width="0.70"/>
<line x1="532.57" y1="359.79" x2="532.57" y2="362.49" stroke="#141414" stroke-width="0.70"/>
<line x1="532.57" y1="359.79" x2="532.77" y2="359.79" stroke="#141414" stroke-width="0.70"/>
<line x1="532.57" y1="362.49" x2="535.70" y2="362.49" stroke="#141414" stroke-width="0.70"/>
<line x1="532.37" y1="357.09" x2="532.37" y2="360.24" stroke="#141414" stroke-width="0.70"/>
<line x1="532.37" y1="357.09" x2="535.70" y2="357.09" stroke="#141414" stroke-width="0.70"/>
<line x1="532.37" y1="360.24" x2="532.57" y2="360.24" stroke="#141414" stroke-width="0.70"/>
<line x1="532.17" y1="355.29" x2="532.17" y2="359.79" stroke="#141414" stroke-width="0.70"/>
<line x1="532.17" y1="355.29" x2="533.55" y2="355.29" stroke="#141414" stroke-width="0.70"/>
<line x1="532.17" y1="359.79" x2="532.37" y2="359.79" stroke="#141414" stroke-width="0.70"/>
<line x1="534.09" y1="363.39" x2="534.09" y2="364.29" stroke="#141414" stroke-width="0.70"/>
<line x1="534.09" y1="363.39" x2="535.70" y2="363.39" stroke="#141414" stroke-width="0.70"/>
<line x1="534.09" y1="364.29" x2="535.70" y2="364.29" stroke="#141414" stroke-width="0.70"/>
<line x1="532.99" y1="363.84" x2="532.99" y2="365.19" stroke="#141414" stroke-width="0.70"/>
<line x1="532.99" y1="363.84" x2="534.09" y2="363.84" stroke="#141414" stroke-width="0.70"/>
<line x1="532.99" y1="365.19" x2="535.70" y2="365.19" stroke="#141414" stroke-width="0.70"/>
<line x1="531.50" y1="358.44" x2="531.50" y2="364.29" stroke="#141414" stroke-width="0.70"/>
<line x1="531.50" y1="358.44" x2="532.17" y2="358.44" stroke="#141414" stroke-width="0.70"/>
<line x1="531.50" y1="364.29" x2="532.99" y2="364.29" stroke="#141414" stroke-width="0.70"/>
<line x1="534.78" y1="366.09" x2="534.78" y2="366.93" stroke="#141414" stroke-width="0.70"/>
<line x1="534.78" y1="366.09" x2="535.70" y2="366.09" stroke="#141414" stroke-width="0.70"/>
<line x1="534.78" y1="366.93" x2="535.70" y2="366.93" stroke="#141414" stroke-width="0.70"/>
<line x1="531.30" y1="359.79" x2="531.30" y2="366.48" stroke="#141414" stroke-width="0.70"/>
<line x1="531.30" y1="359.79" x2="531.50" y2="359.79" stroke="#141414" stroke-width="0.70"/>
<line x1="531.30" y1="366.48" x2="534.78" y2="366.48" stroke="#141414" stroke-width="0.70"/>
<line x1="530.77" y1="352.14" x2="530.77" y2="360.63" stroke="#141414" stroke-width="0.70"/>
<line x1="530.77" y1="352.14" x2="532.98" y2="352.14" stroke="#141414" stroke-width="0.70"/>
<line x1="530.77" y1="360.63" x2="531.30" y2="360.63" stroke="#141414" stroke-width="0.70"/>
<line x1="530.57" y1="348.09" x2="530.57" y2="358.83" stroke="#141414" stroke-width="0.70"/>
<line x1="530.57" y1="348.09" x2="531.92" y2="348.09" stroke="#141414" stroke-width="0.70"/>
<line x1="530.57" y1="358.83" x2="530.77" y2="358.83" stroke="#141414" stroke-width="0.70"/>
<line x1="529.70" y1="356.58" x2="530.57" y2="356.58" stroke="#2a2a2a" stroke-width="0.55"/>
<line x1="534.41" y1="367.76" x2="534.41" y2="368.66" stroke="#141414" stroke-width="0.70"/>
<line x1="534.41" y1="367.76" x2="535.70" y2="367.76" stroke="#141414" stroke-width="0.70"/>
<line x1="534.41" y1="368.66" x2="535.70" y2="368.66" stroke="#141414" stroke-width="0.70"/>
<line x1="534.21" y1="368.21" x2="534.21" y2="369.56" stroke="#141414" stroke-width="0.70"/>
<line x1="534.21" y1="368.21" x2="534.41" y2="368.21" stroke="#141414" stroke-width="0.70"/>
<line x1="534.21" y1="369.56" x2="535.70" y2="369.56" stroke="#141414" stroke-width="0.70"/>
<line x1="534.94" y1="370.46" x2="534.94" y2="371.36" stroke="#141414" stroke-width="0.70"/>
<line x1="534.94" y1="370.46" x2="535.70" y2="370.46" stroke="#141414" stroke-width="0.70"/>
<line x1="534.94" y1="371.36" x2="535.70" y2="371.36" stroke="#141414" stroke-width="0.70"/>
<line x1="534.58" y1="374.96" x2="534.58" y2="375.86" stroke="#141414" stroke-width="0.70"/>
<line x1="534.58" y1="374.96" x2="535.70" y2="374.96" stroke="#141414" stroke-width="0.70"/>
<line x1="534.58" y1="375.86" x2="535.70" y2="375.86" stroke="#141414" stroke-width="0.70"/>
<line x1="533.51" y1="374.06" x2="533.51" y2="375.41" stroke="#141414" stroke-width="0.70"/>
<line x1="533.51" y1="374.06" x2="535.70" y2="374.06" stroke="#141414" stroke-width="0.70"/>
<line x1="533.51" y1="375.41" x2="534.58" y2="375.41" stroke="#141414" stroke-width="0.70"/>
<line x1="533.31" y1="374.96" x2="533.31" y2="376.76" stroke="#141414" stroke-width="0.70"/>
<line x1="533.31" y1="374.96" x2="533.51" y2="374.96" stroke="#141414" stroke-width="0.70"/>
<line x1="533.31" y1="376.76" x2="535.70" y2="376.76" stroke="#141414" stroke-width="0.70"/>
<line x1="532.91" y1="373.16" x2="532.91" y2="375.41" stroke="#141414" stroke-width="0.70"/>
<line x1="532.91" y1="373.16" x2="535.70" y2="373.16" stroke="#141414" stroke-width="0.70"/>
<line x1="532.91" y1="375.41" x2="533.31" y2="375.41" stroke="#141414" stroke-width="0.70"/>
<line x1="532.71" y1="372.26" x2="532.71" y2="374.96" stroke="#141414" stroke-width="0.70"/>
<line x1="532.71" y1="372.26" x2="535.70" y2="372.26" stroke="#141414" stroke-width="0.70"/>
<line x1="532.71" y1="374.96" x2="532.91" y2="374.96" stroke="#141414" stroke-width="0.70"/>
<line x1="532.51" y1="370.91" x2="532.51" y2="374.51" stroke="#141414" stroke-width="0.70"/>
<line x1="532.51" y1="370.91" x2="534.94" y2="370.91" stroke="#141414" stroke-width="0.70"/>
<line x1="532.51" y1="374.51" x2="532.71" y2="374.51" stroke="#141414" stroke-width="0.70"/>
<line x1="533.79" y1="377.66" x2="533.79" y2="378.40" stroke="#141414" stroke-width="0.70"/>
<line x1="533.79" y1="377.66" x2="535.70" y2="377.66" stroke="#141414" stroke-width="0.70"/>
<line x1="533.79" y1="378.40" x2="535.70" y2="378.40" stroke="#141414" stroke-width="0.70"/>
<line x1="531.05" y1="373.61" x2="531.05" y2="377.95" stroke="#141414" stroke-width="0.70"/>
<line x1="531.05" y1="373.61" x2="532.51" y2="373.61" stroke="#141414" stroke-width="0.70"/>
<line x1="531.05" y1="377.95" x2="533.79" y2="377.95" stroke="#141414" stroke-width="0.70"/>
<line x1="530.83" y1="368.66" x2="530.83" y2="374.35" stroke="#141414" stroke-width="0.70"/>
<line x1="530.83" y1="368.66" x2="534.21" y2="368.66" stroke="#141414" stroke-width="0.70"/>
<line x1="530.83" y1="374.35" x2="531.05" y2="374.35" stroke="#141414" stroke-width="0.70"/>
<line x1="529.70" y1="373.00" x2="530.83" y2="373.00" stroke="#2a2a2a" stroke-width="0.55"/>
<line x1="534.53" y1="380.04" x2="534.53" y2="380.94" stroke="#141414" stroke-width="0.70"/>
<line x1="534.53" y1="380.04" x2="535.70" y2="380.04" stroke="#141414" stroke-width="0.70"/>
<line x1="534.53" y1="380.94" x2="535.70" y2="380.94" stroke="#141414" stroke-width="0.70"/>
<line x1="533.67" y1="379.14" x2="533.67" y2="380.49" stroke="#141414" stroke-width="0.70"/>
<line x1="533.67" y1="379.14" x2="535.70" y2="379.14" stroke="#141414" stroke-width="0.70"/>
<line x1="533.67" y1="380.49" x2="534.53" y2="380.49" stroke="#141414" stroke-width="0.70"/>
<line x1="534.04" y1="383.64" x2="534.04" y2="384.54" stroke="#141414" stroke-width="0.70"/>
<line x1="534.04" y1="383.64" x2="535.70" y2="383.64" stroke="#141414" stroke-width="0.70"/>
<line x1="534.04" y1="384.54" x2="535.70" y2="384.54" stroke="#141414" stroke-width="0.70"/>
<line x1="533.84" y1="382.74" x2="533.84" y2="384.09" stroke="#141414" stroke-width="0.70"/>
<line x1="533.84" y1="382.74" x2="535.70" y2="382.74" stroke="#141414" stroke-width="0.70"/>
<line x1="533.84" y1="384.09" x2="534.04" y2="384.09" stroke="#141414" stroke-width="0.70"/>
<line x1="533.16" y1="381.84" x2="533.16" y2="383.64" stroke="#141414" stroke-width="0.70"/>
<line x1="533.16" y1="381.84" x2="535.70" y2="381.84" stroke="#141414" stroke-width="0.70"/>
<line x1="533.16" y1="383.64" x2="533.84" y2="383.64" stroke="#141414" stroke-width="0.70"/>
<line x1="532.53" y1="380.04" x2="532.53" y2="383.19" stroke="#141414" stroke-width="0.70"/>
<line x1="532.53" y1="380.04" x2="533.67" y2="380.04" stroke="#141414" stroke-width="0.70"/>
<line x1="532.53" y1="383.19" x2="533.16" y2="383.19" stroke="#141414" stroke-width="0.70"/>
<line x1="531.32" y1="381.84" x2="531.32" y2="385.44" stroke="#141414" stroke-width="0.70"/>
<line x1="531.32" y1="381.84" x2="532.53" y2="381.84" stroke="#141414" stroke-width="0.70"/>
<line x1="531.32" y1="385.44" x2="535.70" y2="385.44" stroke="#141414" stroke-width="0.70"/>
<line x1="531.12" y1="382.29" x2="531.12" y2="386.34" stroke="#141414" stroke-width="0.70"/>
<line x1="531.12" y1="382.29" x2="531.32" y2="382.29" stroke="#141414" stroke-width="0.70"/>
<line x1="531.12" y1="386.34" x2="535.70" y2="386.34" stroke="#141414" stroke-width="0.70"/>
<line x1="534.30" y1="388.14" x2="534.30" y2="389.04" stroke="#141414" stroke-width="0.70"/>
<line x1="534.30" y1="388.14" x2="535.70" y2="388.14" stroke="#141414" stroke-width="0.70"/>
<line x1="534.30" y1="389.04" x2="535.70" y2="389.04" stroke="#141414" stroke-width="0.70"/>
<line x1="533.92" y1="387.24" x2="533.92" y2="388.59" stroke="#141414" stroke-width="0.70"/>
<line x1="533.92" y1="387.24" x2="535.70" y2="387.24" stroke="#141414" stroke-width="0.70"/>
<line x1="533.92" y1="388.59" x2="534.30" y2="388.59" stroke="#141414" stroke-width="0.70"/>
<line x1="534.16" y1="389.94" x2="534.16" y2="390.84" stroke="#141414" stroke-width="0.70"/>
<line x1="534.16" y1="389.94" x2="535.70" y2="389.94" stroke="#141414" stroke-width="0.70"/>
<line x1="534.16" y1="390.84" x2="535.70" y2="390.84" stroke="#141414" stroke-width="0.70"/>
<line x1="533.96" y1="390.39" x2="533.96" y2="391.74" stroke="#141414" stroke-width="0.70"/>
<line x1="533.96" y1="390.39" x2="534.16" y2="390.39" stroke="#141414" stroke-width="0.70"/>
<line x1="533.96" y1="391.74" x2="535.70" y2="391.74" stroke="#141414" stroke-width="0.70"/>
<line x1="533.56" y1="390.84" x2="533.56" y2="392.64" stroke="#141414" stroke-width="0.70"/>
<line x1="533.56" y1="390.84" x2="533.96" y2="390.84" stroke="#141414" stroke-width="0.70"/>
<line x1="533.56" y1="392.64" x2="535.70" y2="392.64" stroke="#141414" stroke-width="0.70"/>
<line x1="533.27" y1="391.29" x2="533.27" y2="393.69" stroke="#141414" stroke-width="0.70"/>
<line x1="533.27" y1="391.29" x2="533.56" y2="391.29" stroke="#141414" stroke-width="0.70"/>
<line x1="533.27" y1="393.69" x2="535.70" y2="393.69" stroke="#141414" stroke-width="0.70"/>
<line x1="531.63" y1="388.14" x2="531.63" y2="391.89" stroke="#141414" stroke-width="0.70"/>
<line x1="531.63" y1="388.14" x2="533.92" y2="388.14" stroke="#141414" stroke-width="0.70"/>
<line x1="531.63" y1="391.89" x2="533.27" y2="391.89" stroke="#141414" stroke-width="0.70"/>
<line x1="530.92" y1="382.74" x2="530.92" y2="390.54" stroke="#141414" stroke-width="0.70"/>
<line x1="530.92" y1="382.74" x2="531.12" y2="382.74" stroke="#141414" stroke-width="0.70"/>
<line x1="530.92" y1="390.54" x2="531.63" y2="390.54" stroke="#141414" stroke-width="0.70"/>
<line x1="529.70" y1="386.49" x2="530.92" y2="386.49" stroke="#2a2a2a" stroke-width="0.55"/>
<line x1="534.49" y1="394.73" x2="534.49" y2="395.63" stroke="#141414" stroke-width="0.70"/>
<line x1="534.49" y1="394.73" x2="535.70" y2="394.73" stroke="#141414" stroke-width="0.70"/>
<line x1="534.49" y1="395.63" x2="535.70" y2="395.63" stroke="#141414" stroke-width="0.70"/>
<line x1="534.22" y1="397.43" x2="534.22" y2="398.33" stroke="#141414" stroke-width="0.70"/>
<line x1="534.22" y1="397.43" x2="535.70" y2="397.43" stroke="#141414" stroke-width="0.70"/>
<line x1="534.22" y1="398.33" x2="535.70" y2="398.33" stroke="#141414" stroke-width="0.70"/>
<line x1="533.48" y1="396.53" x2="533.48" y2="397.88" stroke="#141414" stroke-width="0.70"/>
<line x1="533.48" y1="396.53" x2="535.70" y2="396.53" stroke="#141414" stroke-width="0.70"/>
<line x1="533.48" y1="397.88" x2="534.22" y2="397.88" stroke="#141414" stroke-width="0.70"/>
<line x1="533.28" y1="395.18" x2="533.28" y2="397.43" stroke="#141414" stroke-width="0.70"/>
<line x1="533.28" y1="395.18" x2="534.49" y2="395.18" stroke="#141414" stroke-width="0.70"/>
<line x1="533.28" y1="397.43" x2="533.48" y2="397.43" stroke="#141414" stroke-width="0.70"/>
<line x1="533.62" y1="399.23" x2="533.62" y2="400.13" stroke="#141414" stroke-width="0.70"/>
<line x1="533.62" y1="399.23" x2="535.70" y2="399.23" stroke="#141414" stroke-width="0.70"/>
<line x1="533.62" y1="400.13" x2="535.70" y2="400.13" stroke="#141414" stroke-width="0.70"/>
<line x1="533.99" y1="401.93" x2="533.99" y2="402.83" stroke="#141414" stroke-width="0.70"/>
<line x1="533.99" y1="401.93" x2="535.70" y2="401.93" stroke="#141414" stroke-width="0.70"/>
<line x1="533.99" y1="402.83" x2="535.70" y2="402.83" stroke="#141414" stroke-width="0.70"/>
<line x1="533.73" y1="402.38" x2="533.73" y2="403.73" stroke="#141414" stroke-width="0.70"/>
<line x1="533.73" y1="402.38" x2="533.99" y2="402.38" stroke="#141414" stroke-width="0.70"/>
<line x1="533.73" y1="403.73" x2="535.70" y2="403.73" stroke="#141414" stroke-width="0.70"/>
<line x1="533.53" y1="402.83" x2="533.53" y2="404.63" stroke="#141414" stroke-width="0.70"/>
<line x1="533.53" y1="402.83" x2="533.73" y2="402.83" stroke="#141414" stroke-width="0.70"/>
<line x1="533.53" y1="404.63" x2="535.70" y2="404.63" stroke="#141414" stroke-width="0.70"/>
<line x1="533.01" y1="403.28" x2="533.01" y2="405.55" stroke="#141414" stroke-width="0.70"/>
<line x1="533.01" y1="403.28" x2="533.53" y2="403.28" stroke="#141414" stroke-width="0.70"/>
<line x1="533.01" y1="405.55" x2="535.70" y2="405.55" stroke="#141414" stroke-width="0.70"/>
<line x1="531.78" y1="401.03" x2="531.78" y2="403.75" stroke="#141414" stroke-width="0.70"/>
<line x1="531.78" y1="401.03" x2="535.70" y2="401.03" stroke="#141414" stroke-width="0.70"/>
<line x1="531.78" y1="403.75" x2="533.01" y2="403.75" stroke="#141414" stroke-width="0.70"/>
<line x1="531.33" y1="399.68" x2="531.33" y2="403.30" stroke="#141414" stroke-width="0.70"/>
<line x1="531.33" y1="399.68" x2="533.62" y2="399.68" stroke="#141414" stroke-width="0.70"/>
<line x1="531.33" y1="403.30" x2="531.78" y2="403.30" stroke="#141414" stroke-width="0.70"/>
<line x1="531.13" y1="396.53" x2="531.13" y2="402.40" stroke="#141414" stroke-width="0.70"/>
<line x1="531.13" y1="396.53" x2="533.28" y2="396.53" stroke="#141414" stroke-width="0.70"/>
<line x1="531.13" y1="402.40" x2="531.33" y2="402.40" stroke="#141414" stroke-width="0.70"/>
<line x1="529.70" y1="400.15" x2="531.13" y2="400.15" stroke="#2a2a2a" stroke-width="0.55"/>
<line x1="534.01" y1="407.36" x2="534.01" y2="408.26" stroke="#141414" stroke-width="0.70"/>
<line x1="534.01" y1="407.36" x2="535.70" y2="407.36" stroke="#141414" stroke-width="0.70"/>
<line x1="534.01" y1="408.26" x2="535.70" y2="408.26" stroke="#141414" stroke-width="0.70"/>
<line x1="533.81" y1="406.46" x2="533.81" y2="407.81" stroke="#141414" stroke-width="0.70"/>
<line x1="533.81" y1="406.46" x2="535.70" y2="406.46" stroke="#141414" stroke-width="0.70"/>
<line x1="533.81" y1="407.81" x2="534.01" y2="407.81" stroke="#141414" stroke-width="0.70"/>
<line x1="534.97" y1="410.06" x2="534.97" y2="410.96" stroke="#141414" stroke-width="0.70"/>
<line x1="534.97" y1="410.06" x2="535.70" y2="410.06" stroke="#141414" stroke-width="0.70"/>
<line x1="534.97" y1="410.96" x2="535.70" y2="410.96" stroke="#141414" stroke-width="0.70"/>
<line x1="532.96" y1="409.16" x2="532.96" y2="410.51" stroke="#141414" stroke-width="0.70"/>
<line x1="532.96" y1="409.16" x2="535.70" y2="409.16" stroke="#141414" stroke-width="0.70"/>
<line x1="532.96" y1="410.51" x2="534.97" y2="410.51" stroke="#141414" stroke-width="0.70"/>
<line x1="532.33" y1="407.36" x2="532.33" y2="410.06" stroke="#141414" stroke-width="0.70"/>
<line x1="532.33" y1="407.36" x2="533.81" y2="407.36" stroke="#141414" stroke-width="0.70"/>
<line x1="532.33" y1="410.06" x2="532.96" y2="410.06" stroke="#141414" stroke-width="0.70"/>
<line x1="534.32" y1="413.66" x2="534.32" y2="414.56" stroke="#141414" stroke-width="0.70"/>
<line x1="534.32" y1="413.66" x2="535.70" y2="413.66" stroke="#141414" stroke-width="0.70"/>
<line x1="534.32" y1="414.56" x2="535.70" y2="414.56" stroke="#141414" stroke-width="0.70"/>
<line x1="534.12" y1="412.76" x2="534.12" y2="414.11" stroke="#141414" stroke-width="0.70"/>
<line x1="534.12" y1="412.76" x2="535.70" y2="412.76" stroke="#141414" stroke-width="0.70"/>
<line x1="534.12" y1="414.11" x2="534.32" y2="414.11" stroke="#141414" stroke-width="0.70"/>
<line x1="533.47" y1="411.86" x2="533.47" y2="413.66" stroke="#141414" stroke-width="0.70"/>
<line x1="533.47" y1="411.86" x2="535.70" y2="411.86" stroke="#141414" stroke-width="0.70"/>
<line x1="533.47" y1="413.66" x2="534.12" y2="413.66" stroke="#141414" stroke-width="0.70"/>
<line x1="533.63" y1="415.46" x2="533.63" y2="416.46" stroke="#141414" stroke-width="0.70"/>
<line x1="533.63" y1="415.46" x2="535.70" y2="415.46" stroke="#141414" stroke-width="0.70"/>
<line x1="533.63" y1="416.46" x2="535.70" y2="416.46" stroke="#141414" stroke-width="0.70"/>
<line x1="532.71" y1="413.21" x2="532.71" y2="416.01" stroke="#141414" stroke-width="0.70"/>
<line x1="532.71" y1="413.21" x2="533.47" y2="413.21" stroke="#141414" stroke-width="0.70"/>
<line x1="532.71" y1="416.01" x2="533.63" y2="416.01" stroke="#141414" stroke-width="0.70"/>
<line x1="531.29" y1="408.71" x2="531.29" y2="414.21" stroke="#141414" stroke-width="0.70"/>
<line x1="531.29" y1="408.71" x2="532.33" y2="408.71" stroke="#141414" stroke-width="0.70"/>
<line x1="531.29" y1="414.21" x2="532.71" y2="414.21" stroke="#141414" stroke-width="0.70"/>
<line x1="529.70" y1="411.51" x2="531.29" y2="411.51" stroke="#2a2a2a" stroke-width="0.55"/>
<line x1="529.70" y1="315.86" x2="529.70" y2="411.51" stroke="#555" stroke-width="0.55"/>
<line x1="529.10" y1="344.30" x2="529.70" y2="344.30" stroke="#666" stroke-width="0.60"/>
<text x="567.70" y="431.00" font-size="7.00" font-weight="bold" text-anchor="middle" fill="#111" textLength="19.00" lengthAdjust="spacingAndGlyphs">Sham</text>
<text x="629.00" y="431.00" font-size="7.00" font-weight="bold" text-anchor="middle" fill="#111" textLength="11.90" lengthAdjust="spacingAndGlyphs">SCI</text>
<defs><linearGradient id="g660" x1="0" y1="0" x2="0" y2="1"><stop offset="0" stop-color="#c050f5"/><stop offset="0.5" stop-color="#ffffff"/><stop offset="1" stop-color="#28d09c"/></linearGradient></defs>
<rect x="660.20" y="260.60" width="3.2" height="60.90" fill="url(#g660)"/>
<text x="665.10" y="269.60" font-size="7.00" font-weight="normal" text-anchor="start" fill="#111">1.5</text>
<text x="665.10" y="277.70" font-size="7.00" font-weight="normal" text-anchor="start" fill="#111">1</text>
<text x="665.10" y="286.20" font-size="7.00" font-weight="normal" text-anchor="start" fill="#111">0.5</text>
<text x="665.10" y="293.90" font-size="7.00" font-weight="normal" text-anchor="start" fill="#111">0</text>
<text x="665.10" y="302.00" font-size="7.00" font-weight="normal" text-anchor="start" fill="#111">-0.5</text>
<text x="665.10" y="310.10" font-size="7.00" font-weight="normal" text-anchor="start" fill="#111">-1</text>
<text x="665.10" y="318.20" font-size="7.00" font-weight="normal" text-anchor="start" fill="#111">-1.5</text>
</svg></body></html>
